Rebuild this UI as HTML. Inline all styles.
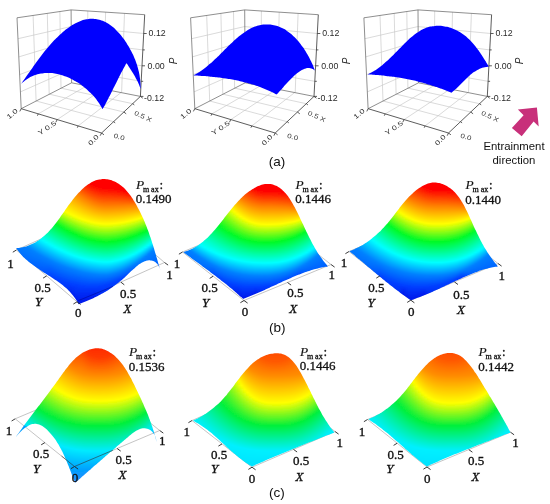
<!DOCTYPE html><html><head><meta charset="utf-8"><style>
html,body{margin:0;padding:0;background:#fff;}
svg{display:block}
.g{stroke:#c6c6c6;stroke-width:.65}
.e{stroke:#6a6a6a;stroke-width:.75}
.k{stroke:#333;stroke-width:.8}
.f{stroke:#aaa;stroke-width:.7}
.f2{stroke:#333;stroke-width:.6}
.t{stroke:#222;stroke-width:.9}
text{font-family:"Liberation Sans",Arial,sans-serif;fill:#222}
.al{font-size:8.8px;fill:#2a2a2a}
.ai{font-style:italic;font-size:10px}
.ax{font-size:8px;fill:#3a3a3a}
.sl{font-family:"Liberation Serif","Times New Roman",serif;font-size:13px;text-anchor:middle;fill:#111;stroke:#111;stroke-width:.35px}
.si{font-style:italic}
.pm{font-family:"Liberation Serif","Times New Roman",serif;font-size:13px;fill:#111;stroke:#111;stroke-width:.3px}
.pi{font-style:italic;font-size:13.4px;stroke-width:.15px}
.ps{font-family:"Liberation Serif","Times New Roman",serif;font-size:8px;fill:#111;stroke:#111;stroke-width:.3px}
.pl{font-size:13.5px;text-anchor:middle;fill:#111}
.en{font-size:11.35px;text-anchor:middle;fill:#111}
</style></head><body>
<svg width="550" height="504" viewBox="0 0 550 504">
<defs><filter id="hb" x="-5%" y="-5%" width="110%" height="110%"><feGaussianBlur stdDeviation="1.2 0.3"/></filter>
<linearGradient id="sb10" gradientUnits="userSpaceOnUse" x1="0" y1="177.0" x2="0" y2="305.2"><stop offset="0.008" stop-color="#ff0000"/><stop offset="0.011" stop-color="#ff0000"/><stop offset="0.014" stop-color="#ff8000"/><stop offset="0.017" stop-color="#ffff00"/><stop offset="0.103" stop-color="#00fa28"/><stop offset="0.346" stop-color="#00ffff"/><stop offset="0.491" stop-color="#0080ff"/><stop offset="0.892" stop-color="#003eff"/><stop offset="1.000" stop-color="#001cee"/></linearGradient>
<linearGradient id="sb11" gradientUnits="userSpaceOnUse" x1="0" y1="177.0" x2="0" y2="305.2"><stop offset="0.008" stop-color="#ff0000"/><stop offset="0.011" stop-color="#ff0000"/><stop offset="0.014" stop-color="#ff8000"/><stop offset="0.017" stop-color="#ffff00"/><stop offset="0.127" stop-color="#00fa28"/><stop offset="0.365" stop-color="#00ffff"/><stop offset="0.508" stop-color="#0080ff"/><stop offset="0.882" stop-color="#003eff"/><stop offset="1.000" stop-color="#001cee"/></linearGradient>
<linearGradient id="sb12" gradientUnits="userSpaceOnUse" x1="0" y1="177.0" x2="0" y2="305.2"><stop offset="0.008" stop-color="#ff0000"/><stop offset="0.011" stop-color="#ff0000"/><stop offset="0.014" stop-color="#ff8000"/><stop offset="0.017" stop-color="#ffff00"/><stop offset="0.151" stop-color="#00fa28"/><stop offset="0.383" stop-color="#00ffff"/><stop offset="0.524" stop-color="#0080ff"/><stop offset="0.872" stop-color="#003eff"/><stop offset="1.000" stop-color="#001cee"/></linearGradient>
<linearGradient id="sb13" gradientUnits="userSpaceOnUse" x1="0" y1="177.0" x2="0" y2="305.2"><stop offset="0.008" stop-color="#ff0000"/><stop offset="0.011" stop-color="#ff0000"/><stop offset="0.014" stop-color="#ff8000"/><stop offset="0.036" stop-color="#ffff00"/><stop offset="0.173" stop-color="#00fa28"/><stop offset="0.401" stop-color="#00ffff"/><stop offset="0.540" stop-color="#0080ff"/><stop offset="0.862" stop-color="#003eff"/><stop offset="1.000" stop-color="#001cee"/></linearGradient>
<linearGradient id="sb14" gradientUnits="userSpaceOnUse" x1="0" y1="177.0" x2="0" y2="305.2"><stop offset="0.008" stop-color="#ff0000"/><stop offset="0.011" stop-color="#ff0000"/><stop offset="0.014" stop-color="#ff8000"/><stop offset="0.058" stop-color="#ffff00"/><stop offset="0.195" stop-color="#00fa28"/><stop offset="0.418" stop-color="#00ffff"/><stop offset="0.555" stop-color="#0080ff"/><stop offset="0.852" stop-color="#003eff"/><stop offset="1.000" stop-color="#001cee"/></linearGradient>
<linearGradient id="sb15" gradientUnits="userSpaceOnUse" x1="0" y1="177.0" x2="0" y2="305.2"><stop offset="0.008" stop-color="#ff0000"/><stop offset="0.011" stop-color="#ff0000"/><stop offset="0.014" stop-color="#ff8000"/><stop offset="0.079" stop-color="#ffff00"/><stop offset="0.217" stop-color="#00fa28"/><stop offset="0.435" stop-color="#00ffff"/><stop offset="0.570" stop-color="#0080ff"/><stop offset="0.842" stop-color="#003eff"/><stop offset="1.000" stop-color="#001cee"/></linearGradient>
<linearGradient id="sb16" gradientUnits="userSpaceOnUse" x1="0" y1="177.0" x2="0" y2="305.2"><stop offset="0.008" stop-color="#ff0000"/><stop offset="0.011" stop-color="#ff0000"/><stop offset="0.014" stop-color="#ff8000"/><stop offset="0.100" stop-color="#ffff00"/><stop offset="0.238" stop-color="#00fa28"/><stop offset="0.451" stop-color="#00ffff"/><stop offset="0.584" stop-color="#0080ff"/><stop offset="0.832" stop-color="#003eff"/><stop offset="1.000" stop-color="#001cee"/></linearGradient>
<linearGradient id="sb17" gradientUnits="userSpaceOnUse" x1="0" y1="177.0" x2="0" y2="305.2"><stop offset="0.008" stop-color="#ff0000"/><stop offset="0.011" stop-color="#ff0000"/><stop offset="0.014" stop-color="#ff8000"/><stop offset="0.119" stop-color="#ffff00"/><stop offset="0.258" stop-color="#00fa28"/><stop offset="0.467" stop-color="#00ffff"/><stop offset="0.598" stop-color="#0080ff"/><stop offset="0.822" stop-color="#003eff"/><stop offset="1.000" stop-color="#001cee"/></linearGradient>
<linearGradient id="sb18" gradientUnits="userSpaceOnUse" x1="0" y1="177.0" x2="0" y2="305.2"><stop offset="0.008" stop-color="#ff0000"/><stop offset="0.011" stop-color="#ff0000"/><stop offset="0.014" stop-color="#ff8000"/><stop offset="0.139" stop-color="#ffff00"/><stop offset="0.277" stop-color="#00fa28"/><stop offset="0.482" stop-color="#00ffff"/><stop offset="0.611" stop-color="#0080ff"/><stop offset="0.812" stop-color="#003eff"/><stop offset="1.000" stop-color="#001cee"/></linearGradient>
<linearGradient id="sb19" gradientUnits="userSpaceOnUse" x1="0" y1="177.0" x2="0" y2="305.2"><stop offset="0.008" stop-color="#ff0000"/><stop offset="0.011" stop-color="#ff0000"/><stop offset="0.014" stop-color="#ff8000"/><stop offset="0.157" stop-color="#ffff00"/><stop offset="0.295" stop-color="#00fa28"/><stop offset="0.497" stop-color="#00ffff"/><stop offset="0.624" stop-color="#0080ff"/><stop offset="0.802" stop-color="#003eff"/><stop offset="1.000" stop-color="#001cee"/></linearGradient>
<linearGradient id="sb110" gradientUnits="userSpaceOnUse" x1="0" y1="177.0" x2="0" y2="305.2"><stop offset="0.008" stop-color="#ff0000"/><stop offset="0.011" stop-color="#ff0000"/><stop offset="0.014" stop-color="#ff8000"/><stop offset="0.175" stop-color="#ffff00"/><stop offset="0.313" stop-color="#00fa28"/><stop offset="0.511" stop-color="#00ffff"/><stop offset="0.636" stop-color="#0080ff"/><stop offset="0.792" stop-color="#003eff"/><stop offset="1.000" stop-color="#001cee"/></linearGradient>
<linearGradient id="sb111" gradientUnits="userSpaceOnUse" x1="0" y1="177.0" x2="0" y2="305.2"><stop offset="0.008" stop-color="#ff0000"/><stop offset="0.011" stop-color="#ff0000"/><stop offset="0.014" stop-color="#ff8000"/><stop offset="0.192" stop-color="#ffff00"/><stop offset="0.331" stop-color="#00fa28"/><stop offset="0.524" stop-color="#00ffff"/><stop offset="0.648" stop-color="#0080ff"/><stop offset="0.782" stop-color="#003eff"/><stop offset="1.000" stop-color="#001cee"/></linearGradient>
<linearGradient id="sb112" gradientUnits="userSpaceOnUse" x1="0" y1="177.0" x2="0" y2="305.2"><stop offset="0.008" stop-color="#ff0000"/><stop offset="0.011" stop-color="#ff0000"/><stop offset="0.014" stop-color="#ff8000"/><stop offset="0.208" stop-color="#ffff00"/><stop offset="0.347" stop-color="#00fa28"/><stop offset="0.537" stop-color="#00ffff"/><stop offset="0.659" stop-color="#0080ff"/><stop offset="0.788" stop-color="#003eff"/><stop offset="1.000" stop-color="#001cee"/></linearGradient>
<linearGradient id="sb113" gradientUnits="userSpaceOnUse" x1="0" y1="177.0" x2="0" y2="305.2"><stop offset="0.008" stop-color="#ff0000"/><stop offset="0.011" stop-color="#ff0000"/><stop offset="0.014" stop-color="#ff8000"/><stop offset="0.224" stop-color="#ffff00"/><stop offset="0.363" stop-color="#00fa28"/><stop offset="0.550" stop-color="#00ffff"/><stop offset="0.670" stop-color="#0080ff"/><stop offset="0.797" stop-color="#003eff"/><stop offset="1.000" stop-color="#001cee"/></linearGradient>
<linearGradient id="sb114" gradientUnits="userSpaceOnUse" x1="0" y1="177.0" x2="0" y2="305.2"><stop offset="0.008" stop-color="#ff0000"/><stop offset="0.011" stop-color="#ff0000"/><stop offset="0.014" stop-color="#ff8000"/><stop offset="0.239" stop-color="#ffff00"/><stop offset="0.378" stop-color="#00fa28"/><stop offset="0.562" stop-color="#00ffff"/><stop offset="0.680" stop-color="#0080ff"/><stop offset="0.806" stop-color="#003eff"/><stop offset="1.000" stop-color="#001cee"/></linearGradient>
<linearGradient id="sb115" gradientUnits="userSpaceOnUse" x1="0" y1="177.0" x2="0" y2="305.2"><stop offset="0.008" stop-color="#ff0000"/><stop offset="0.011" stop-color="#ff0000"/><stop offset="0.014" stop-color="#ff8000"/><stop offset="0.253" stop-color="#ffff00"/><stop offset="0.392" stop-color="#00fa28"/><stop offset="0.573" stop-color="#00ffff"/><stop offset="0.690" stop-color="#0080ff"/><stop offset="0.814" stop-color="#003eff"/><stop offset="1.000" stop-color="#001cee"/></linearGradient>
<linearGradient id="sb116" gradientUnits="userSpaceOnUse" x1="0" y1="177.0" x2="0" y2="305.2"><stop offset="0.008" stop-color="#ff0000"/><stop offset="0.011" stop-color="#ff0000"/><stop offset="0.033" stop-color="#ff8000"/><stop offset="0.266" stop-color="#ffff00"/><stop offset="0.406" stop-color="#00fa28"/><stop offset="0.584" stop-color="#00ffff"/><stop offset="0.699" stop-color="#0080ff"/><stop offset="0.822" stop-color="#003eff"/><stop offset="0.987" stop-color="#001cee"/></linearGradient>
<linearGradient id="sb117" gradientUnits="userSpaceOnUse" x1="0" y1="177.0" x2="0" y2="305.2"><stop offset="0.008" stop-color="#ff0000"/><stop offset="0.011" stop-color="#ff0000"/><stop offset="0.057" stop-color="#ff8000"/><stop offset="0.279" stop-color="#ffff00"/><stop offset="0.419" stop-color="#00fa28"/><stop offset="0.594" stop-color="#00ffff"/><stop offset="0.708" stop-color="#0080ff"/><stop offset="0.828" stop-color="#003eff"/><stop offset="0.953" stop-color="#001cee"/></linearGradient>
<linearGradient id="sb118" gradientUnits="userSpaceOnUse" x1="0" y1="177.0" x2="0" y2="305.2"><stop offset="0.008" stop-color="#ff0000"/><stop offset="0.011" stop-color="#ff0000"/><stop offset="0.080" stop-color="#ff8000"/><stop offset="0.291" stop-color="#ffff00"/><stop offset="0.431" stop-color="#00fa28"/><stop offset="0.603" stop-color="#00ffff"/><stop offset="0.716" stop-color="#0080ff"/><stop offset="0.835" stop-color="#003eff"/><stop offset="0.918" stop-color="#001cee"/></linearGradient>
<linearGradient id="sb119" gradientUnits="userSpaceOnUse" x1="0" y1="177.0" x2="0" y2="305.2"><stop offset="0.008" stop-color="#ff0000"/><stop offset="0.011" stop-color="#ff0000"/><stop offset="0.102" stop-color="#ff8000"/><stop offset="0.302" stop-color="#ffff00"/><stop offset="0.442" stop-color="#00fa28"/><stop offset="0.612" stop-color="#00ffff"/><stop offset="0.723" stop-color="#0080ff"/><stop offset="0.840" stop-color="#003eff"/><stop offset="0.938" stop-color="#001cee"/></linearGradient>
<linearGradient id="sb120" gradientUnits="userSpaceOnUse" x1="0" y1="177.0" x2="0" y2="305.2"><stop offset="0.008" stop-color="#ff0000"/><stop offset="0.011" stop-color="#ff0000"/><stop offset="0.122" stop-color="#ff8000"/><stop offset="0.312" stop-color="#ffff00"/><stop offset="0.452" stop-color="#00fa28"/><stop offset="0.620" stop-color="#00ffff"/><stop offset="0.730" stop-color="#0080ff"/><stop offset="0.845" stop-color="#003eff"/><stop offset="0.957" stop-color="#001cee"/></linearGradient>
<linearGradient id="sb121" gradientUnits="userSpaceOnUse" x1="0" y1="177.0" x2="0" y2="305.2"><stop offset="0.008" stop-color="#ff0000"/><stop offset="0.011" stop-color="#ff0000"/><stop offset="0.140" stop-color="#ff8000"/><stop offset="0.322" stop-color="#ffff00"/><stop offset="0.462" stop-color="#00fa28"/><stop offset="0.628" stop-color="#00ffff"/><stop offset="0.737" stop-color="#0080ff"/><stop offset="0.849" stop-color="#003eff"/><stop offset="0.963" stop-color="#001cee"/></linearGradient>
<linearGradient id="sb122" gradientUnits="userSpaceOnUse" x1="0" y1="177.0" x2="0" y2="305.2"><stop offset="0.008" stop-color="#ff0000"/><stop offset="0.016" stop-color="#ff0000"/><stop offset="0.157" stop-color="#ff8000"/><stop offset="0.331" stop-color="#ffff00"/><stop offset="0.471" stop-color="#00fa28"/><stop offset="0.634" stop-color="#00ffff"/><stop offset="0.743" stop-color="#0080ff"/><stop offset="0.853" stop-color="#003eff"/><stop offset="0.961" stop-color="#001cee"/></linearGradient>
<linearGradient id="sb123" gradientUnits="userSpaceOnUse" x1="0" y1="177.0" x2="0" y2="305.2"><stop offset="0.008" stop-color="#ff0000"/><stop offset="0.031" stop-color="#ff0000"/><stop offset="0.172" stop-color="#ff8000"/><stop offset="0.338" stop-color="#ffff00"/><stop offset="0.479" stop-color="#00fa28"/><stop offset="0.641" stop-color="#00ffff"/><stop offset="0.748" stop-color="#0080ff"/><stop offset="0.855" stop-color="#003eff"/><stop offset="0.957" stop-color="#001cee"/></linearGradient>
<linearGradient id="sb124" gradientUnits="userSpaceOnUse" x1="0" y1="177.0" x2="0" y2="305.2"><stop offset="0.008" stop-color="#ff0000"/><stop offset="0.045" stop-color="#ff0000"/><stop offset="0.185" stop-color="#ff8000"/><stop offset="0.345" stop-color="#ffff00"/><stop offset="0.486" stop-color="#00fa28"/><stop offset="0.646" stop-color="#00ffff"/><stop offset="0.752" stop-color="#0080ff"/><stop offset="0.857" stop-color="#003eff"/><stop offset="0.951" stop-color="#001cee"/></linearGradient>
<linearGradient id="sb125" gradientUnits="userSpaceOnUse" x1="0" y1="177.0" x2="0" y2="305.2"><stop offset="0.008" stop-color="#ff0000"/><stop offset="0.057" stop-color="#ff0000"/><stop offset="0.197" stop-color="#ff8000"/><stop offset="0.352" stop-color="#ffff00"/><stop offset="0.492" stop-color="#00fa28"/><stop offset="0.651" stop-color="#00ffff"/><stop offset="0.756" stop-color="#0080ff"/><stop offset="0.858" stop-color="#003eff"/><stop offset="0.944" stop-color="#001cee"/></linearGradient>
<linearGradient id="sb126" gradientUnits="userSpaceOnUse" x1="0" y1="177.0" x2="0" y2="305.2"><stop offset="0.008" stop-color="#ff0000"/><stop offset="0.067" stop-color="#ff0000"/><stop offset="0.207" stop-color="#ff8000"/><stop offset="0.357" stop-color="#ffff00"/><stop offset="0.497" stop-color="#00fa28"/><stop offset="0.655" stop-color="#00ffff"/><stop offset="0.759" stop-color="#0080ff"/><stop offset="0.857" stop-color="#003eff"/><stop offset="0.938" stop-color="#001cee"/></linearGradient>
<linearGradient id="sb127" gradientUnits="userSpaceOnUse" x1="0" y1="177.0" x2="0" y2="305.2"><stop offset="0.008" stop-color="#ff0000"/><stop offset="0.075" stop-color="#ff0000"/><stop offset="0.215" stop-color="#ff8000"/><stop offset="0.361" stop-color="#ffff00"/><stop offset="0.501" stop-color="#00fa28"/><stop offset="0.658" stop-color="#00ffff"/><stop offset="0.762" stop-color="#0080ff"/><stop offset="0.855" stop-color="#003eff"/><stop offset="0.948" stop-color="#001cee"/></linearGradient>
<linearGradient id="sb128" gradientUnits="userSpaceOnUse" x1="0" y1="177.0" x2="0" y2="305.2"><stop offset="0.008" stop-color="#ff0000"/><stop offset="0.081" stop-color="#ff0000"/><stop offset="0.221" stop-color="#ff8000"/><stop offset="0.364" stop-color="#ffff00"/><stop offset="0.504" stop-color="#00fa28"/><stop offset="0.661" stop-color="#00ffff"/><stop offset="0.764" stop-color="#0080ff"/><stop offset="0.852" stop-color="#003eff"/><stop offset="0.957" stop-color="#001cee"/></linearGradient>
<linearGradient id="sb129" gradientUnits="userSpaceOnUse" x1="0" y1="177.0" x2="0" y2="305.2"><stop offset="0.008" stop-color="#ff0000"/><stop offset="0.085" stop-color="#ff0000"/><stop offset="0.225" stop-color="#ff8000"/><stop offset="0.366" stop-color="#ffff00"/><stop offset="0.506" stop-color="#00fa28"/><stop offset="0.663" stop-color="#00ffff"/><stop offset="0.764" stop-color="#0080ff"/><stop offset="0.847" stop-color="#003eff"/><stop offset="0.967" stop-color="#001cee"/></linearGradient>
<linearGradient id="sb130" gradientUnits="userSpaceOnUse" x1="0" y1="177.0" x2="0" y2="305.2"><stop offset="0.008" stop-color="#ff0000"/><stop offset="0.086" stop-color="#ff0000"/><stop offset="0.226" stop-color="#ff8000"/><stop offset="0.367" stop-color="#ffff00"/><stop offset="0.507" stop-color="#00fa28"/><stop offset="0.663" stop-color="#00ffff"/><stop offset="0.764" stop-color="#0080ff"/><stop offset="0.842" stop-color="#003eff"/><stop offset="0.977" stop-color="#001cee"/></linearGradient>
<linearGradient id="sb131" gradientUnits="userSpaceOnUse" x1="0" y1="177.0" x2="0" y2="305.2"><stop offset="0.008" stop-color="#ff0000"/><stop offset="0.087" stop-color="#ff0000"/><stop offset="0.226" stop-color="#ff8000"/><stop offset="0.366" stop-color="#ffff00"/><stop offset="0.506" stop-color="#00fa28"/><stop offset="0.662" stop-color="#00ffff"/><stop offset="0.761" stop-color="#0080ff"/><stop offset="0.835" stop-color="#003eff"/><stop offset="0.987" stop-color="#001cee"/></linearGradient>
<linearGradient id="sb132" gradientUnits="userSpaceOnUse" x1="0" y1="177.0" x2="0" y2="305.2"><stop offset="0.008" stop-color="#ff0000"/><stop offset="0.089" stop-color="#ff0000"/><stop offset="0.226" stop-color="#ff8000"/><stop offset="0.364" stop-color="#ffff00"/><stop offset="0.504" stop-color="#00fa28"/><stop offset="0.659" stop-color="#00ffff"/><stop offset="0.756" stop-color="#0080ff"/><stop offset="0.828" stop-color="#003eff"/><stop offset="0.997" stop-color="#001cee"/></linearGradient>
<linearGradient id="sb133" gradientUnits="userSpaceOnUse" x1="0" y1="177.0" x2="0" y2="305.2"><stop offset="0.008" stop-color="#ff0000"/><stop offset="0.093" stop-color="#ff0000"/><stop offset="0.225" stop-color="#ff8000"/><stop offset="0.362" stop-color="#ffff00"/><stop offset="0.501" stop-color="#00fa28"/><stop offset="0.654" stop-color="#00ffff"/><stop offset="0.750" stop-color="#0080ff"/><stop offset="0.819" stop-color="#003eff"/><stop offset="1.000" stop-color="#001cee"/></linearGradient>
<linearGradient id="sb134" gradientUnits="userSpaceOnUse" x1="0" y1="177.0" x2="0" y2="305.2"><stop offset="0.008" stop-color="#ff0000"/><stop offset="0.097" stop-color="#ff0000"/><stop offset="0.224" stop-color="#ff8000"/><stop offset="0.359" stop-color="#ffff00"/><stop offset="0.496" stop-color="#00fa28"/><stop offset="0.649" stop-color="#00ffff"/><stop offset="0.743" stop-color="#0080ff"/><stop offset="0.810" stop-color="#003eff"/><stop offset="1.000" stop-color="#001cee"/></linearGradient>
<linearGradient id="sb135" gradientUnits="userSpaceOnUse" x1="0" y1="177.0" x2="0" y2="305.2"><stop offset="0.008" stop-color="#ff0000"/><stop offset="0.102" stop-color="#ff0000"/><stop offset="0.224" stop-color="#ff8000"/><stop offset="0.356" stop-color="#ffff00"/><stop offset="0.491" stop-color="#00fa28"/><stop offset="0.642" stop-color="#00ffff"/><stop offset="0.734" stop-color="#0080ff"/><stop offset="0.799" stop-color="#003eff"/><stop offset="1.000" stop-color="#001cee"/></linearGradient>
<linearGradient id="sb136" gradientUnits="userSpaceOnUse" x1="0" y1="177.0" x2="0" y2="305.2"><stop offset="0.008" stop-color="#ff0000"/><stop offset="0.108" stop-color="#ff0000"/><stop offset="0.223" stop-color="#ff8000"/><stop offset="0.352" stop-color="#ffff00"/><stop offset="0.486" stop-color="#00fa28"/><stop offset="0.634" stop-color="#00ffff"/><stop offset="0.724" stop-color="#0080ff"/><stop offset="0.788" stop-color="#003eff"/><stop offset="1.000" stop-color="#001cee"/></linearGradient>
<linearGradient id="sb137" gradientUnits="userSpaceOnUse" x1="0" y1="177.0" x2="0" y2="305.2"><stop offset="0.008" stop-color="#ff0000"/><stop offset="0.115" stop-color="#ff0000"/><stop offset="0.221" stop-color="#ff8000"/><stop offset="0.347" stop-color="#ffff00"/><stop offset="0.479" stop-color="#00fa28"/><stop offset="0.625" stop-color="#00ffff"/><stop offset="0.712" stop-color="#0080ff"/><stop offset="0.776" stop-color="#003eff"/><stop offset="1.000" stop-color="#001cee"/></linearGradient>
<linearGradient id="sb138" gradientUnits="userSpaceOnUse" x1="0" y1="177.0" x2="0" y2="305.2"><stop offset="0.008" stop-color="#ff0000"/><stop offset="0.123" stop-color="#ff0000"/><stop offset="0.220" stop-color="#ff8000"/><stop offset="0.342" stop-color="#ffff00"/><stop offset="0.471" stop-color="#00fa28"/><stop offset="0.615" stop-color="#00ffff"/><stop offset="0.700" stop-color="#0080ff"/><stop offset="0.763" stop-color="#003eff"/><stop offset="1.000" stop-color="#001cee"/></linearGradient>
<linearGradient id="sb139" gradientUnits="userSpaceOnUse" x1="0" y1="177.0" x2="0" y2="305.2"><stop offset="0.008" stop-color="#ff0000"/><stop offset="0.131" stop-color="#ff0000"/><stop offset="0.219" stop-color="#ff8000"/><stop offset="0.336" stop-color="#ffff00"/><stop offset="0.463" stop-color="#00fa28"/><stop offset="0.604" stop-color="#00ffff"/><stop offset="0.686" stop-color="#0080ff"/><stop offset="0.763" stop-color="#003eff"/><stop offset="1.000" stop-color="#001cee"/></linearGradient>
<linearGradient id="sb140" gradientUnits="userSpaceOnUse" x1="0" y1="177.0" x2="0" y2="305.2"><stop offset="0.008" stop-color="#ff0000"/><stop offset="0.141" stop-color="#ff0000"/><stop offset="0.217" stop-color="#ff8000"/><stop offset="0.330" stop-color="#ffff00"/><stop offset="0.454" stop-color="#00fa28"/><stop offset="0.592" stop-color="#00ffff"/><stop offset="0.671" stop-color="#0080ff"/><stop offset="0.777" stop-color="#003eff"/><stop offset="1.000" stop-color="#001cee"/></linearGradient>
<linearGradient id="sb141" gradientUnits="userSpaceOnUse" x1="0" y1="177.0" x2="0" y2="305.2"><stop offset="0.008" stop-color="#ff0000"/><stop offset="0.151" stop-color="#ff0000"/><stop offset="0.215" stop-color="#ff8000"/><stop offset="0.323" stop-color="#ffff00"/><stop offset="0.444" stop-color="#00fa28"/><stop offset="0.578" stop-color="#00ffff"/><stop offset="0.655" stop-color="#0080ff"/><stop offset="0.791" stop-color="#003eff"/><stop offset="1.000" stop-color="#001cee"/></linearGradient>
<linearGradient id="sb142" gradientUnits="userSpaceOnUse" x1="0" y1="177.0" x2="0" y2="305.2"><stop offset="0.008" stop-color="#ff0000"/><stop offset="0.162" stop-color="#ff0000"/><stop offset="0.214" stop-color="#ff8000"/><stop offset="0.316" stop-color="#ffff00"/><stop offset="0.434" stop-color="#00fa28"/><stop offset="0.564" stop-color="#00ffff"/><stop offset="0.638" stop-color="#0080ff"/><stop offset="0.805" stop-color="#003eff"/><stop offset="1.000" stop-color="#001cee"/></linearGradient>
<linearGradient id="sb143" gradientUnits="userSpaceOnUse" x1="0" y1="177.0" x2="0" y2="305.2"><stop offset="0.008" stop-color="#ff0000"/><stop offset="0.173" stop-color="#ff0000"/><stop offset="0.212" stop-color="#ff8000"/><stop offset="0.308" stop-color="#ffff00"/><stop offset="0.423" stop-color="#00fa28"/><stop offset="0.549" stop-color="#00ffff"/><stop offset="0.620" stop-color="#0080ff"/><stop offset="0.818" stop-color="#003eff"/><stop offset="1.000" stop-color="#001cee"/></linearGradient>
<linearGradient id="sb144" gradientUnits="userSpaceOnUse" x1="0" y1="177.0" x2="0" y2="305.2"><stop offset="0.008" stop-color="#ff0000"/><stop offset="0.185" stop-color="#ff0000"/><stop offset="0.210" stop-color="#ff8000"/><stop offset="0.300" stop-color="#ffff00"/><stop offset="0.411" stop-color="#00fa28"/><stop offset="0.533" stop-color="#00ffff"/><stop offset="0.600" stop-color="#0080ff"/><stop offset="0.832" stop-color="#003eff"/><stop offset="1.000" stop-color="#001cee"/></linearGradient>
<linearGradient id="sb145" gradientUnits="userSpaceOnUse" x1="0" y1="177.0" x2="0" y2="305.2"><stop offset="0.008" stop-color="#ff0000"/><stop offset="0.198" stop-color="#ff0000"/><stop offset="0.208" stop-color="#ff8000"/><stop offset="0.291" stop-color="#ffff00"/><stop offset="0.398" stop-color="#00fa28"/><stop offset="0.516" stop-color="#00ffff"/><stop offset="0.580" stop-color="#0080ff"/><stop offset="0.846" stop-color="#003eff"/><stop offset="1.000" stop-color="#001cee"/></linearGradient>
<linearGradient id="sb146" gradientUnits="userSpaceOnUse" x1="0" y1="177.0" x2="0" y2="305.2"><stop offset="0.008" stop-color="#ff0000"/><stop offset="0.212" stop-color="#ff0000"/><stop offset="0.215" stop-color="#ff8000"/><stop offset="0.282" stop-color="#ffff00"/><stop offset="0.385" stop-color="#00fa28"/><stop offset="0.498" stop-color="#00ffff"/><stop offset="0.559" stop-color="#0080ff"/><stop offset="0.859" stop-color="#003eff"/><stop offset="1.000" stop-color="#001cee"/></linearGradient>
<linearGradient id="sb147" gradientUnits="userSpaceOnUse" x1="0" y1="177.0" x2="0" y2="305.2"><stop offset="0.008" stop-color="#ff0000"/><stop offset="0.227" stop-color="#ff0000"/><stop offset="0.230" stop-color="#ff8000"/><stop offset="0.273" stop-color="#ffff00"/><stop offset="0.371" stop-color="#00fa28"/><stop offset="0.480" stop-color="#00ffff"/><stop offset="0.536" stop-color="#0080ff"/><stop offset="0.873" stop-color="#003eff"/><stop offset="1.000" stop-color="#001cee"/></linearGradient>
<linearGradient id="sb148" gradientUnits="userSpaceOnUse" x1="0" y1="177.0" x2="0" y2="305.2"><stop offset="0.008" stop-color="#ff0000"/><stop offset="0.242" stop-color="#ff0000"/><stop offset="0.245" stop-color="#ff8000"/><stop offset="0.262" stop-color="#ffff00"/><stop offset="0.357" stop-color="#00fa28"/><stop offset="0.460" stop-color="#00ffff"/><stop offset="0.512" stop-color="#0080ff"/><stop offset="0.887" stop-color="#003eff"/><stop offset="1.000" stop-color="#001cee"/></linearGradient>
<clipPath id="cb1"><path d="M16.1 248.1C16.5 248.1 17.9 248.0 18.7 247.9C19.6 247.8 20.4 247.7 21.3 247.6C22.1 247.4 23.0 247.2 23.8 247.0C24.6 246.8 25.4 246.6 26.2 246.4C27.0 246.1 27.8 245.9 28.6 245.6C29.3 245.3 30.1 245.0 30.9 244.6C31.6 244.3 32.4 243.9 33.1 243.6C33.8 243.2 34.6 242.8 35.3 242.4C36.0 242.0 36.7 241.5 37.4 241.1C38.1 240.7 38.8 240.2 39.4 239.7C40.1 239.2 40.8 238.7 41.4 238.2C42.1 237.7 42.7 237.2 43.4 236.6C44.0 236.1 44.6 235.6 45.2 235.0C45.9 234.4 46.5 233.9 47.1 233.3C47.7 232.7 48.2 232.1 48.8 231.5C49.4 230.9 50.0 230.3 50.5 229.6C51.1 229.0 51.6 228.4 52.2 227.7C52.7 227.1 53.3 226.5 53.8 225.8C54.3 225.2 54.8 224.5 55.4 223.8C55.9 223.2 56.4 222.5 56.9 221.8C57.4 221.1 57.9 220.5 58.4 219.8C58.9 219.1 59.4 218.4 59.9 217.7C60.4 217.0 60.9 216.3 61.3 215.6C61.8 214.9 62.3 214.2 62.8 213.5C63.3 212.8 63.8 212.1 64.3 211.4C64.8 210.7 65.3 210.0 65.7 209.3C66.2 208.6 66.7 207.9 67.2 207.2C67.7 206.5 68.2 205.8 68.7 205.1C69.3 204.4 69.8 203.7 70.3 203.0C70.8 202.3 71.3 201.6 71.9 200.9C72.4 200.2 72.9 199.5 73.5 198.8C74.0 198.2 74.6 197.5 75.1 196.8C75.7 196.1 76.3 195.4 76.9 194.8C77.4 194.1 78.0 193.5 78.6 192.8C79.2 192.2 79.9 191.5 80.5 190.9C81.1 190.3 81.7 189.7 82.4 189.1C83.0 188.5 83.6 187.9 84.3 187.3C84.9 186.8 85.6 186.2 86.3 185.7C86.9 185.2 87.6 184.7 88.3 184.2C89.0 183.8 89.7 183.3 90.4 182.9C91.1 182.5 91.8 182.1 92.5 181.8C93.2 181.4 94.0 181.1 94.7 180.8C95.4 180.5 96.2 180.3 96.9 180.1C97.7 179.8 98.4 179.7 99.2 179.5C99.9 179.4 100.7 179.3 101.4 179.2C102.2 179.2 103.0 179.1 103.8 179.1C104.5 179.1 105.3 179.2 106.1 179.3C106.8 179.3 107.6 179.4 108.4 179.6C109.1 179.7 109.9 179.9 110.6 180.1C111.4 180.3 112.2 180.6 112.9 180.9C113.6 181.1 114.4 181.4 115.1 181.8C115.8 182.1 116.5 182.5 117.2 182.9C117.9 183.3 118.6 183.7 119.3 184.2C120.0 184.6 120.6 185.1 121.3 185.7C121.9 186.2 122.5 186.7 123.2 187.3C123.8 187.8 124.4 188.4 125.0 189.0C125.6 189.6 126.2 190.3 126.7 190.9C127.3 191.5 127.9 192.2 128.4 192.9C129.0 193.6 129.5 194.3 130.0 195.0C130.6 195.7 131.1 196.4 131.6 197.2C132.1 197.9 132.6 198.6 133.1 199.4C133.6 200.2 134.0 200.9 134.5 201.7C135.0 202.5 135.4 203.2 135.9 204.0C136.3 204.8 136.8 205.6 137.2 206.4C137.6 207.2 138.0 207.9 138.4 208.7C138.8 209.5 139.3 210.3 139.6 211.1C140.0 211.9 140.4 212.7 140.8 213.4C141.2 214.2 141.5 215.0 141.9 215.8C142.3 216.6 142.6 217.3 143.0 218.1C143.3 218.9 143.7 219.7 144.0 220.5C144.3 221.2 144.7 222.0 145.0 222.8C145.3 223.6 145.6 224.3 145.9 225.1C146.2 225.9 146.6 226.7 146.9 227.4C147.2 228.2 147.4 229.0 147.7 229.8C148.0 230.5 148.3 231.3 148.6 232.1C148.9 232.9 149.2 233.6 149.4 234.4C149.7 235.2 150.0 236.0 150.2 236.8C150.5 237.5 150.8 238.3 151.0 239.1C151.3 239.9 151.5 240.7 151.8 241.4C152.0 242.2 152.3 243.0 152.5 243.8C152.8 244.6 153.0 245.4 153.3 246.2C153.5 246.9 153.7 247.7 154.0 248.5C154.2 249.3 154.5 250.1 154.7 250.9C154.9 251.7 155.2 252.5 155.4 253.3C155.6 254.1 155.9 254.9 156.1 255.7C156.3 256.5 156.6 257.3 156.8 258.1C157.1 258.9 157.3 259.7 157.5 260.5C157.8 261.3 158.0 262.2 158.2 263.0C158.5 263.8 158.7 264.6 158.9 265.4C159.2 266.2 159.4 267.1 159.7 267.9C159.9 268.7 160.3 270.0 160.4 270.4C160.2 269.9 159.7 268.2 159.3 267.2C158.9 266.3 158.4 265.5 157.9 264.7C157.4 264.0 156.8 263.4 156.2 262.9C155.6 262.3 155.0 261.9 154.3 261.5C153.7 261.2 153.0 260.9 152.3 260.7C151.6 260.5 150.9 260.4 150.2 260.4C149.5 260.3 148.7 260.4 148.0 260.5C147.3 260.5 146.6 260.7 145.8 260.9C145.1 261.1 144.4 261.4 143.7 261.7C143.0 262.0 142.3 262.4 141.6 262.8C140.9 263.2 140.2 263.7 139.5 264.1C138.8 264.6 138.1 265.1 137.4 265.7C136.7 266.2 136.0 266.8 135.3 267.4C134.7 268.0 134.0 268.6 133.3 269.2C132.6 269.8 131.9 270.5 131.2 271.1C130.6 271.8 129.9 272.4 129.2 273.1C128.5 273.7 127.8 274.4 127.2 275.0C126.5 275.6 125.8 276.3 125.1 276.9C124.5 277.5 123.8 278.1 123.1 278.7C122.4 279.3 121.8 279.9 121.1 280.5C120.4 281.1 119.7 281.6 119.1 282.2C118.4 282.7 117.7 283.3 117.0 283.8C116.3 284.3 115.6 284.8 115.0 285.3C114.3 285.9 113.6 286.4 112.9 286.8C112.2 287.3 111.5 287.8 110.8 288.3C110.1 288.8 109.4 289.2 108.7 289.7C108.0 290.1 107.3 290.6 106.6 291.0C105.9 291.5 105.2 291.9 104.4 292.3C103.7 292.7 103.0 293.2 102.3 293.6C101.5 294.0 100.8 294.4 100.1 294.8C99.3 295.2 98.6 295.6 97.8 295.9C97.1 296.3 96.3 296.7 95.6 297.1C94.8 297.4 94.0 297.8 93.3 298.2C92.5 298.5 91.7 298.9 90.9 299.2C90.1 299.6 89.3 299.9 88.5 300.3C87.7 300.6 86.9 300.9 86.1 301.3C85.3 301.6 84.5 301.9 83.6 302.3C82.8 302.6 81.9 302.9 81.1 303.2C80.2 303.6 78.9 304.0 78.5 304.2C78.3 303.8 77.7 302.6 77.3 301.8C76.8 301.1 76.4 300.3 75.9 299.6C75.5 298.9 75.0 298.2 74.5 297.5C74.0 296.8 73.5 296.1 73.0 295.4C72.4 294.8 71.9 294.1 71.3 293.5C70.8 292.8 70.2 292.2 69.6 291.6C69.1 291.0 68.5 290.4 67.9 289.8C67.3 289.2 66.7 288.6 66.0 288.1C65.4 287.5 64.8 287.0 64.1 286.4C63.5 285.9 62.8 285.4 62.2 284.8C61.5 284.3 60.8 283.8 60.2 283.3C59.5 282.8 58.8 282.3 58.1 281.8C57.4 281.3 56.7 280.8 56.0 280.3C55.3 279.8 54.6 279.3 53.9 278.9C53.2 278.4 52.5 277.9 51.7 277.4C51.0 277.0 50.3 276.5 49.6 276.0C48.8 275.6 48.1 275.1 47.4 274.7C46.7 274.2 45.9 273.7 45.2 273.3C44.5 272.8 43.8 272.3 43.0 271.9C42.3 271.4 41.6 270.9 40.9 270.5C40.1 270.0 39.4 269.5 38.7 269.0C38.0 268.6 37.3 268.1 36.5 267.6C35.8 267.1 35.1 266.6 34.4 266.1C33.7 265.6 33.0 265.1 32.4 264.6C31.7 264.1 31.0 263.6 30.3 263.0C29.6 262.5 29.0 262.0 28.3 261.4C27.6 260.9 27.0 260.3 26.4 259.8C25.7 259.2 25.1 258.6 24.5 258.0C23.8 257.4 23.2 256.8 22.6 256.2C22.0 255.6 21.5 255.0 20.9 254.3C20.3 253.7 19.8 253.0 19.2 252.3C18.7 251.7 18.1 251.0 17.6 250.3C17.1 249.6 16.4 248.5 16.1 248.1Z"/></clipPath>
<linearGradient id="sb20" gradientUnits="userSpaceOnUse" x1="0" y1="181.8" x2="0" y2="299.9"><stop offset="0.002" stop-color="#ff0000"/><stop offset="0.005" stop-color="#ff0000"/><stop offset="0.008" stop-color="#ff8000"/><stop offset="0.012" stop-color="#ffff00"/><stop offset="0.024" stop-color="#00fa28"/><stop offset="0.437" stop-color="#00ffff"/><stop offset="0.531" stop-color="#0080ff"/><stop offset="0.953" stop-color="#003eff"/><stop offset="1.000" stop-color="#001cee"/></linearGradient>
<linearGradient id="sb21" gradientUnits="userSpaceOnUse" x1="0" y1="181.8" x2="0" y2="299.9"><stop offset="0.002" stop-color="#ff0000"/><stop offset="0.005" stop-color="#ff0000"/><stop offset="0.008" stop-color="#ff8000"/><stop offset="0.012" stop-color="#ffff00"/><stop offset="0.063" stop-color="#00fa28"/><stop offset="0.457" stop-color="#00ffff"/><stop offset="0.553" stop-color="#0080ff"/><stop offset="0.937" stop-color="#003eff"/><stop offset="1.000" stop-color="#001cee"/></linearGradient>
<linearGradient id="sb22" gradientUnits="userSpaceOnUse" x1="0" y1="181.8" x2="0" y2="299.9"><stop offset="0.002" stop-color="#ff0000"/><stop offset="0.005" stop-color="#ff0000"/><stop offset="0.008" stop-color="#ff8000"/><stop offset="0.012" stop-color="#ffff00"/><stop offset="0.099" stop-color="#00fa28"/><stop offset="0.476" stop-color="#00ffff"/><stop offset="0.574" stop-color="#0080ff"/><stop offset="0.921" stop-color="#003eff"/><stop offset="1.000" stop-color="#001cee"/></linearGradient>
<linearGradient id="sb23" gradientUnits="userSpaceOnUse" x1="0" y1="181.8" x2="0" y2="299.9"><stop offset="0.002" stop-color="#ff0000"/><stop offset="0.005" stop-color="#ff0000"/><stop offset="0.008" stop-color="#ff8000"/><stop offset="0.012" stop-color="#ffff00"/><stop offset="0.134" stop-color="#00fa28"/><stop offset="0.493" stop-color="#00ffff"/><stop offset="0.594" stop-color="#0080ff"/><stop offset="0.905" stop-color="#003eff"/><stop offset="1.000" stop-color="#001cee"/></linearGradient>
<linearGradient id="sb24" gradientUnits="userSpaceOnUse" x1="0" y1="181.8" x2="0" y2="299.9"><stop offset="0.002" stop-color="#ff0000"/><stop offset="0.005" stop-color="#ff0000"/><stop offset="0.008" stop-color="#ff8000"/><stop offset="0.012" stop-color="#ffff00"/><stop offset="0.167" stop-color="#00fa28"/><stop offset="0.510" stop-color="#00ffff"/><stop offset="0.613" stop-color="#0080ff"/><stop offset="0.890" stop-color="#003eff"/><stop offset="1.000" stop-color="#001cee"/></linearGradient>
<linearGradient id="sb25" gradientUnits="userSpaceOnUse" x1="0" y1="181.8" x2="0" y2="299.9"><stop offset="0.002" stop-color="#ff0000"/><stop offset="0.005" stop-color="#ff0000"/><stop offset="0.008" stop-color="#ff8000"/><stop offset="0.012" stop-color="#ffff00"/><stop offset="0.199" stop-color="#00fa28"/><stop offset="0.527" stop-color="#00ffff"/><stop offset="0.631" stop-color="#0080ff"/><stop offset="0.874" stop-color="#003eff"/><stop offset="1.000" stop-color="#001cee"/></linearGradient>
<linearGradient id="sb26" gradientUnits="userSpaceOnUse" x1="0" y1="181.8" x2="0" y2="299.9"><stop offset="0.002" stop-color="#ff0000"/><stop offset="0.005" stop-color="#ff0000"/><stop offset="0.008" stop-color="#ff8000"/><stop offset="0.012" stop-color="#ffff00"/><stop offset="0.229" stop-color="#00fa28"/><stop offset="0.542" stop-color="#00ffff"/><stop offset="0.648" stop-color="#0080ff"/><stop offset="0.858" stop-color="#003eff"/><stop offset="1.000" stop-color="#001cee"/></linearGradient>
<linearGradient id="sb27" gradientUnits="userSpaceOnUse" x1="0" y1="181.8" x2="0" y2="299.9"><stop offset="0.002" stop-color="#ff0000"/><stop offset="0.005" stop-color="#ff0000"/><stop offset="0.008" stop-color="#ff8000"/><stop offset="0.012" stop-color="#ffff00"/><stop offset="0.257" stop-color="#00fa28"/><stop offset="0.556" stop-color="#00ffff"/><stop offset="0.663" stop-color="#0080ff"/><stop offset="0.842" stop-color="#003eff"/><stop offset="1.000" stop-color="#001cee"/></linearGradient>
<linearGradient id="sb28" gradientUnits="userSpaceOnUse" x1="0" y1="181.8" x2="0" y2="299.9"><stop offset="0.002" stop-color="#ff0000"/><stop offset="0.005" stop-color="#ff0000"/><stop offset="0.008" stop-color="#ff8000"/><stop offset="0.012" stop-color="#ffff00"/><stop offset="0.284" stop-color="#00fa28"/><stop offset="0.570" stop-color="#00ffff"/><stop offset="0.678" stop-color="#0080ff"/><stop offset="0.827" stop-color="#003eff"/><stop offset="1.000" stop-color="#001cee"/></linearGradient>
<linearGradient id="sb29" gradientUnits="userSpaceOnUse" x1="0" y1="181.8" x2="0" y2="299.9"><stop offset="0.002" stop-color="#ff0000"/><stop offset="0.005" stop-color="#ff0000"/><stop offset="0.008" stop-color="#ff8000"/><stop offset="0.012" stop-color="#ffff00"/><stop offset="0.309" stop-color="#00fa28"/><stop offset="0.583" stop-color="#00ffff"/><stop offset="0.692" stop-color="#0080ff"/><stop offset="0.811" stop-color="#003eff"/><stop offset="1.000" stop-color="#001cee"/></linearGradient>
<linearGradient id="sb210" gradientUnits="userSpaceOnUse" x1="0" y1="181.8" x2="0" y2="299.9"><stop offset="0.002" stop-color="#ff0000"/><stop offset="0.005" stop-color="#ff0000"/><stop offset="0.008" stop-color="#ff8000"/><stop offset="0.031" stop-color="#ffff00"/><stop offset="0.333" stop-color="#00fa28"/><stop offset="0.595" stop-color="#00ffff"/><stop offset="0.705" stop-color="#0080ff"/><stop offset="0.800" stop-color="#003eff"/><stop offset="1.000" stop-color="#001cee"/></linearGradient>
<linearGradient id="sb211" gradientUnits="userSpaceOnUse" x1="0" y1="181.8" x2="0" y2="299.9"><stop offset="0.002" stop-color="#ff0000"/><stop offset="0.005" stop-color="#ff0000"/><stop offset="0.008" stop-color="#ff8000"/><stop offset="0.071" stop-color="#ffff00"/><stop offset="0.355" stop-color="#00fa28"/><stop offset="0.606" stop-color="#00ffff"/><stop offset="0.717" stop-color="#0080ff"/><stop offset="0.815" stop-color="#003eff"/><stop offset="1.000" stop-color="#001cee"/></linearGradient>
<linearGradient id="sb212" gradientUnits="userSpaceOnUse" x1="0" y1="181.8" x2="0" y2="299.9"><stop offset="0.002" stop-color="#ff0000"/><stop offset="0.005" stop-color="#ff0000"/><stop offset="0.008" stop-color="#ff8000"/><stop offset="0.109" stop-color="#ffff00"/><stop offset="0.375" stop-color="#00fa28"/><stop offset="0.617" stop-color="#00ffff"/><stop offset="0.729" stop-color="#0080ff"/><stop offset="0.828" stop-color="#003eff"/><stop offset="1.000" stop-color="#001cee"/></linearGradient>
<linearGradient id="sb213" gradientUnits="userSpaceOnUse" x1="0" y1="181.8" x2="0" y2="299.9"><stop offset="0.002" stop-color="#ff0000"/><stop offset="0.005" stop-color="#ff0000"/><stop offset="0.008" stop-color="#ff8000"/><stop offset="0.143" stop-color="#ffff00"/><stop offset="0.394" stop-color="#00fa28"/><stop offset="0.626" stop-color="#00ffff"/><stop offset="0.739" stop-color="#0080ff"/><stop offset="0.840" stop-color="#003eff"/><stop offset="1.000" stop-color="#001cee"/></linearGradient>
<linearGradient id="sb214" gradientUnits="userSpaceOnUse" x1="0" y1="181.8" x2="0" y2="299.9"><stop offset="0.002" stop-color="#ff0000"/><stop offset="0.005" stop-color="#ff0000"/><stop offset="0.018" stop-color="#ff8000"/><stop offset="0.175" stop-color="#ffff00"/><stop offset="0.412" stop-color="#00fa28"/><stop offset="0.635" stop-color="#00ffff"/><stop offset="0.748" stop-color="#0080ff"/><stop offset="0.851" stop-color="#003eff"/><stop offset="1.000" stop-color="#001cee"/></linearGradient>
<linearGradient id="sb215" gradientUnits="userSpaceOnUse" x1="0" y1="181.8" x2="0" y2="299.9"><stop offset="0.002" stop-color="#ff0000"/><stop offset="0.005" stop-color="#ff0000"/><stop offset="0.048" stop-color="#ff8000"/><stop offset="0.204" stop-color="#ffff00"/><stop offset="0.428" stop-color="#00fa28"/><stop offset="0.643" stop-color="#00ffff"/><stop offset="0.757" stop-color="#0080ff"/><stop offset="0.860" stop-color="#003eff"/><stop offset="1.000" stop-color="#001cee"/></linearGradient>
<linearGradient id="sb216" gradientUnits="userSpaceOnUse" x1="0" y1="181.8" x2="0" y2="299.9"><stop offset="0.002" stop-color="#ff0000"/><stop offset="0.005" stop-color="#ff0000"/><stop offset="0.075" stop-color="#ff8000"/><stop offset="0.230" stop-color="#ffff00"/><stop offset="0.442" stop-color="#00fa28"/><stop offset="0.651" stop-color="#00ffff"/><stop offset="0.764" stop-color="#0080ff"/><stop offset="0.868" stop-color="#003eff"/><stop offset="0.993" stop-color="#001cee"/></linearGradient>
<linearGradient id="sb217" gradientUnits="userSpaceOnUse" x1="0" y1="181.8" x2="0" y2="299.9"><stop offset="0.002" stop-color="#ff0000"/><stop offset="0.005" stop-color="#ff0000"/><stop offset="0.099" stop-color="#ff8000"/><stop offset="0.254" stop-color="#ffff00"/><stop offset="0.455" stop-color="#00fa28"/><stop offset="0.657" stop-color="#00ffff"/><stop offset="0.771" stop-color="#0080ff"/><stop offset="0.875" stop-color="#003eff"/><stop offset="0.947" stop-color="#001cee"/></linearGradient>
<linearGradient id="sb218" gradientUnits="userSpaceOnUse" x1="0" y1="181.8" x2="0" y2="299.9"><stop offset="0.002" stop-color="#ff0000"/><stop offset="0.005" stop-color="#ff0000"/><stop offset="0.121" stop-color="#ff8000"/><stop offset="0.275" stop-color="#ffff00"/><stop offset="0.467" stop-color="#00fa28"/><stop offset="0.663" stop-color="#00ffff"/><stop offset="0.777" stop-color="#0080ff"/><stop offset="0.880" stop-color="#003eff"/><stop offset="0.945" stop-color="#001cee"/></linearGradient>
<linearGradient id="sb219" gradientUnits="userSpaceOnUse" x1="0" y1="181.8" x2="0" y2="299.9"><stop offset="0.002" stop-color="#ff0000"/><stop offset="0.005" stop-color="#ff0000"/><stop offset="0.140" stop-color="#ff8000"/><stop offset="0.294" stop-color="#ffff00"/><stop offset="0.477" stop-color="#00fa28"/><stop offset="0.669" stop-color="#00ffff"/><stop offset="0.782" stop-color="#0080ff"/><stop offset="0.884" stop-color="#003eff"/><stop offset="0.971" stop-color="#001cee"/></linearGradient>
<linearGradient id="sb220" gradientUnits="userSpaceOnUse" x1="0" y1="181.8" x2="0" y2="299.9"><stop offset="0.002" stop-color="#ff0000"/><stop offset="0.005" stop-color="#ff0000"/><stop offset="0.157" stop-color="#ff8000"/><stop offset="0.310" stop-color="#ffff00"/><stop offset="0.486" stop-color="#00fa28"/><stop offset="0.673" stop-color="#00ffff"/><stop offset="0.787" stop-color="#0080ff"/><stop offset="0.888" stop-color="#003eff"/><stop offset="0.980" stop-color="#001cee"/></linearGradient>
<linearGradient id="sb221" gradientUnits="userSpaceOnUse" x1="0" y1="181.8" x2="0" y2="299.9"><stop offset="0.002" stop-color="#ff0000"/><stop offset="0.012" stop-color="#ff0000"/><stop offset="0.171" stop-color="#ff8000"/><stop offset="0.324" stop-color="#ffff00"/><stop offset="0.493" stop-color="#00fa28"/><stop offset="0.677" stop-color="#00ffff"/><stop offset="0.790" stop-color="#0080ff"/><stop offset="0.890" stop-color="#003eff"/><stop offset="0.978" stop-color="#001cee"/></linearGradient>
<linearGradient id="sb222" gradientUnits="userSpaceOnUse" x1="0" y1="181.8" x2="0" y2="299.9"><stop offset="0.002" stop-color="#ff0000"/><stop offset="0.033" stop-color="#ff0000"/><stop offset="0.183" stop-color="#ff8000"/><stop offset="0.336" stop-color="#ffff00"/><stop offset="0.500" stop-color="#00fa28"/><stop offset="0.680" stop-color="#00ffff"/><stop offset="0.793" stop-color="#0080ff"/><stop offset="0.891" stop-color="#003eff"/><stop offset="0.973" stop-color="#001cee"/></linearGradient>
<linearGradient id="sb223" gradientUnits="userSpaceOnUse" x1="0" y1="181.8" x2="0" y2="299.9"><stop offset="0.002" stop-color="#ff0000"/><stop offset="0.049" stop-color="#ff0000"/><stop offset="0.192" stop-color="#ff8000"/><stop offset="0.345" stop-color="#ffff00"/><stop offset="0.505" stop-color="#00fa28"/><stop offset="0.683" stop-color="#00ffff"/><stop offset="0.795" stop-color="#0080ff"/><stop offset="0.891" stop-color="#003eff"/><stop offset="0.962" stop-color="#001cee"/></linearGradient>
<linearGradient id="sb224" gradientUnits="userSpaceOnUse" x1="0" y1="181.8" x2="0" y2="299.9"><stop offset="0.002" stop-color="#ff0000"/><stop offset="0.061" stop-color="#ff0000"/><stop offset="0.199" stop-color="#ff8000"/><stop offset="0.352" stop-color="#ffff00"/><stop offset="0.509" stop-color="#00fa28"/><stop offset="0.685" stop-color="#00ffff"/><stop offset="0.797" stop-color="#0080ff"/><stop offset="0.890" stop-color="#003eff"/><stop offset="0.945" stop-color="#001cee"/></linearGradient>
<linearGradient id="sb225" gradientUnits="userSpaceOnUse" x1="0" y1="181.8" x2="0" y2="299.9"><stop offset="0.002" stop-color="#ff0000"/><stop offset="0.070" stop-color="#ff0000"/><stop offset="0.204" stop-color="#ff8000"/><stop offset="0.357" stop-color="#ffff00"/><stop offset="0.511" stop-color="#00fa28"/><stop offset="0.686" stop-color="#00ffff"/><stop offset="0.797" stop-color="#0080ff"/><stop offset="0.890" stop-color="#003eff"/><stop offset="0.959" stop-color="#001cee"/></linearGradient>
<linearGradient id="sb226" gradientUnits="userSpaceOnUse" x1="0" y1="181.8" x2="0" y2="299.9"><stop offset="0.002" stop-color="#ff0000"/><stop offset="0.075" stop-color="#ff0000"/><stop offset="0.208" stop-color="#ff8000"/><stop offset="0.360" stop-color="#ffff00"/><stop offset="0.513" stop-color="#00fa28"/><stop offset="0.687" stop-color="#00ffff"/><stop offset="0.798" stop-color="#0080ff"/><stop offset="0.888" stop-color="#003eff"/><stop offset="0.980" stop-color="#001cee"/></linearGradient>
<linearGradient id="sb227" gradientUnits="userSpaceOnUse" x1="0" y1="181.8" x2="0" y2="299.9"><stop offset="0.002" stop-color="#ff0000"/><stop offset="0.078" stop-color="#ff0000"/><stop offset="0.209" stop-color="#ff8000"/><stop offset="0.361" stop-color="#ffff00"/><stop offset="0.514" stop-color="#00fa28"/><stop offset="0.688" stop-color="#00ffff"/><stop offset="0.797" stop-color="#0080ff"/><stop offset="0.886" stop-color="#003eff"/><stop offset="1.000" stop-color="#001cee"/></linearGradient>
<linearGradient id="sb228" gradientUnits="userSpaceOnUse" x1="0" y1="181.8" x2="0" y2="299.9"><stop offset="0.002" stop-color="#ff0000"/><stop offset="0.078" stop-color="#ff0000"/><stop offset="0.209" stop-color="#ff8000"/><stop offset="0.362" stop-color="#ffff00"/><stop offset="0.514" stop-color="#00fa28"/><stop offset="0.687" stop-color="#00ffff"/><stop offset="0.797" stop-color="#0080ff"/><stop offset="0.883" stop-color="#003eff"/><stop offset="1.000" stop-color="#001cee"/></linearGradient>
<linearGradient id="sb229" gradientUnits="userSpaceOnUse" x1="0" y1="181.8" x2="0" y2="299.9"><stop offset="0.002" stop-color="#ff0000"/><stop offset="0.078" stop-color="#ff0000"/><stop offset="0.209" stop-color="#ff8000"/><stop offset="0.361" stop-color="#ffff00"/><stop offset="0.513" stop-color="#00fa28"/><stop offset="0.687" stop-color="#00ffff"/><stop offset="0.795" stop-color="#0080ff"/><stop offset="0.879" stop-color="#003eff"/><stop offset="1.000" stop-color="#001cee"/></linearGradient>
<linearGradient id="sb230" gradientUnits="userSpaceOnUse" x1="0" y1="181.8" x2="0" y2="299.9"><stop offset="0.002" stop-color="#ff0000"/><stop offset="0.079" stop-color="#ff0000"/><stop offset="0.210" stop-color="#ff8000"/><stop offset="0.360" stop-color="#ffff00"/><stop offset="0.512" stop-color="#00fa28"/><stop offset="0.685" stop-color="#00ffff"/><stop offset="0.792" stop-color="#0080ff"/><stop offset="0.875" stop-color="#003eff"/><stop offset="1.000" stop-color="#001cee"/></linearGradient>
<linearGradient id="sb231" gradientUnits="userSpaceOnUse" x1="0" y1="181.8" x2="0" y2="299.9"><stop offset="0.002" stop-color="#ff0000"/><stop offset="0.080" stop-color="#ff0000"/><stop offset="0.211" stop-color="#ff8000"/><stop offset="0.359" stop-color="#ffff00"/><stop offset="0.509" stop-color="#00fa28"/><stop offset="0.683" stop-color="#00ffff"/><stop offset="0.788" stop-color="#0080ff"/><stop offset="0.870" stop-color="#003eff"/><stop offset="1.000" stop-color="#001cee"/></linearGradient>
<linearGradient id="sb232" gradientUnits="userSpaceOnUse" x1="0" y1="181.8" x2="0" y2="299.9"><stop offset="0.002" stop-color="#ff0000"/><stop offset="0.082" stop-color="#ff0000"/><stop offset="0.212" stop-color="#ff8000"/><stop offset="0.357" stop-color="#ffff00"/><stop offset="0.505" stop-color="#00fa28"/><stop offset="0.680" stop-color="#00ffff"/><stop offset="0.784" stop-color="#0080ff"/><stop offset="0.863" stop-color="#003eff"/><stop offset="1.000" stop-color="#001cee"/></linearGradient>
<linearGradient id="sb233" gradientUnits="userSpaceOnUse" x1="0" y1="181.8" x2="0" y2="299.9"><stop offset="0.002" stop-color="#ff0000"/><stop offset="0.085" stop-color="#ff0000"/><stop offset="0.213" stop-color="#ff8000"/><stop offset="0.354" stop-color="#ffff00"/><stop offset="0.500" stop-color="#00fa28"/><stop offset="0.675" stop-color="#00ffff"/><stop offset="0.778" stop-color="#0080ff"/><stop offset="0.856" stop-color="#003eff"/><stop offset="1.000" stop-color="#001cee"/></linearGradient>
<linearGradient id="sb234" gradientUnits="userSpaceOnUse" x1="0" y1="181.8" x2="0" y2="299.9"><stop offset="0.002" stop-color="#ff0000"/><stop offset="0.088" stop-color="#ff0000"/><stop offset="0.214" stop-color="#ff8000"/><stop offset="0.350" stop-color="#ffff00"/><stop offset="0.494" stop-color="#00fa28"/><stop offset="0.670" stop-color="#00ffff"/><stop offset="0.771" stop-color="#0080ff"/><stop offset="0.849" stop-color="#003eff"/><stop offset="1.000" stop-color="#001cee"/></linearGradient>
<linearGradient id="sb235" gradientUnits="userSpaceOnUse" x1="0" y1="181.8" x2="0" y2="299.9"><stop offset="0.002" stop-color="#ff0000"/><stop offset="0.092" stop-color="#ff0000"/><stop offset="0.216" stop-color="#ff8000"/><stop offset="0.346" stop-color="#ffff00"/><stop offset="0.487" stop-color="#00fa28"/><stop offset="0.663" stop-color="#00ffff"/><stop offset="0.763" stop-color="#0080ff"/><stop offset="0.840" stop-color="#003eff"/><stop offset="1.000" stop-color="#001cee"/></linearGradient>
<linearGradient id="sb236" gradientUnits="userSpaceOnUse" x1="0" y1="181.8" x2="0" y2="299.9"><stop offset="0.002" stop-color="#ff0000"/><stop offset="0.096" stop-color="#ff0000"/><stop offset="0.219" stop-color="#ff8000"/><stop offset="0.341" stop-color="#ffff00"/><stop offset="0.479" stop-color="#00fa28"/><stop offset="0.655" stop-color="#00ffff"/><stop offset="0.754" stop-color="#0080ff"/><stop offset="0.830" stop-color="#003eff"/><stop offset="1.000" stop-color="#001cee"/></linearGradient>
<linearGradient id="sb237" gradientUnits="userSpaceOnUse" x1="0" y1="181.8" x2="0" y2="299.9"><stop offset="0.002" stop-color="#ff0000"/><stop offset="0.101" stop-color="#ff0000"/><stop offset="0.221" stop-color="#ff8000"/><stop offset="0.336" stop-color="#ffff00"/><stop offset="0.469" stop-color="#00fa28"/><stop offset="0.646" stop-color="#00ffff"/><stop offset="0.744" stop-color="#0080ff"/><stop offset="0.820" stop-color="#003eff"/><stop offset="1.000" stop-color="#001cee"/></linearGradient>
<linearGradient id="sb238" gradientUnits="userSpaceOnUse" x1="0" y1="181.8" x2="0" y2="299.9"><stop offset="0.002" stop-color="#ff0000"/><stop offset="0.107" stop-color="#ff0000"/><stop offset="0.224" stop-color="#ff8000"/><stop offset="0.329" stop-color="#ffff00"/><stop offset="0.458" stop-color="#00fa28"/><stop offset="0.636" stop-color="#00ffff"/><stop offset="0.732" stop-color="#0080ff"/><stop offset="0.808" stop-color="#003eff"/><stop offset="1.000" stop-color="#001cee"/></linearGradient>
<linearGradient id="sb239" gradientUnits="userSpaceOnUse" x1="0" y1="181.8" x2="0" y2="299.9"><stop offset="0.002" stop-color="#ff0000"/><stop offset="0.113" stop-color="#ff0000"/><stop offset="0.228" stop-color="#ff8000"/><stop offset="0.322" stop-color="#ffff00"/><stop offset="0.446" stop-color="#00fa28"/><stop offset="0.625" stop-color="#00ffff"/><stop offset="0.719" stop-color="#0080ff"/><stop offset="0.800" stop-color="#003eff"/><stop offset="1.000" stop-color="#001cee"/></linearGradient>
<linearGradient id="sb240" gradientUnits="userSpaceOnUse" x1="0" y1="181.8" x2="0" y2="299.9"><stop offset="0.002" stop-color="#ff0000"/><stop offset="0.120" stop-color="#ff0000"/><stop offset="0.232" stop-color="#ff8000"/><stop offset="0.314" stop-color="#ffff00"/><stop offset="0.432" stop-color="#00fa28"/><stop offset="0.612" stop-color="#00ffff"/><stop offset="0.705" stop-color="#0080ff"/><stop offset="0.813" stop-color="#003eff"/><stop offset="1.000" stop-color="#001cee"/></linearGradient>
<linearGradient id="sb241" gradientUnits="userSpaceOnUse" x1="0" y1="181.8" x2="0" y2="299.9"><stop offset="0.002" stop-color="#ff0000"/><stop offset="0.128" stop-color="#ff0000"/><stop offset="0.236" stop-color="#ff8000"/><stop offset="0.306" stop-color="#ffff00"/><stop offset="0.417" stop-color="#00fa28"/><stop offset="0.599" stop-color="#00ffff"/><stop offset="0.690" stop-color="#0080ff"/><stop offset="0.825" stop-color="#003eff"/><stop offset="1.000" stop-color="#001cee"/></linearGradient>
<linearGradient id="sb242" gradientUnits="userSpaceOnUse" x1="0" y1="181.8" x2="0" y2="299.9"><stop offset="0.002" stop-color="#ff0000"/><stop offset="0.137" stop-color="#ff0000"/><stop offset="0.240" stop-color="#ff8000"/><stop offset="0.296" stop-color="#ffff00"/><stop offset="0.400" stop-color="#00fa28"/><stop offset="0.583" stop-color="#00ffff"/><stop offset="0.673" stop-color="#0080ff"/><stop offset="0.838" stop-color="#003eff"/><stop offset="1.000" stop-color="#001cee"/></linearGradient>
<linearGradient id="sb243" gradientUnits="userSpaceOnUse" x1="0" y1="181.8" x2="0" y2="299.9"><stop offset="0.002" stop-color="#ff0000"/><stop offset="0.146" stop-color="#ff0000"/><stop offset="0.245" stop-color="#ff8000"/><stop offset="0.286" stop-color="#ffff00"/><stop offset="0.382" stop-color="#00fa28"/><stop offset="0.567" stop-color="#00ffff"/><stop offset="0.655" stop-color="#0080ff"/><stop offset="0.851" stop-color="#003eff"/><stop offset="1.000" stop-color="#001cee"/></linearGradient>
<linearGradient id="sb244" gradientUnits="userSpaceOnUse" x1="0" y1="181.8" x2="0" y2="299.9"><stop offset="0.002" stop-color="#ff0000"/><stop offset="0.156" stop-color="#ff0000"/><stop offset="0.250" stop-color="#ff8000"/><stop offset="0.274" stop-color="#ffff00"/><stop offset="0.363" stop-color="#00fa28"/><stop offset="0.549" stop-color="#00ffff"/><stop offset="0.636" stop-color="#0080ff"/><stop offset="0.864" stop-color="#003eff"/><stop offset="1.000" stop-color="#001cee"/></linearGradient>
<linearGradient id="sb245" gradientUnits="userSpaceOnUse" x1="0" y1="181.8" x2="0" y2="299.9"><stop offset="0.002" stop-color="#ff0000"/><stop offset="0.167" stop-color="#ff0000"/><stop offset="0.256" stop-color="#ff8000"/><stop offset="0.262" stop-color="#ffff00"/><stop offset="0.342" stop-color="#00fa28"/><stop offset="0.530" stop-color="#00ffff"/><stop offset="0.615" stop-color="#0080ff"/><stop offset="0.877" stop-color="#003eff"/><stop offset="1.000" stop-color="#001cee"/></linearGradient>
<linearGradient id="sb246" gradientUnits="userSpaceOnUse" x1="0" y1="181.8" x2="0" y2="299.9"><stop offset="0.002" stop-color="#ff0000"/><stop offset="0.179" stop-color="#ff0000"/><stop offset="0.262" stop-color="#ff8000"/><stop offset="0.265" stop-color="#ffff00"/><stop offset="0.319" stop-color="#00fa28"/><stop offset="0.509" stop-color="#00ffff"/><stop offset="0.593" stop-color="#0080ff"/><stop offset="0.889" stop-color="#003eff"/><stop offset="1.000" stop-color="#001cee"/></linearGradient>
<linearGradient id="sb247" gradientUnits="userSpaceOnUse" x1="0" y1="181.8" x2="0" y2="299.9"><stop offset="0.002" stop-color="#ff0000"/><stop offset="0.191" stop-color="#ff0000"/><stop offset="0.269" stop-color="#ff8000"/><stop offset="0.272" stop-color="#ffff00"/><stop offset="0.295" stop-color="#00fa28"/><stop offset="0.488" stop-color="#00ffff"/><stop offset="0.569" stop-color="#0080ff"/><stop offset="0.902" stop-color="#003eff"/><stop offset="1.000" stop-color="#001cee"/></linearGradient>
<linearGradient id="sb248" gradientUnits="userSpaceOnUse" x1="0" y1="181.8" x2="0" y2="299.9"><stop offset="0.002" stop-color="#ff0000"/><stop offset="0.204" stop-color="#ff0000"/><stop offset="0.276" stop-color="#ff8000"/><stop offset="0.279" stop-color="#ffff00"/><stop offset="0.282" stop-color="#00fa28"/><stop offset="0.464" stop-color="#00ffff"/><stop offset="0.545" stop-color="#0080ff"/><stop offset="0.915" stop-color="#003eff"/><stop offset="1.000" stop-color="#001cee"/></linearGradient>
<clipPath id="cb2"><path d="M183.3 252.1C183.7 252.0 185.0 251.6 185.8 251.3C186.6 251.1 187.4 250.8 188.2 250.5C189.0 250.1 189.8 249.8 190.6 249.5C191.4 249.1 192.1 248.7 192.9 248.4C193.6 248.0 194.3 247.6 195.0 247.2C195.8 246.7 196.5 246.3 197.2 245.9C197.9 245.4 198.6 245.0 199.2 244.5C199.9 244.0 200.6 243.5 201.2 243.0C201.9 242.5 202.5 242.0 203.2 241.5C203.8 240.9 204.4 240.4 205.1 239.8C205.7 239.3 206.3 238.7 206.9 238.2C207.5 237.6 208.1 237.0 208.7 236.4C209.3 235.8 209.9 235.2 210.5 234.6C211.0 234.0 211.6 233.4 212.2 232.7C212.8 232.1 213.3 231.5 213.9 230.8C214.4 230.2 215.0 229.6 215.5 228.9C216.1 228.3 216.6 227.6 217.2 226.9C217.7 226.3 218.3 225.6 218.8 225.0C219.3 224.3 219.9 223.6 220.4 222.9C221.0 222.3 221.5 221.6 222.0 220.9C222.5 220.2 223.1 219.5 223.6 218.9C224.1 218.2 224.7 217.5 225.2 216.8C225.7 216.1 226.3 215.5 226.8 214.8C227.3 214.1 227.9 213.4 228.4 212.8C228.9 212.1 229.5 211.4 230.0 210.7C230.5 210.1 231.1 209.4 231.6 208.7C232.2 208.1 232.7 207.4 233.3 206.8C233.8 206.1 234.4 205.5 234.9 204.8C235.5 204.2 236.0 203.5 236.6 202.9C237.2 202.3 237.8 201.7 238.3 201.1C238.9 200.4 239.5 199.8 240.1 199.2C240.7 198.6 241.3 198.1 241.9 197.5C242.5 196.9 243.1 196.3 243.7 195.8C244.4 195.2 245.0 194.7 245.6 194.1C246.3 193.6 246.9 193.1 247.6 192.6C248.2 192.1 248.9 191.6 249.6 191.1C250.3 190.6 250.9 190.1 251.6 189.7C252.3 189.2 253.0 188.8 253.8 188.4C254.5 188.0 255.2 187.6 255.9 187.2C256.7 186.8 257.4 186.5 258.2 186.1C258.9 185.8 259.7 185.5 260.4 185.2C261.2 185.0 262.0 184.7 262.7 184.6C263.5 184.4 264.2 184.2 265.0 184.1C265.8 184.0 266.5 183.9 267.3 183.9C268.1 183.9 268.8 183.9 269.6 184.0C270.3 184.0 271.1 184.2 271.8 184.3C272.6 184.5 273.3 184.7 274.0 184.9C274.8 185.2 275.5 185.5 276.2 185.8C276.9 186.1 277.6 186.5 278.2 186.9C278.9 187.3 279.6 187.7 280.2 188.2C280.9 188.7 281.5 189.2 282.1 189.7C282.7 190.3 283.3 190.9 283.9 191.5C284.5 192.1 285.0 192.7 285.6 193.3C286.2 194.0 286.7 194.7 287.2 195.3C287.8 196.0 288.3 196.8 288.8 197.5C289.3 198.2 289.8 199.0 290.3 199.7C290.8 200.5 291.3 201.3 291.7 202.0C292.2 202.8 292.7 203.6 293.1 204.4C293.6 205.2 294.0 206.0 294.4 206.8C294.9 207.6 295.3 208.5 295.7 209.3C296.1 210.1 296.5 210.9 297.0 211.7C297.4 212.5 297.8 213.3 298.1 214.1C298.5 214.9 298.9 215.7 299.3 216.5C299.7 217.3 300.1 218.1 300.4 218.9C300.8 219.7 301.2 220.5 301.5 221.2C301.9 222.0 302.3 222.8 302.6 223.6C303.0 224.3 303.3 225.1 303.7 225.8C304.0 226.6 304.4 227.4 304.7 228.1C305.1 228.9 305.4 229.6 305.8 230.3C306.1 231.1 306.5 231.8 306.8 232.6C307.2 233.3 307.6 234.0 307.9 234.8C308.3 235.5 308.6 236.2 309.0 237.0C309.3 237.7 309.7 238.4 310.1 239.1C310.4 239.8 310.8 240.6 311.2 241.3C311.5 242.0 311.9 242.7 312.3 243.4C312.7 244.1 313.1 244.8 313.5 245.5C313.9 246.2 314.3 247.0 314.7 247.7C315.1 248.4 315.5 249.1 315.9 249.8C316.3 250.5 316.8 251.2 317.2 251.9C317.6 252.6 318.1 253.3 318.5 253.9C319.0 254.6 319.4 255.3 319.9 256.0C320.4 256.7 320.9 257.4 321.4 258.1C321.9 258.8 322.4 259.5 322.9 260.2C323.4 260.9 323.9 261.6 324.5 262.3C325.0 262.9 325.6 263.6 326.2 264.3C326.7 265.0 327.6 266.1 327.9 266.4C327.5 266.5 326.2 266.6 325.4 266.8C324.5 266.9 323.7 267.1 322.8 267.2C322.0 267.4 321.1 267.6 320.3 267.8C319.5 268.0 318.6 268.2 317.8 268.4C317.0 268.6 316.1 268.8 315.3 269.0C314.5 269.2 313.7 269.5 312.8 269.7C312.0 269.9 311.2 270.2 310.4 270.4C309.5 270.7 308.7 271.0 307.9 271.2C307.1 271.5 306.3 271.8 305.5 272.1C304.7 272.4 303.8 272.7 303.0 273.0C302.2 273.3 301.4 273.6 300.6 273.9C299.8 274.2 299.0 274.5 298.2 274.8C297.4 275.2 296.6 275.5 295.8 275.8C295.0 276.2 294.2 276.5 293.4 276.8C292.6 277.2 291.8 277.5 291.0 277.9C290.2 278.2 289.4 278.6 288.6 278.9C287.8 279.3 287.0 279.6 286.2 280.0C285.4 280.4 284.6 280.7 283.8 281.1C283.0 281.4 282.2 281.8 281.4 282.2C280.6 282.5 279.8 282.9 279.0 283.3C278.2 283.6 277.5 284.0 276.7 284.4C275.9 284.8 275.1 285.1 274.3 285.5C273.5 285.9 272.7 286.2 271.9 286.6C271.1 287.0 270.3 287.3 269.5 287.7C268.7 288.1 267.9 288.4 267.1 288.8C266.3 289.2 265.5 289.5 264.7 289.9C263.9 290.2 263.1 290.6 262.4 291.0C261.6 291.3 260.8 291.7 260.0 292.0C259.2 292.4 258.4 292.7 257.6 293.1C256.8 293.4 256.0 293.8 255.2 294.1C254.4 294.4 253.6 294.8 252.8 295.1C252.0 295.5 251.2 295.8 250.4 296.1C249.6 296.4 248.7 296.7 247.9 297.1C247.1 297.4 246.3 297.7 245.5 298.0C244.7 298.3 243.5 298.7 243.1 298.9C242.8 298.6 241.8 297.7 241.2 297.1C240.5 296.6 239.9 296.0 239.2 295.4C238.6 294.8 237.9 294.3 237.3 293.7C236.6 293.1 236.0 292.5 235.3 292.0C234.6 291.4 234.0 290.8 233.3 290.3C232.6 289.7 232.0 289.2 231.3 288.6C230.6 288.0 230.0 287.5 229.3 286.9C228.6 286.4 228.0 285.8 227.3 285.3C226.6 284.7 225.9 284.2 225.2 283.6C224.6 283.1 223.9 282.6 223.2 282.0C222.5 281.5 221.8 280.9 221.1 280.4C220.5 279.9 219.8 279.3 219.1 278.8C218.4 278.2 217.7 277.7 217.0 277.2C216.3 276.7 215.6 276.1 214.9 275.6C214.2 275.1 213.5 274.5 212.8 274.0C212.1 273.5 211.4 272.9 210.7 272.4C210.1 271.9 209.4 271.4 208.7 270.8C208.0 270.3 207.3 269.8 206.5 269.3C205.8 268.8 205.1 268.2 204.4 267.7C203.7 267.2 203.0 266.7 202.3 266.2C201.6 265.6 200.9 265.1 200.2 264.6C199.5 264.1 198.8 263.6 198.1 263.0C197.4 262.5 196.7 262.0 196.0 261.5C195.3 261.0 194.6 260.4 193.9 259.9C193.2 259.4 192.5 258.9 191.8 258.4C191.1 257.8 190.3 257.3 189.6 256.8C188.9 256.3 188.2 255.8 187.5 255.2C186.8 254.7 186.1 254.2 185.4 253.7C184.7 253.1 183.7 252.4 183.3 252.1Z"/></clipPath>
<linearGradient id="sb30" gradientUnits="userSpaceOnUse" x1="0" y1="180.3" x2="0" y2="301.2"><stop offset="0.006" stop-color="#ff0000"/><stop offset="0.009" stop-color="#ff0000"/><stop offset="0.012" stop-color="#ff8000"/><stop offset="0.016" stop-color="#ffff00"/><stop offset="0.019" stop-color="#00fa28"/><stop offset="0.317" stop-color="#00ffff"/><stop offset="0.518" stop-color="#0080ff"/><stop offset="0.939" stop-color="#003eff"/><stop offset="1.000" stop-color="#001cee"/></linearGradient>
<linearGradient id="sb31" gradientUnits="userSpaceOnUse" x1="0" y1="180.3" x2="0" y2="301.2"><stop offset="0.006" stop-color="#ff0000"/><stop offset="0.009" stop-color="#ff0000"/><stop offset="0.012" stop-color="#ff8000"/><stop offset="0.016" stop-color="#ffff00"/><stop offset="0.019" stop-color="#00fa28"/><stop offset="0.343" stop-color="#00ffff"/><stop offset="0.539" stop-color="#0080ff"/><stop offset="0.925" stop-color="#003eff"/><stop offset="1.000" stop-color="#001cee"/></linearGradient>
<linearGradient id="sb32" gradientUnits="userSpaceOnUse" x1="0" y1="180.3" x2="0" y2="301.2"><stop offset="0.006" stop-color="#ff0000"/><stop offset="0.009" stop-color="#ff0000"/><stop offset="0.012" stop-color="#ff8000"/><stop offset="0.016" stop-color="#ffff00"/><stop offset="0.055" stop-color="#00fa28"/><stop offset="0.369" stop-color="#00ffff"/><stop offset="0.559" stop-color="#0080ff"/><stop offset="0.911" stop-color="#003eff"/><stop offset="1.000" stop-color="#001cee"/></linearGradient>
<linearGradient id="sb33" gradientUnits="userSpaceOnUse" x1="0" y1="180.3" x2="0" y2="301.2"><stop offset="0.006" stop-color="#ff0000"/><stop offset="0.009" stop-color="#ff0000"/><stop offset="0.012" stop-color="#ff8000"/><stop offset="0.016" stop-color="#ffff00"/><stop offset="0.091" stop-color="#00fa28"/><stop offset="0.394" stop-color="#00ffff"/><stop offset="0.578" stop-color="#0080ff"/><stop offset="0.898" stop-color="#003eff"/><stop offset="1.000" stop-color="#001cee"/></linearGradient>
<linearGradient id="sb34" gradientUnits="userSpaceOnUse" x1="0" y1="180.3" x2="0" y2="301.2"><stop offset="0.006" stop-color="#ff0000"/><stop offset="0.009" stop-color="#ff0000"/><stop offset="0.012" stop-color="#ff8000"/><stop offset="0.016" stop-color="#ffff00"/><stop offset="0.125" stop-color="#00fa28"/><stop offset="0.417" stop-color="#00ffff"/><stop offset="0.596" stop-color="#0080ff"/><stop offset="0.884" stop-color="#003eff"/><stop offset="1.000" stop-color="#001cee"/></linearGradient>
<linearGradient id="sb35" gradientUnits="userSpaceOnUse" x1="0" y1="180.3" x2="0" y2="301.2"><stop offset="0.006" stop-color="#ff0000"/><stop offset="0.009" stop-color="#ff0000"/><stop offset="0.012" stop-color="#ff8000"/><stop offset="0.016" stop-color="#ffff00"/><stop offset="0.158" stop-color="#00fa28"/><stop offset="0.440" stop-color="#00ffff"/><stop offset="0.613" stop-color="#0080ff"/><stop offset="0.870" stop-color="#003eff"/><stop offset="1.000" stop-color="#001cee"/></linearGradient>
<linearGradient id="sb36" gradientUnits="userSpaceOnUse" x1="0" y1="180.3" x2="0" y2="301.2"><stop offset="0.006" stop-color="#ff0000"/><stop offset="0.009" stop-color="#ff0000"/><stop offset="0.012" stop-color="#ff8000"/><stop offset="0.016" stop-color="#ffff00"/><stop offset="0.189" stop-color="#00fa28"/><stop offset="0.461" stop-color="#00ffff"/><stop offset="0.629" stop-color="#0080ff"/><stop offset="0.857" stop-color="#003eff"/><stop offset="1.000" stop-color="#001cee"/></linearGradient>
<linearGradient id="sb37" gradientUnits="userSpaceOnUse" x1="0" y1="180.3" x2="0" y2="301.2"><stop offset="0.006" stop-color="#ff0000"/><stop offset="0.009" stop-color="#ff0000"/><stop offset="0.012" stop-color="#ff8000"/><stop offset="0.017" stop-color="#ffff00"/><stop offset="0.219" stop-color="#00fa28"/><stop offset="0.481" stop-color="#00ffff"/><stop offset="0.645" stop-color="#0080ff"/><stop offset="0.843" stop-color="#003eff"/><stop offset="1.000" stop-color="#001cee"/></linearGradient>
<linearGradient id="sb38" gradientUnits="userSpaceOnUse" x1="0" y1="180.3" x2="0" y2="301.2"><stop offset="0.006" stop-color="#ff0000"/><stop offset="0.009" stop-color="#ff0000"/><stop offset="0.012" stop-color="#ff8000"/><stop offset="0.051" stop-color="#ffff00"/><stop offset="0.247" stop-color="#00fa28"/><stop offset="0.500" stop-color="#00ffff"/><stop offset="0.659" stop-color="#0080ff"/><stop offset="0.829" stop-color="#003eff"/><stop offset="1.000" stop-color="#001cee"/></linearGradient>
<linearGradient id="sb39" gradientUnits="userSpaceOnUse" x1="0" y1="180.3" x2="0" y2="301.2"><stop offset="0.006" stop-color="#ff0000"/><stop offset="0.009" stop-color="#ff0000"/><stop offset="0.012" stop-color="#ff8000"/><stop offset="0.082" stop-color="#ffff00"/><stop offset="0.274" stop-color="#00fa28"/><stop offset="0.519" stop-color="#00ffff"/><stop offset="0.673" stop-color="#0080ff"/><stop offset="0.816" stop-color="#003eff"/><stop offset="1.000" stop-color="#001cee"/></linearGradient>
<linearGradient id="sb310" gradientUnits="userSpaceOnUse" x1="0" y1="180.3" x2="0" y2="301.2"><stop offset="0.006" stop-color="#ff0000"/><stop offset="0.009" stop-color="#ff0000"/><stop offset="0.012" stop-color="#ff8000"/><stop offset="0.112" stop-color="#ffff00"/><stop offset="0.299" stop-color="#00fa28"/><stop offset="0.536" stop-color="#00ffff"/><stop offset="0.686" stop-color="#0080ff"/><stop offset="0.802" stop-color="#003eff"/><stop offset="1.000" stop-color="#001cee"/></linearGradient>
<linearGradient id="sb311" gradientUnits="userSpaceOnUse" x1="0" y1="180.3" x2="0" y2="301.2"><stop offset="0.006" stop-color="#ff0000"/><stop offset="0.009" stop-color="#ff0000"/><stop offset="0.012" stop-color="#ff8000"/><stop offset="0.139" stop-color="#ffff00"/><stop offset="0.322" stop-color="#00fa28"/><stop offset="0.552" stop-color="#00ffff"/><stop offset="0.698" stop-color="#0080ff"/><stop offset="0.811" stop-color="#003eff"/><stop offset="1.000" stop-color="#001cee"/></linearGradient>
<linearGradient id="sb312" gradientUnits="userSpaceOnUse" x1="0" y1="180.3" x2="0" y2="301.2"><stop offset="0.006" stop-color="#ff0000"/><stop offset="0.009" stop-color="#ff0000"/><stop offset="0.012" stop-color="#ff8000"/><stop offset="0.165" stop-color="#ffff00"/><stop offset="0.344" stop-color="#00fa28"/><stop offset="0.567" stop-color="#00ffff"/><stop offset="0.709" stop-color="#0080ff"/><stop offset="0.823" stop-color="#003eff"/><stop offset="1.000" stop-color="#001cee"/></linearGradient>
<linearGradient id="sb313" gradientUnits="userSpaceOnUse" x1="0" y1="180.3" x2="0" y2="301.2"><stop offset="0.006" stop-color="#ff0000"/><stop offset="0.009" stop-color="#ff0000"/><stop offset="0.022" stop-color="#ff8000"/><stop offset="0.190" stop-color="#ffff00"/><stop offset="0.365" stop-color="#00fa28"/><stop offset="0.581" stop-color="#00ffff"/><stop offset="0.720" stop-color="#0080ff"/><stop offset="0.834" stop-color="#003eff"/><stop offset="1.000" stop-color="#001cee"/></linearGradient>
<linearGradient id="sb314" gradientUnits="userSpaceOnUse" x1="0" y1="180.3" x2="0" y2="301.2"><stop offset="0.006" stop-color="#ff0000"/><stop offset="0.009" stop-color="#ff0000"/><stop offset="0.047" stop-color="#ff8000"/><stop offset="0.212" stop-color="#ffff00"/><stop offset="0.384" stop-color="#00fa28"/><stop offset="0.594" stop-color="#00ffff"/><stop offset="0.730" stop-color="#0080ff"/><stop offset="0.843" stop-color="#003eff"/><stop offset="1.000" stop-color="#001cee"/></linearGradient>
<linearGradient id="sb315" gradientUnits="userSpaceOnUse" x1="0" y1="180.3" x2="0" y2="301.2"><stop offset="0.006" stop-color="#ff0000"/><stop offset="0.009" stop-color="#ff0000"/><stop offset="0.070" stop-color="#ff8000"/><stop offset="0.233" stop-color="#ffff00"/><stop offset="0.402" stop-color="#00fa28"/><stop offset="0.606" stop-color="#00ffff"/><stop offset="0.738" stop-color="#0080ff"/><stop offset="0.852" stop-color="#003eff"/><stop offset="1.000" stop-color="#001cee"/></linearGradient>
<linearGradient id="sb316" gradientUnits="userSpaceOnUse" x1="0" y1="180.3" x2="0" y2="301.2"><stop offset="0.006" stop-color="#ff0000"/><stop offset="0.009" stop-color="#ff0000"/><stop offset="0.091" stop-color="#ff8000"/><stop offset="0.252" stop-color="#ffff00"/><stop offset="0.418" stop-color="#00fa28"/><stop offset="0.617" stop-color="#00ffff"/><stop offset="0.746" stop-color="#0080ff"/><stop offset="0.859" stop-color="#003eff"/><stop offset="1.000" stop-color="#001cee"/></linearGradient>
<linearGradient id="sb317" gradientUnits="userSpaceOnUse" x1="0" y1="180.3" x2="0" y2="301.2"><stop offset="0.006" stop-color="#ff0000"/><stop offset="0.009" stop-color="#ff0000"/><stop offset="0.111" stop-color="#ff8000"/><stop offset="0.270" stop-color="#ffff00"/><stop offset="0.433" stop-color="#00fa28"/><stop offset="0.627" stop-color="#00ffff"/><stop offset="0.754" stop-color="#0080ff"/><stop offset="0.866" stop-color="#003eff"/><stop offset="0.957" stop-color="#001cee"/></linearGradient>
<linearGradient id="sb318" gradientUnits="userSpaceOnUse" x1="0" y1="180.3" x2="0" y2="301.2"><stop offset="0.006" stop-color="#ff0000"/><stop offset="0.009" stop-color="#ff0000"/><stop offset="0.128" stop-color="#ff8000"/><stop offset="0.285" stop-color="#ffff00"/><stop offset="0.446" stop-color="#00fa28"/><stop offset="0.636" stop-color="#00ffff"/><stop offset="0.760" stop-color="#0080ff"/><stop offset="0.871" stop-color="#003eff"/><stop offset="0.927" stop-color="#001cee"/></linearGradient>
<linearGradient id="sb319" gradientUnits="userSpaceOnUse" x1="0" y1="180.3" x2="0" y2="301.2"><stop offset="0.006" stop-color="#ff0000"/><stop offset="0.009" stop-color="#ff0000"/><stop offset="0.144" stop-color="#ff8000"/><stop offset="0.300" stop-color="#ffff00"/><stop offset="0.458" stop-color="#00fa28"/><stop offset="0.644" stop-color="#00ffff"/><stop offset="0.766" stop-color="#0080ff"/><stop offset="0.875" stop-color="#003eff"/><stop offset="0.958" stop-color="#001cee"/></linearGradient>
<linearGradient id="sb320" gradientUnits="userSpaceOnUse" x1="0" y1="180.3" x2="0" y2="301.2"><stop offset="0.006" stop-color="#ff0000"/><stop offset="0.009" stop-color="#ff0000"/><stop offset="0.158" stop-color="#ff8000"/><stop offset="0.312" stop-color="#ffff00"/><stop offset="0.469" stop-color="#00fa28"/><stop offset="0.651" stop-color="#00ffff"/><stop offset="0.771" stop-color="#0080ff"/><stop offset="0.878" stop-color="#003eff"/><stop offset="0.972" stop-color="#001cee"/></linearGradient>
<linearGradient id="sb321" gradientUnits="userSpaceOnUse" x1="0" y1="180.3" x2="0" y2="301.2"><stop offset="0.006" stop-color="#ff0000"/><stop offset="0.009" stop-color="#ff0000"/><stop offset="0.170" stop-color="#ff8000"/><stop offset="0.323" stop-color="#ffff00"/><stop offset="0.478" stop-color="#00fa28"/><stop offset="0.658" stop-color="#00ffff"/><stop offset="0.775" stop-color="#0080ff"/><stop offset="0.880" stop-color="#003eff"/><stop offset="0.973" stop-color="#001cee"/></linearGradient>
<linearGradient id="sb322" gradientUnits="userSpaceOnUse" x1="0" y1="180.3" x2="0" y2="301.2"><stop offset="0.006" stop-color="#ff0000"/><stop offset="0.011" stop-color="#ff0000"/><stop offset="0.181" stop-color="#ff8000"/><stop offset="0.333" stop-color="#ffff00"/><stop offset="0.486" stop-color="#00fa28"/><stop offset="0.663" stop-color="#00ffff"/><stop offset="0.779" stop-color="#0080ff"/><stop offset="0.882" stop-color="#003eff"/><stop offset="0.970" stop-color="#001cee"/></linearGradient>
<linearGradient id="sb323" gradientUnits="userSpaceOnUse" x1="0" y1="180.3" x2="0" y2="301.2"><stop offset="0.006" stop-color="#ff0000"/><stop offset="0.030" stop-color="#ff0000"/><stop offset="0.190" stop-color="#ff8000"/><stop offset="0.341" stop-color="#ffff00"/><stop offset="0.493" stop-color="#00fa28"/><stop offset="0.668" stop-color="#00ffff"/><stop offset="0.782" stop-color="#0080ff"/><stop offset="0.882" stop-color="#003eff"/><stop offset="0.962" stop-color="#001cee"/></linearGradient>
<linearGradient id="sb324" gradientUnits="userSpaceOnUse" x1="0" y1="180.3" x2="0" y2="301.2"><stop offset="0.006" stop-color="#ff0000"/><stop offset="0.046" stop-color="#ff0000"/><stop offset="0.197" stop-color="#ff8000"/><stop offset="0.347" stop-color="#ffff00"/><stop offset="0.499" stop-color="#00fa28"/><stop offset="0.672" stop-color="#00ffff"/><stop offset="0.784" stop-color="#0080ff"/><stop offset="0.882" stop-color="#003eff"/><stop offset="0.950" stop-color="#001cee"/></linearGradient>
<linearGradient id="sb325" gradientUnits="userSpaceOnUse" x1="0" y1="180.3" x2="0" y2="301.2"><stop offset="0.006" stop-color="#ff0000"/><stop offset="0.059" stop-color="#ff0000"/><stop offset="0.203" stop-color="#ff8000"/><stop offset="0.353" stop-color="#ffff00"/><stop offset="0.503" stop-color="#00fa28"/><stop offset="0.675" stop-color="#00ffff"/><stop offset="0.786" stop-color="#0080ff"/><stop offset="0.882" stop-color="#003eff"/><stop offset="0.939" stop-color="#001cee"/></linearGradient>
<linearGradient id="sb326" gradientUnits="userSpaceOnUse" x1="0" y1="180.3" x2="0" y2="301.2"><stop offset="0.006" stop-color="#ff0000"/><stop offset="0.069" stop-color="#ff0000"/><stop offset="0.207" stop-color="#ff8000"/><stop offset="0.357" stop-color="#ffff00"/><stop offset="0.506" stop-color="#00fa28"/><stop offset="0.677" stop-color="#00ffff"/><stop offset="0.787" stop-color="#0080ff"/><stop offset="0.880" stop-color="#003eff"/><stop offset="0.958" stop-color="#001cee"/></linearGradient>
<linearGradient id="sb327" gradientUnits="userSpaceOnUse" x1="0" y1="180.3" x2="0" y2="301.2"><stop offset="0.006" stop-color="#ff0000"/><stop offset="0.075" stop-color="#ff0000"/><stop offset="0.210" stop-color="#ff8000"/><stop offset="0.359" stop-color="#ffff00"/><stop offset="0.509" stop-color="#00fa28"/><stop offset="0.679" stop-color="#00ffff"/><stop offset="0.787" stop-color="#0080ff"/><stop offset="0.878" stop-color="#003eff"/><stop offset="0.977" stop-color="#001cee"/></linearGradient>
<linearGradient id="sb328" gradientUnits="userSpaceOnUse" x1="0" y1="180.3" x2="0" y2="301.2"><stop offset="0.006" stop-color="#ff0000"/><stop offset="0.079" stop-color="#ff0000"/><stop offset="0.212" stop-color="#ff8000"/><stop offset="0.361" stop-color="#ffff00"/><stop offset="0.510" stop-color="#00fa28"/><stop offset="0.680" stop-color="#00ffff"/><stop offset="0.787" stop-color="#0080ff"/><stop offset="0.875" stop-color="#003eff"/><stop offset="0.996" stop-color="#001cee"/></linearGradient>
<linearGradient id="sb329" gradientUnits="userSpaceOnUse" x1="0" y1="180.3" x2="0" y2="301.2"><stop offset="0.006" stop-color="#ff0000"/><stop offset="0.080" stop-color="#ff0000"/><stop offset="0.213" stop-color="#ff8000"/><stop offset="0.361" stop-color="#ffff00"/><stop offset="0.510" stop-color="#00fa28"/><stop offset="0.680" stop-color="#00ffff"/><stop offset="0.787" stop-color="#0080ff"/><stop offset="0.871" stop-color="#003eff"/><stop offset="1.000" stop-color="#001cee"/></linearGradient>
<linearGradient id="sb330" gradientUnits="userSpaceOnUse" x1="0" y1="180.3" x2="0" y2="301.2"><stop offset="0.006" stop-color="#ff0000"/><stop offset="0.080" stop-color="#ff0000"/><stop offset="0.213" stop-color="#ff8000"/><stop offset="0.361" stop-color="#ffff00"/><stop offset="0.510" stop-color="#00fa28"/><stop offset="0.680" stop-color="#00ffff"/><stop offset="0.786" stop-color="#0080ff"/><stop offset="0.866" stop-color="#003eff"/><stop offset="1.000" stop-color="#001cee"/></linearGradient>
<linearGradient id="sb331" gradientUnits="userSpaceOnUse" x1="0" y1="180.3" x2="0" y2="301.2"><stop offset="0.006" stop-color="#ff0000"/><stop offset="0.081" stop-color="#ff0000"/><stop offset="0.213" stop-color="#ff8000"/><stop offset="0.361" stop-color="#ffff00"/><stop offset="0.509" stop-color="#00fa28"/><stop offset="0.679" stop-color="#00ffff"/><stop offset="0.784" stop-color="#0080ff"/><stop offset="0.860" stop-color="#003eff"/><stop offset="1.000" stop-color="#001cee"/></linearGradient>
<linearGradient id="sb332" gradientUnits="userSpaceOnUse" x1="0" y1="180.3" x2="0" y2="301.2"><stop offset="0.006" stop-color="#ff0000"/><stop offset="0.082" stop-color="#ff0000"/><stop offset="0.213" stop-color="#ff8000"/><stop offset="0.359" stop-color="#ffff00"/><stop offset="0.507" stop-color="#00fa28"/><stop offset="0.677" stop-color="#00ffff"/><stop offset="0.781" stop-color="#0080ff"/><stop offset="0.852" stop-color="#003eff"/><stop offset="1.000" stop-color="#001cee"/></linearGradient>
<linearGradient id="sb333" gradientUnits="userSpaceOnUse" x1="0" y1="180.3" x2="0" y2="301.2"><stop offset="0.006" stop-color="#ff0000"/><stop offset="0.084" stop-color="#ff0000"/><stop offset="0.214" stop-color="#ff8000"/><stop offset="0.357" stop-color="#ffff00"/><stop offset="0.503" stop-color="#00fa28"/><stop offset="0.674" stop-color="#00ffff"/><stop offset="0.777" stop-color="#0080ff"/><stop offset="0.844" stop-color="#003eff"/><stop offset="1.000" stop-color="#001cee"/></linearGradient>
<linearGradient id="sb334" gradientUnits="userSpaceOnUse" x1="0" y1="180.3" x2="0" y2="301.2"><stop offset="0.006" stop-color="#ff0000"/><stop offset="0.086" stop-color="#ff0000"/><stop offset="0.215" stop-color="#ff8000"/><stop offset="0.353" stop-color="#ffff00"/><stop offset="0.499" stop-color="#00fa28"/><stop offset="0.670" stop-color="#00ffff"/><stop offset="0.772" stop-color="#0080ff"/><stop offset="0.834" stop-color="#003eff"/><stop offset="1.000" stop-color="#001cee"/></linearGradient>
<linearGradient id="sb335" gradientUnits="userSpaceOnUse" x1="0" y1="180.3" x2="0" y2="301.2"><stop offset="0.006" stop-color="#ff0000"/><stop offset="0.089" stop-color="#ff0000"/><stop offset="0.216" stop-color="#ff8000"/><stop offset="0.349" stop-color="#ffff00"/><stop offset="0.493" stop-color="#00fa28"/><stop offset="0.666" stop-color="#00ffff"/><stop offset="0.766" stop-color="#0080ff"/><stop offset="0.824" stop-color="#003eff"/><stop offset="1.000" stop-color="#001cee"/></linearGradient>
<linearGradient id="sb336" gradientUnits="userSpaceOnUse" x1="0" y1="180.3" x2="0" y2="301.2"><stop offset="0.006" stop-color="#ff0000"/><stop offset="0.093" stop-color="#ff0000"/><stop offset="0.217" stop-color="#ff8000"/><stop offset="0.344" stop-color="#ffff00"/><stop offset="0.486" stop-color="#00fa28"/><stop offset="0.660" stop-color="#00ffff"/><stop offset="0.759" stop-color="#0080ff"/><stop offset="0.812" stop-color="#003eff"/><stop offset="1.000" stop-color="#001cee"/></linearGradient>
<linearGradient id="sb337" gradientUnits="userSpaceOnUse" x1="0" y1="180.3" x2="0" y2="301.2"><stop offset="0.006" stop-color="#ff0000"/><stop offset="0.097" stop-color="#ff0000"/><stop offset="0.219" stop-color="#ff8000"/><stop offset="0.338" stop-color="#ffff00"/><stop offset="0.477" stop-color="#00fa28"/><stop offset="0.652" stop-color="#00ffff"/><stop offset="0.750" stop-color="#0080ff"/><stop offset="0.799" stop-color="#003eff"/><stop offset="1.000" stop-color="#001cee"/></linearGradient>
<linearGradient id="sb338" gradientUnits="userSpaceOnUse" x1="0" y1="180.3" x2="0" y2="301.2"><stop offset="0.006" stop-color="#ff0000"/><stop offset="0.102" stop-color="#ff0000"/><stop offset="0.221" stop-color="#ff8000"/><stop offset="0.331" stop-color="#ffff00"/><stop offset="0.467" stop-color="#00fa28"/><stop offset="0.644" stop-color="#00ffff"/><stop offset="0.741" stop-color="#0080ff"/><stop offset="0.799" stop-color="#003eff"/><stop offset="1.000" stop-color="#001cee"/></linearGradient>
<linearGradient id="sb339" gradientUnits="userSpaceOnUse" x1="0" y1="180.3" x2="0" y2="301.2"><stop offset="0.006" stop-color="#ff0000"/><stop offset="0.108" stop-color="#ff0000"/><stop offset="0.223" stop-color="#ff8000"/><stop offset="0.323" stop-color="#ffff00"/><stop offset="0.455" stop-color="#00fa28"/><stop offset="0.635" stop-color="#00ffff"/><stop offset="0.730" stop-color="#0080ff"/><stop offset="0.813" stop-color="#003eff"/><stop offset="1.000" stop-color="#001cee"/></linearGradient>
<linearGradient id="sb340" gradientUnits="userSpaceOnUse" x1="0" y1="180.3" x2="0" y2="301.2"><stop offset="0.006" stop-color="#ff0000"/><stop offset="0.115" stop-color="#ff0000"/><stop offset="0.225" stop-color="#ff8000"/><stop offset="0.314" stop-color="#ffff00"/><stop offset="0.442" stop-color="#00fa28"/><stop offset="0.624" stop-color="#00ffff"/><stop offset="0.718" stop-color="#0080ff"/><stop offset="0.827" stop-color="#003eff"/><stop offset="1.000" stop-color="#001cee"/></linearGradient>
<linearGradient id="sb341" gradientUnits="userSpaceOnUse" x1="0" y1="180.3" x2="0" y2="301.2"><stop offset="0.006" stop-color="#ff0000"/><stop offset="0.122" stop-color="#ff0000"/><stop offset="0.228" stop-color="#ff8000"/><stop offset="0.304" stop-color="#ffff00"/><stop offset="0.427" stop-color="#00fa28"/><stop offset="0.612" stop-color="#00ffff"/><stop offset="0.705" stop-color="#0080ff"/><stop offset="0.842" stop-color="#003eff"/><stop offset="1.000" stop-color="#001cee"/></linearGradient>
<linearGradient id="sb342" gradientUnits="userSpaceOnUse" x1="0" y1="180.3" x2="0" y2="301.2"><stop offset="0.006" stop-color="#ff0000"/><stop offset="0.130" stop-color="#ff0000"/><stop offset="0.231" stop-color="#ff8000"/><stop offset="0.293" stop-color="#ffff00"/><stop offset="0.411" stop-color="#00fa28"/><stop offset="0.598" stop-color="#00ffff"/><stop offset="0.690" stop-color="#0080ff"/><stop offset="0.856" stop-color="#003eff"/><stop offset="1.000" stop-color="#001cee"/></linearGradient>
<linearGradient id="sb343" gradientUnits="userSpaceOnUse" x1="0" y1="180.3" x2="0" y2="301.2"><stop offset="0.006" stop-color="#ff0000"/><stop offset="0.139" stop-color="#ff0000"/><stop offset="0.234" stop-color="#ff8000"/><stop offset="0.281" stop-color="#ffff00"/><stop offset="0.393" stop-color="#00fa28"/><stop offset="0.584" stop-color="#00ffff"/><stop offset="0.675" stop-color="#0080ff"/><stop offset="0.870" stop-color="#003eff"/><stop offset="1.000" stop-color="#001cee"/></linearGradient>
<linearGradient id="sb344" gradientUnits="userSpaceOnUse" x1="0" y1="180.3" x2="0" y2="301.2"><stop offset="0.006" stop-color="#ff0000"/><stop offset="0.149" stop-color="#ff0000"/><stop offset="0.237" stop-color="#ff8000"/><stop offset="0.267" stop-color="#ffff00"/><stop offset="0.374" stop-color="#00fa28"/><stop offset="0.568" stop-color="#00ffff"/><stop offset="0.658" stop-color="#0080ff"/><stop offset="0.884" stop-color="#003eff"/><stop offset="1.000" stop-color="#001cee"/></linearGradient>
<linearGradient id="sb345" gradientUnits="userSpaceOnUse" x1="0" y1="180.3" x2="0" y2="301.2"><stop offset="0.006" stop-color="#ff0000"/><stop offset="0.160" stop-color="#ff0000"/><stop offset="0.241" stop-color="#ff8000"/><stop offset="0.253" stop-color="#ffff00"/><stop offset="0.353" stop-color="#00fa28"/><stop offset="0.551" stop-color="#00ffff"/><stop offset="0.640" stop-color="#0080ff"/><stop offset="0.899" stop-color="#003eff"/><stop offset="1.000" stop-color="#001cee"/></linearGradient>
<linearGradient id="sb346" gradientUnits="userSpaceOnUse" x1="0" y1="180.3" x2="0" y2="301.2"><stop offset="0.006" stop-color="#ff0000"/><stop offset="0.171" stop-color="#ff0000"/><stop offset="0.245" stop-color="#ff8000"/><stop offset="0.249" stop-color="#ffff00"/><stop offset="0.330" stop-color="#00fa28"/><stop offset="0.532" stop-color="#00ffff"/><stop offset="0.620" stop-color="#0080ff"/><stop offset="0.913" stop-color="#003eff"/><stop offset="1.000" stop-color="#001cee"/></linearGradient>
<linearGradient id="sb347" gradientUnits="userSpaceOnUse" x1="0" y1="180.3" x2="0" y2="301.2"><stop offset="0.006" stop-color="#ff0000"/><stop offset="0.183" stop-color="#ff0000"/><stop offset="0.250" stop-color="#ff8000"/><stop offset="0.253" stop-color="#ffff00"/><stop offset="0.306" stop-color="#00fa28"/><stop offset="0.512" stop-color="#00ffff"/><stop offset="0.599" stop-color="#0080ff"/><stop offset="0.927" stop-color="#003eff"/><stop offset="1.000" stop-color="#001cee"/></linearGradient>
<linearGradient id="sb348" gradientUnits="userSpaceOnUse" x1="0" y1="180.3" x2="0" y2="301.2"><stop offset="0.006" stop-color="#ff0000"/><stop offset="0.196" stop-color="#ff0000"/><stop offset="0.255" stop-color="#ff8000"/><stop offset="0.258" stop-color="#ffff00"/><stop offset="0.279" stop-color="#00fa28"/><stop offset="0.490" stop-color="#00ffff"/><stop offset="0.577" stop-color="#0080ff"/><stop offset="0.942" stop-color="#003eff"/><stop offset="1.000" stop-color="#001cee"/></linearGradient>
<linearGradient id="sb349" gradientUnits="userSpaceOnUse" x1="0" y1="180.3" x2="0" y2="301.2"><stop offset="0.006" stop-color="#ff0000"/><stop offset="0.210" stop-color="#ff0000"/><stop offset="0.260" stop-color="#ff8000"/><stop offset="0.263" stop-color="#ffff00"/><stop offset="0.266" stop-color="#00fa28"/><stop offset="0.468" stop-color="#00ffff"/><stop offset="0.553" stop-color="#0080ff"/><stop offset="0.956" stop-color="#003eff"/><stop offset="1.000" stop-color="#001cee"/></linearGradient>
<linearGradient id="sb350" gradientUnits="userSpaceOnUse" x1="0" y1="180.3" x2="0" y2="301.2"><stop offset="0.006" stop-color="#ff0000"/><stop offset="0.225" stop-color="#ff0000"/><stop offset="0.265" stop-color="#ff8000"/><stop offset="0.268" stop-color="#ffff00"/><stop offset="0.272" stop-color="#00fa28"/><stop offset="0.443" stop-color="#00ffff"/><stop offset="0.528" stop-color="#0080ff"/><stop offset="0.970" stop-color="#003eff"/><stop offset="1.000" stop-color="#001cee"/></linearGradient>
<clipPath id="cb3"><path d="M349.5 251.2C349.9 251.0 351.2 250.6 352.0 250.2C352.8 249.9 353.6 249.6 354.4 249.2C355.2 248.8 355.9 248.5 356.7 248.1C357.5 247.7 358.3 247.3 359.0 246.9C359.8 246.5 360.5 246.1 361.2 245.7C362.0 245.3 362.7 244.9 363.4 244.4C364.1 244.0 364.9 243.5 365.6 243.1C366.3 242.6 366.9 242.2 367.6 241.7C368.3 241.2 369.0 240.7 369.7 240.2C370.3 239.7 371.0 239.2 371.6 238.7C372.3 238.2 372.9 237.7 373.6 237.1C374.2 236.6 374.9 236.1 375.5 235.5C376.1 235.0 376.7 234.4 377.3 233.8C378.0 233.3 378.6 232.7 379.2 232.1C379.8 231.6 380.4 231.0 381.0 230.4C381.5 229.8 382.1 229.2 382.7 228.6C383.3 228.0 383.9 227.3 384.4 226.7C385.0 226.1 385.6 225.5 386.1 224.8C386.7 224.2 387.2 223.6 387.8 222.9C388.3 222.3 388.9 221.6 389.4 220.9C390.0 220.3 390.5 219.6 391.0 218.9C391.6 218.3 392.1 217.6 392.6 216.9C393.1 216.2 393.7 215.6 394.2 214.9C394.7 214.2 395.3 213.5 395.8 212.8C396.3 212.1 396.8 211.4 397.4 210.7C397.9 210.0 398.4 209.4 399.0 208.7C399.5 208.0 400.0 207.3 400.6 206.6C401.1 205.9 401.7 205.2 402.2 204.6C402.8 203.9 403.3 203.2 403.9 202.5C404.5 201.9 405.0 201.2 405.6 200.5C406.2 199.9 406.8 199.2 407.4 198.6C408.0 197.9 408.6 197.3 409.2 196.6C409.8 196.0 410.4 195.4 411.1 194.8C411.7 194.1 412.4 193.5 413.0 192.9C413.7 192.3 414.3 191.8 415.0 191.2C415.7 190.6 416.4 190.1 417.1 189.6C417.8 189.0 418.5 188.5 419.2 188.1C419.9 187.6 420.6 187.1 421.3 186.7C422.0 186.3 422.8 185.9 423.5 185.5C424.2 185.1 425.0 184.8 425.7 184.4C426.4 184.1 427.2 183.9 427.9 183.6C428.7 183.4 429.4 183.2 430.2 183.0C430.9 182.8 431.7 182.7 432.4 182.6C433.2 182.6 434.0 182.5 434.7 182.5C435.5 182.5 436.2 182.6 437.0 182.7C437.7 182.8 438.5 182.9 439.2 183.0C440.0 183.2 440.7 183.4 441.4 183.7C442.2 183.9 442.9 184.2 443.6 184.5C444.4 184.8 445.1 185.1 445.8 185.5C446.5 185.9 447.2 186.3 447.9 186.7C448.6 187.1 449.2 187.6 449.9 188.1C450.6 188.5 451.2 189.0 451.8 189.6C452.5 190.1 453.1 190.7 453.7 191.3C454.3 191.8 454.9 192.4 455.5 193.1C456.0 193.7 456.6 194.3 457.1 195.0C457.7 195.7 458.2 196.3 458.7 197.0C459.2 197.7 459.7 198.4 460.2 199.2C460.7 199.9 461.2 200.6 461.6 201.4C462.1 202.1 462.5 202.9 463.0 203.7C463.4 204.4 463.9 205.2 464.3 206.0C464.7 206.8 465.1 207.6 465.5 208.4C465.9 209.2 466.3 210.0 466.7 210.8C467.1 211.6 467.5 212.5 467.9 213.3C468.3 214.1 468.7 214.9 469.0 215.7C469.4 216.6 469.8 217.4 470.1 218.2C470.5 219.0 470.9 219.8 471.2 220.6C471.6 221.4 472.0 222.2 472.3 223.0C472.7 223.8 473.0 224.6 473.4 225.4C473.7 226.2 474.1 227.0 474.4 227.7C474.8 228.5 475.2 229.3 475.5 230.1C475.9 230.8 476.2 231.6 476.6 232.3C477.0 233.1 477.3 233.8 477.7 234.6C478.0 235.3 478.4 236.1 478.8 236.8C479.2 237.6 479.5 238.3 479.9 239.0C480.3 239.8 480.7 240.5 481.0 241.2C481.4 241.9 481.8 242.7 482.2 243.4C482.6 244.1 483.0 244.8 483.4 245.5C483.8 246.3 484.2 247.0 484.6 247.7C485.0 248.4 485.5 249.1 485.9 249.8C486.3 250.5 486.8 251.2 487.2 251.9C487.7 252.6 488.1 253.3 488.6 254.0C489.0 254.7 489.5 255.4 490.0 256.1C490.5 256.8 490.9 257.5 491.4 258.1C491.9 258.8 492.4 259.5 493.0 260.2C493.5 260.9 494.0 261.6 494.5 262.3C495.1 263.0 495.6 263.7 496.2 264.3C496.7 265.0 497.6 266.1 497.9 266.4C497.5 266.5 496.2 266.6 495.4 266.8C494.5 266.9 493.7 267.1 492.8 267.2C492.0 267.4 491.1 267.6 490.3 267.8C489.5 268.0 488.7 268.2 487.8 268.4C487.0 268.6 486.2 268.8 485.3 269.1C484.5 269.3 483.7 269.5 482.9 269.8C482.1 270.0 481.3 270.3 480.4 270.6C479.6 270.8 478.8 271.1 478.0 271.4C477.2 271.7 476.4 272.0 475.6 272.3C474.8 272.6 474.0 272.9 473.2 273.2C472.4 273.5 471.6 273.9 470.8 274.2C470.0 274.5 469.2 274.9 468.4 275.2C467.6 275.5 466.8 275.9 466.0 276.2C465.2 276.6 464.4 276.9 463.6 277.3C462.8 277.7 462.0 278.0 461.2 278.4C460.4 278.7 459.6 279.1 458.8 279.5C458.1 279.8 457.3 280.2 456.5 280.6C455.7 281.0 454.9 281.3 454.1 281.7C453.3 282.1 452.5 282.5 451.7 282.8C450.9 283.2 450.1 283.6 449.4 283.9C448.6 284.3 447.8 284.7 447.0 285.1C446.2 285.4 445.4 285.8 444.6 286.2C443.8 286.6 443.0 286.9 442.2 287.3C441.4 287.7 440.6 288.0 439.8 288.4C439.1 288.8 438.3 289.1 437.5 289.5C436.7 289.9 435.9 290.2 435.1 290.6C434.3 291.0 433.5 291.3 432.7 291.7C431.9 292.0 431.1 292.4 430.3 292.7C429.5 293.1 428.7 293.4 427.9 293.7C427.1 294.1 426.3 294.4 425.5 294.8C424.6 295.1 423.8 295.4 423.0 295.7C422.2 296.1 421.4 296.4 420.6 296.7C419.8 297.0 419.0 297.3 418.2 297.6C417.4 297.9 416.5 298.2 415.7 298.5C414.9 298.8 414.1 299.1 413.3 299.4C412.4 299.7 411.2 300.1 410.8 300.2C410.4 300.0 409.4 299.2 408.6 298.7C407.9 298.2 407.2 297.7 406.5 297.2C405.8 296.7 405.1 296.2 404.4 295.7C403.6 295.2 402.9 294.7 402.2 294.2C401.5 293.7 400.8 293.2 400.1 292.7C399.4 292.1 398.7 291.6 398.0 291.1C397.3 290.6 396.6 290.0 395.9 289.5C395.2 289.0 394.5 288.5 393.9 287.9C393.2 287.4 392.5 286.9 391.8 286.3C391.1 285.8 390.4 285.3 389.7 284.7C389.0 284.2 388.4 283.6 387.7 283.1C387.0 282.5 386.3 282.0 385.6 281.4C384.9 280.9 384.3 280.4 383.6 279.8C382.9 279.3 382.2 278.7 381.6 278.1C380.9 277.6 380.2 277.0 379.5 276.5C378.9 275.9 378.2 275.4 377.5 274.8C376.8 274.3 376.2 273.7 375.5 273.1C374.8 272.6 374.2 272.0 373.5 271.5C372.8 270.9 372.2 270.3 371.5 269.8C370.8 269.2 370.2 268.7 369.5 268.1C368.8 267.5 368.2 267.0 367.5 266.4C366.8 265.8 366.2 265.3 365.5 264.7C364.8 264.1 364.2 263.6 363.5 263.0C362.8 262.4 362.2 261.9 361.5 261.3C360.8 260.8 360.2 260.2 359.5 259.6C358.8 259.1 358.2 258.5 357.5 257.9C356.8 257.4 356.2 256.8 355.5 256.2C354.8 255.7 354.2 255.1 353.5 254.6C352.8 254.0 352.2 253.4 351.5 252.9C350.8 252.3 349.8 251.5 349.5 251.2Z"/></clipPath>
<linearGradient id="sc10" gradientUnits="userSpaceOnUse" x1="0" y1="346.1" x2="0" y2="483.8"><stop offset="0.007" stop-color="#ff2800"/><stop offset="0.009" stop-color="#ff3c00"/><stop offset="0.012" stop-color="#ff8c00"/><stop offset="0.015" stop-color="#ffff00"/><stop offset="0.318" stop-color="#00f03c"/><stop offset="0.517" stop-color="#00ebff"/><stop offset="0.520" stop-color="#00a0ff"/><stop offset="1.000" stop-color="#288cff"/></linearGradient>
<linearGradient id="sc11" gradientUnits="userSpaceOnUse" x1="0" y1="346.1" x2="0" y2="483.8"><stop offset="0.007" stop-color="#ff2800"/><stop offset="0.009" stop-color="#ff3c00"/><stop offset="0.012" stop-color="#ff8c00"/><stop offset="0.015" stop-color="#ffff00"/><stop offset="0.340" stop-color="#00f03c"/><stop offset="0.538" stop-color="#00ebff"/><stop offset="0.540" stop-color="#00a0ff"/><stop offset="1.000" stop-color="#288cff"/></linearGradient>
<linearGradient id="sc12" gradientUnits="userSpaceOnUse" x1="0" y1="346.1" x2="0" y2="483.8"><stop offset="0.007" stop-color="#ff2800"/><stop offset="0.009" stop-color="#ff3c00"/><stop offset="0.012" stop-color="#ff8c00"/><stop offset="0.040" stop-color="#ffff00"/><stop offset="0.361" stop-color="#00f03c"/><stop offset="0.557" stop-color="#00ebff"/><stop offset="0.560" stop-color="#00a0ff"/><stop offset="1.000" stop-color="#288cff"/></linearGradient>
<linearGradient id="sc13" gradientUnits="userSpaceOnUse" x1="0" y1="346.1" x2="0" y2="483.8"><stop offset="0.007" stop-color="#ff2800"/><stop offset="0.009" stop-color="#ff3c00"/><stop offset="0.012" stop-color="#ff8c00"/><stop offset="0.073" stop-color="#ffff00"/><stop offset="0.381" stop-color="#00f03c"/><stop offset="0.576" stop-color="#00ebff"/><stop offset="0.579" stop-color="#00a0ff"/><stop offset="1.000" stop-color="#288cff"/></linearGradient>
<linearGradient id="sc14" gradientUnits="userSpaceOnUse" x1="0" y1="346.1" x2="0" y2="483.8"><stop offset="0.007" stop-color="#ff2800"/><stop offset="0.009" stop-color="#ff3c00"/><stop offset="0.012" stop-color="#ff8c00"/><stop offset="0.104" stop-color="#ffff00"/><stop offset="0.400" stop-color="#00f03c"/><stop offset="0.594" stop-color="#00ebff"/><stop offset="0.597" stop-color="#00a0ff"/><stop offset="1.000" stop-color="#288cff"/></linearGradient>
<linearGradient id="sc15" gradientUnits="userSpaceOnUse" x1="0" y1="346.1" x2="0" y2="483.8"><stop offset="0.007" stop-color="#ff2800"/><stop offset="0.009" stop-color="#ff3c00"/><stop offset="0.012" stop-color="#ff8c00"/><stop offset="0.133" stop-color="#ffff00"/><stop offset="0.418" stop-color="#00f03c"/><stop offset="0.610" stop-color="#00ebff"/><stop offset="0.617" stop-color="#00a0ff"/><stop offset="1.000" stop-color="#288cff"/></linearGradient>
<linearGradient id="sc16" gradientUnits="userSpaceOnUse" x1="0" y1="346.1" x2="0" y2="483.8"><stop offset="0.007" stop-color="#ff2800"/><stop offset="0.009" stop-color="#ff3c00"/><stop offset="0.012" stop-color="#ff8c00"/><stop offset="0.160" stop-color="#ffff00"/><stop offset="0.435" stop-color="#00f03c"/><stop offset="0.626" stop-color="#00ebff"/><stop offset="0.657" stop-color="#00a0ff"/><stop offset="1.000" stop-color="#288cff"/></linearGradient>
<linearGradient id="sc17" gradientUnits="userSpaceOnUse" x1="0" y1="346.1" x2="0" y2="483.8"><stop offset="0.007" stop-color="#ff2800"/><stop offset="0.009" stop-color="#ff3c00"/><stop offset="0.012" stop-color="#ff8c00"/><stop offset="0.186" stop-color="#ffff00"/><stop offset="0.451" stop-color="#00f03c"/><stop offset="0.641" stop-color="#00ebff"/><stop offset="0.694" stop-color="#00a0ff"/><stop offset="1.000" stop-color="#288cff"/></linearGradient>
<linearGradient id="sc18" gradientUnits="userSpaceOnUse" x1="0" y1="346.1" x2="0" y2="483.8"><stop offset="0.007" stop-color="#ff2800"/><stop offset="0.009" stop-color="#ff3c00"/><stop offset="0.012" stop-color="#ff8c00"/><stop offset="0.210" stop-color="#ffff00"/><stop offset="0.465" stop-color="#00f03c"/><stop offset="0.654" stop-color="#00ebff"/><stop offset="0.727" stop-color="#00a0ff"/><stop offset="1.000" stop-color="#288cff"/></linearGradient>
<linearGradient id="sc19" gradientUnits="userSpaceOnUse" x1="0" y1="346.1" x2="0" y2="483.8"><stop offset="0.007" stop-color="#ff2800"/><stop offset="0.009" stop-color="#ff3c00"/><stop offset="0.012" stop-color="#ff8c00"/><stop offset="0.232" stop-color="#ffff00"/><stop offset="0.479" stop-color="#00f03c"/><stop offset="0.667" stop-color="#00ebff"/><stop offset="0.757" stop-color="#00a0ff"/><stop offset="1.000" stop-color="#288cff"/></linearGradient>
<linearGradient id="sc110" gradientUnits="userSpaceOnUse" x1="0" y1="346.1" x2="0" y2="483.8"><stop offset="0.007" stop-color="#ff2800"/><stop offset="0.009" stop-color="#ff3c00"/><stop offset="0.012" stop-color="#ff8c00"/><stop offset="0.253" stop-color="#ffff00"/><stop offset="0.492" stop-color="#00f03c"/><stop offset="0.679" stop-color="#00ebff"/><stop offset="0.783" stop-color="#00a0ff"/><stop offset="1.000" stop-color="#288cff"/></linearGradient>
<linearGradient id="sc111" gradientUnits="userSpaceOnUse" x1="0" y1="346.1" x2="0" y2="483.8"><stop offset="0.007" stop-color="#ff2800"/><stop offset="0.009" stop-color="#ff3c00"/><stop offset="0.016" stop-color="#ff8c00"/><stop offset="0.272" stop-color="#ffff00"/><stop offset="0.503" stop-color="#00f03c"/><stop offset="0.690" stop-color="#00ebff"/><stop offset="0.807" stop-color="#00a0ff"/><stop offset="1.000" stop-color="#288cff"/></linearGradient>
<linearGradient id="sc112" gradientUnits="userSpaceOnUse" x1="0" y1="346.1" x2="0" y2="483.8"><stop offset="0.007" stop-color="#ff2800"/><stop offset="0.009" stop-color="#ff3c00"/><stop offset="0.044" stop-color="#ff8c00"/><stop offset="0.290" stop-color="#ffff00"/><stop offset="0.514" stop-color="#00f03c"/><stop offset="0.700" stop-color="#00ebff"/><stop offset="0.827" stop-color="#00a0ff"/><stop offset="1.000" stop-color="#288cff"/></linearGradient>
<linearGradient id="sc113" gradientUnits="userSpaceOnUse" x1="0" y1="346.1" x2="0" y2="483.8"><stop offset="0.007" stop-color="#ff2800"/><stop offset="0.009" stop-color="#ff3c00"/><stop offset="0.070" stop-color="#ff8c00"/><stop offset="0.306" stop-color="#ffff00"/><stop offset="0.524" stop-color="#00f03c"/><stop offset="0.709" stop-color="#00ebff"/><stop offset="0.845" stop-color="#00a0ff"/><stop offset="1.000" stop-color="#288cff"/></linearGradient>
<linearGradient id="sc114" gradientUnits="userSpaceOnUse" x1="0" y1="346.1" x2="0" y2="483.8"><stop offset="0.007" stop-color="#ff2800"/><stop offset="0.009" stop-color="#ff3c00"/><stop offset="0.093" stop-color="#ff8c00"/><stop offset="0.321" stop-color="#ffff00"/><stop offset="0.533" stop-color="#00f03c"/><stop offset="0.717" stop-color="#00ebff"/><stop offset="0.860" stop-color="#00a0ff"/><stop offset="0.908" stop-color="#288cff"/></linearGradient>
<linearGradient id="sc115" gradientUnits="userSpaceOnUse" x1="0" y1="346.1" x2="0" y2="483.8"><stop offset="0.007" stop-color="#ff2800"/><stop offset="0.009" stop-color="#ff3c00"/><stop offset="0.114" stop-color="#ff8c00"/><stop offset="0.334" stop-color="#ffff00"/><stop offset="0.541" stop-color="#00f03c"/><stop offset="0.725" stop-color="#00ebff"/><stop offset="0.872" stop-color="#00a0ff"/><stop offset="0.875" stop-color="#288cff"/></linearGradient>
<linearGradient id="sc116" gradientUnits="userSpaceOnUse" x1="0" y1="346.1" x2="0" y2="483.8"><stop offset="0.007" stop-color="#ff2800"/><stop offset="0.009" stop-color="#ff3c00"/><stop offset="0.133" stop-color="#ff8c00"/><stop offset="0.346" stop-color="#ffff00"/><stop offset="0.548" stop-color="#00f03c"/><stop offset="0.732" stop-color="#00ebff"/><stop offset="0.881" stop-color="#00a0ff"/><stop offset="0.884" stop-color="#288cff"/></linearGradient>
<linearGradient id="sc117" gradientUnits="userSpaceOnUse" x1="0" y1="346.1" x2="0" y2="483.8"><stop offset="0.007" stop-color="#ff2800"/><stop offset="0.009" stop-color="#ff3c00"/><stop offset="0.149" stop-color="#ff8c00"/><stop offset="0.356" stop-color="#ffff00"/><stop offset="0.554" stop-color="#00f03c"/><stop offset="0.737" stop-color="#00ebff"/><stop offset="0.889" stop-color="#00a0ff"/><stop offset="0.928" stop-color="#288cff"/></linearGradient>
<linearGradient id="sc118" gradientUnits="userSpaceOnUse" x1="0" y1="346.1" x2="0" y2="483.8"><stop offset="0.007" stop-color="#ff2800"/><stop offset="0.009" stop-color="#ff3c00"/><stop offset="0.164" stop-color="#ff8c00"/><stop offset="0.365" stop-color="#ffff00"/><stop offset="0.560" stop-color="#00f03c"/><stop offset="0.743" stop-color="#00ebff"/><stop offset="0.894" stop-color="#00a0ff"/><stop offset="0.966" stop-color="#288cff"/></linearGradient>
<linearGradient id="sc119" gradientUnits="userSpaceOnUse" x1="0" y1="346.1" x2="0" y2="483.8"><stop offset="0.007" stop-color="#ff2800"/><stop offset="0.009" stop-color="#ff3c00"/><stop offset="0.176" stop-color="#ff8c00"/><stop offset="0.373" stop-color="#ffff00"/><stop offset="0.565" stop-color="#00f03c"/><stop offset="0.747" stop-color="#00ebff"/><stop offset="0.898" stop-color="#00a0ff"/><stop offset="0.984" stop-color="#288cff"/></linearGradient>
<linearGradient id="sc120" gradientUnits="userSpaceOnUse" x1="0" y1="346.1" x2="0" y2="483.8"><stop offset="0.007" stop-color="#ff2800"/><stop offset="0.009" stop-color="#ff3c00"/><stop offset="0.187" stop-color="#ff8c00"/><stop offset="0.380" stop-color="#ffff00"/><stop offset="0.569" stop-color="#00f03c"/><stop offset="0.751" stop-color="#00ebff"/><stop offset="0.899" stop-color="#00a0ff"/><stop offset="0.987" stop-color="#288cff"/></linearGradient>
<linearGradient id="sc121" gradientUnits="userSpaceOnUse" x1="0" y1="346.1" x2="0" y2="483.8"><stop offset="0.007" stop-color="#ff2800"/><stop offset="0.009" stop-color="#ff3c00"/><stop offset="0.196" stop-color="#ff8c00"/><stop offset="0.385" stop-color="#ffff00"/><stop offset="0.572" stop-color="#00f03c"/><stop offset="0.754" stop-color="#00ebff"/><stop offset="0.900" stop-color="#00a0ff"/><stop offset="0.984" stop-color="#288cff"/></linearGradient>
<linearGradient id="sc122" gradientUnits="userSpaceOnUse" x1="0" y1="346.1" x2="0" y2="483.8"><stop offset="0.007" stop-color="#ff2800"/><stop offset="0.022" stop-color="#ff3c00"/><stop offset="0.203" stop-color="#ff8c00"/><stop offset="0.390" stop-color="#ffff00"/><stop offset="0.575" stop-color="#00f03c"/><stop offset="0.757" stop-color="#00ebff"/><stop offset="0.900" stop-color="#00a0ff"/><stop offset="0.975" stop-color="#288cff"/></linearGradient>
<linearGradient id="sc123" gradientUnits="userSpaceOnUse" x1="0" y1="346.1" x2="0" y2="483.8"><stop offset="0.007" stop-color="#ff2800"/><stop offset="0.046" stop-color="#ff3c00"/><stop offset="0.208" stop-color="#ff8c00"/><stop offset="0.393" stop-color="#ffff00"/><stop offset="0.577" stop-color="#00f03c"/><stop offset="0.759" stop-color="#00ebff"/><stop offset="0.899" stop-color="#00a0ff"/><stop offset="0.958" stop-color="#288cff"/></linearGradient>
<linearGradient id="sc124" gradientUnits="userSpaceOnUse" x1="0" y1="346.1" x2="0" y2="483.8"><stop offset="0.007" stop-color="#ff2800"/><stop offset="0.065" stop-color="#ff3c00"/><stop offset="0.212" stop-color="#ff8c00"/><stop offset="0.396" stop-color="#ffff00"/><stop offset="0.578" stop-color="#00f03c"/><stop offset="0.760" stop-color="#00ebff"/><stop offset="0.898" stop-color="#00a0ff"/><stop offset="0.931" stop-color="#288cff"/></linearGradient>
<linearGradient id="sc125" gradientUnits="userSpaceOnUse" x1="0" y1="346.1" x2="0" y2="483.8"><stop offset="0.007" stop-color="#ff2800"/><stop offset="0.077" stop-color="#ff3c00"/><stop offset="0.215" stop-color="#ff8c00"/><stop offset="0.397" stop-color="#ffff00"/><stop offset="0.579" stop-color="#00f03c"/><stop offset="0.761" stop-color="#00ebff"/><stop offset="0.897" stop-color="#00a0ff"/><stop offset="0.900" stop-color="#288cff"/></linearGradient>
<linearGradient id="sc126" gradientUnits="userSpaceOnUse" x1="0" y1="346.1" x2="0" y2="483.8"><stop offset="0.007" stop-color="#ff2800"/><stop offset="0.084" stop-color="#ff3c00"/><stop offset="0.217" stop-color="#ff8c00"/><stop offset="0.398" stop-color="#ffff00"/><stop offset="0.580" stop-color="#00f03c"/><stop offset="0.762" stop-color="#00ebff"/><stop offset="0.895" stop-color="#00a0ff"/><stop offset="0.923" stop-color="#288cff"/></linearGradient>
<linearGradient id="sc127" gradientUnits="userSpaceOnUse" x1="0" y1="346.1" x2="0" y2="483.8"><stop offset="0.007" stop-color="#ff2800"/><stop offset="0.086" stop-color="#ff3c00"/><stop offset="0.217" stop-color="#ff8c00"/><stop offset="0.399" stop-color="#ffff00"/><stop offset="0.580" stop-color="#00f03c"/><stop offset="0.762" stop-color="#00ebff"/><stop offset="0.892" stop-color="#00a0ff"/><stop offset="0.969" stop-color="#288cff"/></linearGradient>
<linearGradient id="sc128" gradientUnits="userSpaceOnUse" x1="0" y1="346.1" x2="0" y2="483.8"><stop offset="0.007" stop-color="#ff2800"/><stop offset="0.086" stop-color="#ff3c00"/><stop offset="0.217" stop-color="#ff8c00"/><stop offset="0.399" stop-color="#ffff00"/><stop offset="0.580" stop-color="#00f03c"/><stop offset="0.762" stop-color="#00ebff"/><stop offset="0.888" stop-color="#00a0ff"/><stop offset="1.000" stop-color="#288cff"/></linearGradient>
<linearGradient id="sc129" gradientUnits="userSpaceOnUse" x1="0" y1="346.1" x2="0" y2="483.8"><stop offset="0.007" stop-color="#ff2800"/><stop offset="0.085" stop-color="#ff3c00"/><stop offset="0.217" stop-color="#ff8c00"/><stop offset="0.398" stop-color="#ffff00"/><stop offset="0.580" stop-color="#00f03c"/><stop offset="0.761" stop-color="#00ebff"/><stop offset="0.883" stop-color="#00a0ff"/><stop offset="1.000" stop-color="#288cff"/></linearGradient>
<linearGradient id="sc130" gradientUnits="userSpaceOnUse" x1="0" y1="346.1" x2="0" y2="483.8"><stop offset="0.007" stop-color="#ff2800"/><stop offset="0.080" stop-color="#ff3c00"/><stop offset="0.216" stop-color="#ff8c00"/><stop offset="0.398" stop-color="#ffff00"/><stop offset="0.579" stop-color="#00f03c"/><stop offset="0.760" stop-color="#00ebff"/><stop offset="0.878" stop-color="#00a0ff"/><stop offset="1.000" stop-color="#288cff"/></linearGradient>
<linearGradient id="sc131" gradientUnits="userSpaceOnUse" x1="0" y1="346.1" x2="0" y2="483.8"><stop offset="0.007" stop-color="#ff2800"/><stop offset="0.072" stop-color="#ff3c00"/><stop offset="0.214" stop-color="#ff8c00"/><stop offset="0.396" stop-color="#ffff00"/><stop offset="0.578" stop-color="#00f03c"/><stop offset="0.758" stop-color="#00ebff"/><stop offset="0.872" stop-color="#00a0ff"/><stop offset="1.000" stop-color="#288cff"/></linearGradient>
<linearGradient id="sc132" gradientUnits="userSpaceOnUse" x1="0" y1="346.1" x2="0" y2="483.8"><stop offset="0.007" stop-color="#ff2800"/><stop offset="0.060" stop-color="#ff3c00"/><stop offset="0.211" stop-color="#ff8c00"/><stop offset="0.394" stop-color="#ffff00"/><stop offset="0.575" stop-color="#00f03c"/><stop offset="0.756" stop-color="#00ebff"/><stop offset="0.864" stop-color="#00a0ff"/><stop offset="1.000" stop-color="#288cff"/></linearGradient>
<linearGradient id="sc133" gradientUnits="userSpaceOnUse" x1="0" y1="346.1" x2="0" y2="483.8"><stop offset="0.007" stop-color="#ff2800"/><stop offset="0.043" stop-color="#ff3c00"/><stop offset="0.207" stop-color="#ff8c00"/><stop offset="0.391" stop-color="#ffff00"/><stop offset="0.572" stop-color="#00f03c"/><stop offset="0.752" stop-color="#00ebff"/><stop offset="0.856" stop-color="#00a0ff"/><stop offset="1.000" stop-color="#288cff"/></linearGradient>
<linearGradient id="sc134" gradientUnits="userSpaceOnUse" x1="0" y1="346.1" x2="0" y2="483.8"><stop offset="0.007" stop-color="#ff2800"/><stop offset="0.022" stop-color="#ff3c00"/><stop offset="0.203" stop-color="#ff8c00"/><stop offset="0.388" stop-color="#ffff00"/><stop offset="0.568" stop-color="#00f03c"/><stop offset="0.747" stop-color="#00ebff"/><stop offset="0.846" stop-color="#00a0ff"/><stop offset="1.000" stop-color="#288cff"/></linearGradient>
<linearGradient id="sc135" gradientUnits="userSpaceOnUse" x1="0" y1="346.1" x2="0" y2="483.8"><stop offset="0.007" stop-color="#ff2800"/><stop offset="0.009" stop-color="#ff3c00"/><stop offset="0.197" stop-color="#ff8c00"/><stop offset="0.383" stop-color="#ffff00"/><stop offset="0.564" stop-color="#00f03c"/><stop offset="0.740" stop-color="#00ebff"/><stop offset="0.836" stop-color="#00a0ff"/><stop offset="1.000" stop-color="#288cff"/></linearGradient>
<linearGradient id="sc136" gradientUnits="userSpaceOnUse" x1="0" y1="346.1" x2="0" y2="483.8"><stop offset="0.007" stop-color="#ff2800"/><stop offset="0.009" stop-color="#ff3c00"/><stop offset="0.189" stop-color="#ff8c00"/><stop offset="0.378" stop-color="#ffff00"/><stop offset="0.558" stop-color="#00f03c"/><stop offset="0.733" stop-color="#00ebff"/><stop offset="0.824" stop-color="#00a0ff"/><stop offset="1.000" stop-color="#288cff"/></linearGradient>
<linearGradient id="sc137" gradientUnits="userSpaceOnUse" x1="0" y1="346.1" x2="0" y2="483.8"><stop offset="0.007" stop-color="#ff2800"/><stop offset="0.009" stop-color="#ff3c00"/><stop offset="0.181" stop-color="#ff8c00"/><stop offset="0.372" stop-color="#ffff00"/><stop offset="0.551" stop-color="#00f03c"/><stop offset="0.724" stop-color="#00ebff"/><stop offset="0.811" stop-color="#00a0ff"/><stop offset="1.000" stop-color="#288cff"/></linearGradient>
<linearGradient id="sc138" gradientUnits="userSpaceOnUse" x1="0" y1="346.1" x2="0" y2="483.8"><stop offset="0.007" stop-color="#ff2800"/><stop offset="0.009" stop-color="#ff3c00"/><stop offset="0.171" stop-color="#ff8c00"/><stop offset="0.364" stop-color="#ffff00"/><stop offset="0.543" stop-color="#00f03c"/><stop offset="0.714" stop-color="#00ebff"/><stop offset="0.797" stop-color="#00a0ff"/><stop offset="1.000" stop-color="#288cff"/></linearGradient>
<linearGradient id="sc139" gradientUnits="userSpaceOnUse" x1="0" y1="346.1" x2="0" y2="483.8"><stop offset="0.007" stop-color="#ff2800"/><stop offset="0.009" stop-color="#ff3c00"/><stop offset="0.160" stop-color="#ff8c00"/><stop offset="0.356" stop-color="#ffff00"/><stop offset="0.534" stop-color="#00f03c"/><stop offset="0.702" stop-color="#00ebff"/><stop offset="0.782" stop-color="#00a0ff"/><stop offset="1.000" stop-color="#288cff"/></linearGradient>
<linearGradient id="sc140" gradientUnits="userSpaceOnUse" x1="0" y1="346.1" x2="0" y2="483.8"><stop offset="0.007" stop-color="#ff2800"/><stop offset="0.009" stop-color="#ff3c00"/><stop offset="0.147" stop-color="#ff8c00"/><stop offset="0.346" stop-color="#ffff00"/><stop offset="0.523" stop-color="#00f03c"/><stop offset="0.689" stop-color="#00ebff"/><stop offset="0.766" stop-color="#00a0ff"/><stop offset="1.000" stop-color="#288cff"/></linearGradient>
<linearGradient id="sc141" gradientUnits="userSpaceOnUse" x1="0" y1="346.1" x2="0" y2="483.8"><stop offset="0.007" stop-color="#ff2800"/><stop offset="0.009" stop-color="#ff3c00"/><stop offset="0.133" stop-color="#ff8c00"/><stop offset="0.336" stop-color="#ffff00"/><stop offset="0.512" stop-color="#00f03c"/><stop offset="0.674" stop-color="#00ebff"/><stop offset="0.748" stop-color="#00a0ff"/><stop offset="1.000" stop-color="#288cff"/></linearGradient>
<linearGradient id="sc142" gradientUnits="userSpaceOnUse" x1="0" y1="346.1" x2="0" y2="483.8"><stop offset="0.007" stop-color="#ff2800"/><stop offset="0.009" stop-color="#ff3c00"/><stop offset="0.117" stop-color="#ff8c00"/><stop offset="0.324" stop-color="#ffff00"/><stop offset="0.499" stop-color="#00f03c"/><stop offset="0.658" stop-color="#00ebff"/><stop offset="0.729" stop-color="#00a0ff"/><stop offset="1.000" stop-color="#288cff"/></linearGradient>
<linearGradient id="sc143" gradientUnits="userSpaceOnUse" x1="0" y1="346.1" x2="0" y2="483.8"><stop offset="0.007" stop-color="#ff2800"/><stop offset="0.009" stop-color="#ff3c00"/><stop offset="0.100" stop-color="#ff8c00"/><stop offset="0.311" stop-color="#ffff00"/><stop offset="0.485" stop-color="#00f03c"/><stop offset="0.640" stop-color="#00ebff"/><stop offset="0.709" stop-color="#00a0ff"/><stop offset="1.000" stop-color="#288cff"/></linearGradient>
<linearGradient id="sc144" gradientUnits="userSpaceOnUse" x1="0" y1="346.1" x2="0" y2="483.8"><stop offset="0.007" stop-color="#ff2800"/><stop offset="0.009" stop-color="#ff3c00"/><stop offset="0.081" stop-color="#ff8c00"/><stop offset="0.296" stop-color="#ffff00"/><stop offset="0.470" stop-color="#00f03c"/><stop offset="0.620" stop-color="#00ebff"/><stop offset="0.687" stop-color="#00a0ff"/><stop offset="1.000" stop-color="#288cff"/></linearGradient>
<linearGradient id="sc145" gradientUnits="userSpaceOnUse" x1="0" y1="346.1" x2="0" y2="483.8"><stop offset="0.007" stop-color="#ff2800"/><stop offset="0.009" stop-color="#ff3c00"/><stop offset="0.060" stop-color="#ff8c00"/><stop offset="0.281" stop-color="#ffff00"/><stop offset="0.453" stop-color="#00f03c"/><stop offset="0.598" stop-color="#00ebff"/><stop offset="0.664" stop-color="#00a0ff"/><stop offset="1.000" stop-color="#288cff"/></linearGradient>
<linearGradient id="sc146" gradientUnits="userSpaceOnUse" x1="0" y1="346.1" x2="0" y2="483.8"><stop offset="0.007" stop-color="#ff2800"/><stop offset="0.009" stop-color="#ff3c00"/><stop offset="0.038" stop-color="#ff8c00"/><stop offset="0.264" stop-color="#ffff00"/><stop offset="0.435" stop-color="#00f03c"/><stop offset="0.575" stop-color="#00ebff"/><stop offset="0.640" stop-color="#00a0ff"/><stop offset="1.000" stop-color="#288cff"/></linearGradient>
<linearGradient id="sc147" gradientUnits="userSpaceOnUse" x1="0" y1="346.1" x2="0" y2="483.8"><stop offset="0.007" stop-color="#ff2800"/><stop offset="0.009" stop-color="#ff3c00"/><stop offset="0.014" stop-color="#ff8c00"/><stop offset="0.246" stop-color="#ffff00"/><stop offset="0.415" stop-color="#00f03c"/><stop offset="0.550" stop-color="#00ebff"/><stop offset="0.614" stop-color="#00a0ff"/><stop offset="1.000" stop-color="#288cff"/></linearGradient>
<clipPath id="cc1"><path d="M16.0 436.8C16.3 436.4 17.0 435.3 17.5 434.6C18.0 433.9 18.6 433.2 19.1 432.5C19.6 431.7 20.1 431.0 20.6 430.3C21.1 429.6 21.6 428.9 22.1 428.2C22.6 427.5 23.1 426.8 23.6 426.1C24.1 425.4 24.6 424.8 25.1 424.1C25.6 423.4 26.1 422.7 26.6 422.0C27.1 421.4 27.6 420.7 28.1 420.0C28.6 419.3 29.1 418.7 29.6 418.0C30.1 417.3 30.6 416.7 31.1 416.0C31.6 415.3 32.1 414.7 32.6 414.0C33.1 413.4 33.6 412.7 34.1 412.0C34.6 411.4 35.1 410.7 35.6 410.1C36.1 409.4 36.6 408.8 37.1 408.1C37.6 407.4 38.1 406.8 38.6 406.1C39.1 405.5 39.6 404.8 40.1 404.2C40.6 403.5 41.1 402.8 41.6 402.2C42.1 401.5 42.6 400.9 43.1 400.2C43.6 399.6 44.1 398.9 44.6 398.2C45.1 397.6 45.6 396.9 46.1 396.2C46.6 395.6 47.1 394.9 47.6 394.2C48.1 393.6 48.6 392.9 49.1 392.2C49.6 391.5 50.1 390.9 50.6 390.2C51.1 389.5 51.6 388.8 52.2 388.1C52.7 387.4 53.2 386.8 53.7 386.1C54.2 385.4 54.7 384.7 55.2 384.0C55.7 383.3 56.2 382.6 56.7 381.8C57.3 381.1 57.8 380.4 58.3 379.7C58.8 379.0 59.3 378.2 59.8 377.5C60.3 376.8 60.9 376.1 61.4 375.3C61.9 374.6 62.4 373.9 63.0 373.1C63.5 372.4 64.0 371.7 64.6 371.0C65.1 370.2 65.6 369.5 66.2 368.8C66.7 368.1 67.3 367.4 67.9 366.7C68.4 366.0 69.0 365.3 69.5 364.6C70.1 363.9 70.7 363.2 71.3 362.6C71.9 361.9 72.5 361.3 73.1 360.6C73.7 360.0 74.3 359.4 74.9 358.8C75.5 358.2 76.2 357.6 76.8 357.1C77.5 356.5 78.1 356.0 78.8 355.4C79.5 354.9 80.1 354.4 80.8 353.9C81.5 353.5 82.2 353.0 82.9 352.6C83.6 352.2 84.4 351.8 85.1 351.4C85.8 351.0 86.6 350.7 87.3 350.4C88.1 350.1 88.8 349.8 89.6 349.5C90.3 349.3 91.1 349.1 91.8 348.9C92.6 348.7 93.4 348.6 94.1 348.5C94.9 348.4 95.7 348.3 96.4 348.3C97.2 348.3 98.0 348.3 98.7 348.3C99.5 348.4 100.2 348.5 101.0 348.6C101.7 348.8 102.5 349.0 103.2 349.2C103.9 349.4 104.7 349.7 105.4 350.0C106.1 350.3 106.8 350.6 107.5 351.0C108.2 351.4 108.9 351.8 109.6 352.2C110.3 352.6 111.0 353.1 111.7 353.6C112.3 354.1 113.0 354.6 113.7 355.1C114.3 355.6 114.9 356.2 115.6 356.8C116.2 357.4 116.8 358.0 117.4 358.6C118.0 359.2 118.6 359.9 119.2 360.5C119.8 361.2 120.3 361.8 120.9 362.5C121.4 363.2 122.0 363.9 122.5 364.6C123.0 365.3 123.5 366.0 124.0 366.7C124.5 367.4 125.0 368.2 125.5 368.9C126.0 369.6 126.4 370.4 126.9 371.1C127.4 371.9 127.8 372.6 128.2 373.4C128.7 374.2 129.1 374.9 129.5 375.7C130.0 376.5 130.4 377.3 130.8 378.1C131.2 378.8 131.6 379.6 132.0 380.4C132.4 381.2 132.8 382.0 133.2 382.8C133.6 383.6 134.0 384.3 134.4 385.1C134.7 385.9 135.1 386.7 135.5 387.5C135.9 388.3 136.3 389.0 136.6 389.8C137.0 390.6 137.4 391.4 137.7 392.1C138.1 392.9 138.5 393.7 138.8 394.5C139.2 395.2 139.6 396.0 139.9 396.8C140.3 397.5 140.6 398.3 141.0 399.1C141.3 399.8 141.7 400.6 142.0 401.3C142.4 402.1 142.7 402.9 143.1 403.6C143.4 404.4 143.8 405.1 144.1 405.9C144.4 406.7 144.8 407.4 145.1 408.2C145.4 409.0 145.8 409.7 146.1 410.5C146.4 411.2 146.7 412.0 147.0 412.8C147.3 413.5 147.7 414.3 148.0 415.1C148.3 415.9 148.6 416.6 148.9 417.4C149.2 418.2 149.5 419.0 149.8 419.7C150.0 420.5 150.3 421.3 150.6 422.1C150.9 422.9 151.2 423.7 151.5 424.5C151.7 425.3 152.0 426.0 152.3 426.8C152.5 427.7 152.8 428.5 153.0 429.3C153.3 430.1 153.6 430.9 153.8 431.7C154.0 432.5 154.3 433.4 154.5 434.2C154.8 435.0 155.0 435.8 155.2 436.7C155.4 437.5 155.7 438.4 155.9 439.2C156.1 440.1 156.4 441.4 156.5 441.8C156.4 441.3 156.2 439.6 155.9 438.5C155.7 437.5 155.3 436.6 155.0 435.8C154.6 434.9 154.1 434.1 153.6 433.4C153.1 432.7 152.6 432.1 152.0 431.5C151.4 430.9 150.8 430.5 150.2 430.0C149.5 429.6 148.8 429.3 148.1 429.0C147.4 428.8 146.7 428.6 146.0 428.5C145.3 428.3 144.6 428.3 143.8 428.3C143.1 428.3 142.4 428.4 141.6 428.6C140.9 428.8 140.2 429.0 139.4 429.3C138.7 429.6 138.0 429.9 137.3 430.3C136.5 430.6 135.8 431.1 135.1 431.5C134.4 432.0 133.6 432.5 132.9 433.0C132.2 433.5 131.5 434.1 130.8 434.7C130.1 435.2 129.3 435.8 128.6 436.4C127.9 437.0 127.2 437.6 126.5 438.2C125.8 438.8 125.1 439.4 124.4 440.0C123.7 440.6 123.1 441.2 122.4 441.8C121.7 442.4 121.0 443.0 120.3 443.5C119.6 444.1 119.0 444.7 118.3 445.3C117.6 445.9 116.9 446.4 116.3 447.0C115.6 447.6 114.9 448.2 114.3 448.7C113.6 449.3 113.0 449.9 112.3 450.4C111.6 451.0 111.0 451.6 110.3 452.1C109.7 452.7 109.0 453.3 108.4 453.8C107.7 454.4 107.1 455.0 106.4 455.5C105.8 456.1 105.1 456.6 104.5 457.2C103.8 457.8 103.2 458.3 102.5 458.9C101.9 459.4 101.3 460.0 100.6 460.5C100.0 461.1 99.3 461.7 98.7 462.2C98.0 462.8 97.4 463.3 96.8 463.9C96.1 464.5 95.5 465.0 94.8 465.6C94.2 466.1 93.5 466.7 92.9 467.3C92.3 467.8 91.6 468.4 91.0 468.9C90.3 469.5 89.7 470.1 89.0 470.6C88.4 471.2 87.7 471.8 87.1 472.3C86.4 472.9 85.8 473.5 85.1 474.0C84.5 474.6 83.8 475.2 83.2 475.8C82.5 476.3 81.9 476.9 81.2 477.5C80.5 478.1 79.9 478.7 79.2 479.2C78.6 479.8 77.9 480.4 77.2 481.0C76.5 481.6 75.5 482.5 75.2 482.8C75.0 482.4 74.6 481.3 74.2 480.5C73.9 479.7 73.6 478.9 73.3 478.2C73.0 477.4 72.7 476.6 72.4 475.8C72.1 475.0 71.7 474.2 71.4 473.4C71.1 472.6 70.8 471.8 70.5 471.0C70.2 470.2 69.9 469.4 69.5 468.6C69.2 467.7 68.9 466.9 68.6 466.1C68.3 465.3 67.9 464.5 67.6 463.7C67.3 462.9 66.9 462.1 66.6 461.2C66.3 460.4 65.9 459.6 65.6 458.8C65.2 458.0 64.9 457.2 64.5 456.4C64.2 455.6 63.8 454.8 63.4 454.0C63.0 453.2 62.7 452.4 62.3 451.6C61.9 450.8 61.5 450.0 61.1 449.2C60.7 448.4 60.3 447.7 59.8 446.9C59.4 446.1 59.0 445.4 58.5 444.6C58.1 443.9 57.6 443.1 57.1 442.4C56.7 441.6 56.2 440.9 55.7 440.1C55.2 439.4 54.7 438.7 54.2 438.0C53.7 437.3 53.1 436.6 52.6 435.9C52.0 435.2 51.5 434.5 50.9 433.9C50.3 433.2 49.7 432.5 49.1 431.9C48.5 431.2 47.9 430.6 47.3 430.0C46.6 429.4 46.0 428.8 45.3 428.3C44.7 427.7 44.0 427.2 43.3 426.7C42.6 426.3 42.0 425.8 41.3 425.5C40.6 425.1 39.8 424.8 39.1 424.5C38.4 424.2 37.7 424.0 36.9 423.9C36.2 423.8 35.5 423.7 34.7 423.7C34.0 423.8 33.2 423.9 32.5 424.0C31.7 424.2 31.0 424.5 30.2 424.8C29.5 425.1 28.7 425.5 28.0 425.9C27.3 426.3 26.5 426.8 25.8 427.3C25.1 427.8 24.3 428.4 23.6 429.0C22.9 429.5 22.2 430.2 21.6 430.8C20.9 431.4 20.2 432.1 19.6 432.8C18.9 433.4 18.3 434.1 17.7 434.8C17.1 435.5 16.3 436.5 16.0 436.8Z"/></clipPath>
<linearGradient id="sc20" gradientUnits="userSpaceOnUse" x1="0" y1="351.1" x2="0" y2="467.5"><stop offset="0.008" stop-color="#ff4b00"/><stop offset="0.011" stop-color="#ff5a00"/><stop offset="0.015" stop-color="#ff8c00"/><stop offset="0.018" stop-color="#ffff00"/><stop offset="0.065" stop-color="#00f03c"/><stop offset="0.588" stop-color="#00f0ff"/><stop offset="0.723" stop-color="#00e1ff"/></linearGradient>
<linearGradient id="sc21" gradientUnits="userSpaceOnUse" x1="0" y1="351.1" x2="0" y2="467.5"><stop offset="0.008" stop-color="#ff4b00"/><stop offset="0.011" stop-color="#ff5a00"/><stop offset="0.015" stop-color="#ff8c00"/><stop offset="0.018" stop-color="#ffff00"/><stop offset="0.119" stop-color="#00f03c"/><stop offset="0.613" stop-color="#00f0ff"/><stop offset="0.751" stop-color="#00e1ff"/></linearGradient>
<linearGradient id="sc22" gradientUnits="userSpaceOnUse" x1="0" y1="351.1" x2="0" y2="467.5"><stop offset="0.008" stop-color="#ff4b00"/><stop offset="0.011" stop-color="#ff5a00"/><stop offset="0.015" stop-color="#ff8c00"/><stop offset="0.018" stop-color="#ffff00"/><stop offset="0.169" stop-color="#00f03c"/><stop offset="0.637" stop-color="#00f0ff"/><stop offset="0.777" stop-color="#00e1ff"/></linearGradient>
<linearGradient id="sc23" gradientUnits="userSpaceOnUse" x1="0" y1="351.1" x2="0" y2="467.5"><stop offset="0.008" stop-color="#ff4b00"/><stop offset="0.011" stop-color="#ff5a00"/><stop offset="0.015" stop-color="#ff8c00"/><stop offset="0.018" stop-color="#ffff00"/><stop offset="0.217" stop-color="#00f03c"/><stop offset="0.659" stop-color="#00f0ff"/><stop offset="0.801" stop-color="#00e1ff"/></linearGradient>
<linearGradient id="sc24" gradientUnits="userSpaceOnUse" x1="0" y1="351.1" x2="0" y2="467.5"><stop offset="0.008" stop-color="#ff4b00"/><stop offset="0.011" stop-color="#ff5a00"/><stop offset="0.015" stop-color="#ff8c00"/><stop offset="0.018" stop-color="#ffff00"/><stop offset="0.261" stop-color="#00f03c"/><stop offset="0.679" stop-color="#00f0ff"/><stop offset="0.824" stop-color="#00e1ff"/></linearGradient>
<linearGradient id="sc25" gradientUnits="userSpaceOnUse" x1="0" y1="351.1" x2="0" y2="467.5"><stop offset="0.008" stop-color="#ff4b00"/><stop offset="0.011" stop-color="#ff5a00"/><stop offset="0.015" stop-color="#ff8c00"/><stop offset="0.018" stop-color="#ffff00"/><stop offset="0.303" stop-color="#00f03c"/><stop offset="0.699" stop-color="#00f0ff"/><stop offset="0.845" stop-color="#00e1ff"/></linearGradient>
<linearGradient id="sc26" gradientUnits="userSpaceOnUse" x1="0" y1="351.1" x2="0" y2="467.5"><stop offset="0.008" stop-color="#ff4b00"/><stop offset="0.011" stop-color="#ff5a00"/><stop offset="0.015" stop-color="#ff8c00"/><stop offset="0.018" stop-color="#ffff00"/><stop offset="0.341" stop-color="#00f03c"/><stop offset="0.717" stop-color="#00f0ff"/><stop offset="0.865" stop-color="#00e1ff"/></linearGradient>
<linearGradient id="sc27" gradientUnits="userSpaceOnUse" x1="0" y1="351.1" x2="0" y2="467.5"><stop offset="0.008" stop-color="#ff4b00"/><stop offset="0.011" stop-color="#ff5a00"/><stop offset="0.015" stop-color="#ff8c00"/><stop offset="0.018" stop-color="#ffff00"/><stop offset="0.377" stop-color="#00f03c"/><stop offset="0.734" stop-color="#00f0ff"/><stop offset="0.884" stop-color="#00e1ff"/></linearGradient>
<linearGradient id="sc28" gradientUnits="userSpaceOnUse" x1="0" y1="351.1" x2="0" y2="467.5"><stop offset="0.008" stop-color="#ff4b00"/><stop offset="0.011" stop-color="#ff5a00"/><stop offset="0.015" stop-color="#ff8c00"/><stop offset="0.018" stop-color="#ffff00"/><stop offset="0.410" stop-color="#00f03c"/><stop offset="0.749" stop-color="#00f0ff"/><stop offset="0.901" stop-color="#00e1ff"/></linearGradient>
<linearGradient id="sc29" gradientUnits="userSpaceOnUse" x1="0" y1="351.1" x2="0" y2="467.5"><stop offset="0.008" stop-color="#ff4b00"/><stop offset="0.011" stop-color="#ff5a00"/><stop offset="0.015" stop-color="#ff8c00"/><stop offset="0.018" stop-color="#ffff00"/><stop offset="0.440" stop-color="#00f03c"/><stop offset="0.763" stop-color="#00f0ff"/><stop offset="0.917" stop-color="#00e1ff"/></linearGradient>
<linearGradient id="sc210" gradientUnits="userSpaceOnUse" x1="0" y1="351.1" x2="0" y2="467.5"><stop offset="0.008" stop-color="#ff4b00"/><stop offset="0.011" stop-color="#ff5a00"/><stop offset="0.015" stop-color="#ff8c00"/><stop offset="0.018" stop-color="#ffff00"/><stop offset="0.468" stop-color="#00f03c"/><stop offset="0.776" stop-color="#00f0ff"/><stop offset="0.931" stop-color="#00e1ff"/></linearGradient>
<linearGradient id="sc211" gradientUnits="userSpaceOnUse" x1="0" y1="351.1" x2="0" y2="467.5"><stop offset="0.008" stop-color="#ff4b00"/><stop offset="0.011" stop-color="#ff5a00"/><stop offset="0.015" stop-color="#ff8c00"/><stop offset="0.054" stop-color="#ffff00"/><stop offset="0.493" stop-color="#00f03c"/><stop offset="0.788" stop-color="#00f0ff"/><stop offset="0.944" stop-color="#00e1ff"/></linearGradient>
<linearGradient id="sc212" gradientUnits="userSpaceOnUse" x1="0" y1="351.1" x2="0" y2="467.5"><stop offset="0.008" stop-color="#ff4b00"/><stop offset="0.011" stop-color="#ff5a00"/><stop offset="0.015" stop-color="#ff8c00"/><stop offset="0.114" stop-color="#ffff00"/><stop offset="0.516" stop-color="#00f03c"/><stop offset="0.799" stop-color="#00f0ff"/><stop offset="0.956" stop-color="#00e1ff"/></linearGradient>
<linearGradient id="sc213" gradientUnits="userSpaceOnUse" x1="0" y1="351.1" x2="0" y2="467.5"><stop offset="0.008" stop-color="#ff4b00"/><stop offset="0.011" stop-color="#ff5a00"/><stop offset="0.015" stop-color="#ff8c00"/><stop offset="0.168" stop-color="#ffff00"/><stop offset="0.537" stop-color="#00f03c"/><stop offset="0.808" stop-color="#00f0ff"/><stop offset="0.967" stop-color="#00e1ff"/></linearGradient>
<linearGradient id="sc214" gradientUnits="userSpaceOnUse" x1="0" y1="351.1" x2="0" y2="467.5"><stop offset="0.008" stop-color="#ff4b00"/><stop offset="0.011" stop-color="#ff5a00"/><stop offset="0.029" stop-color="#ff8c00"/><stop offset="0.216" stop-color="#ffff00"/><stop offset="0.555" stop-color="#00f03c"/><stop offset="0.817" stop-color="#00f0ff"/><stop offset="0.976" stop-color="#00e1ff"/></linearGradient>
<linearGradient id="sc215" gradientUnits="userSpaceOnUse" x1="0" y1="351.1" x2="0" y2="467.5"><stop offset="0.008" stop-color="#ff4b00"/><stop offset="0.011" stop-color="#ff5a00"/><stop offset="0.063" stop-color="#ff8c00"/><stop offset="0.259" stop-color="#ffff00"/><stop offset="0.572" stop-color="#00f03c"/><stop offset="0.825" stop-color="#00f0ff"/><stop offset="0.984" stop-color="#00e1ff"/></linearGradient>
<linearGradient id="sc216" gradientUnits="userSpaceOnUse" x1="0" y1="351.1" x2="0" y2="467.5"><stop offset="0.008" stop-color="#ff4b00"/><stop offset="0.011" stop-color="#ff5a00"/><stop offset="0.093" stop-color="#ff8c00"/><stop offset="0.296" stop-color="#ffff00"/><stop offset="0.586" stop-color="#00f03c"/><stop offset="0.831" stop-color="#00f0ff"/><stop offset="0.992" stop-color="#00e1ff"/></linearGradient>
<linearGradient id="sc217" gradientUnits="userSpaceOnUse" x1="0" y1="351.1" x2="0" y2="467.5"><stop offset="0.008" stop-color="#ff4b00"/><stop offset="0.011" stop-color="#ff5a00"/><stop offset="0.120" stop-color="#ff8c00"/><stop offset="0.329" stop-color="#ffff00"/><stop offset="0.599" stop-color="#00f03c"/><stop offset="0.837" stop-color="#00f0ff"/><stop offset="0.998" stop-color="#00e1ff"/></linearGradient>
<linearGradient id="sc218" gradientUnits="userSpaceOnUse" x1="0" y1="351.1" x2="0" y2="467.5"><stop offset="0.008" stop-color="#ff4b00"/><stop offset="0.011" stop-color="#ff5a00"/><stop offset="0.142" stop-color="#ff8c00"/><stop offset="0.356" stop-color="#ffff00"/><stop offset="0.609" stop-color="#00f03c"/><stop offset="0.842" stop-color="#00f0ff"/><stop offset="1.000" stop-color="#00e1ff"/></linearGradient>
<linearGradient id="sc219" gradientUnits="userSpaceOnUse" x1="0" y1="351.1" x2="0" y2="467.5"><stop offset="0.008" stop-color="#ff4b00"/><stop offset="0.011" stop-color="#ff5a00"/><stop offset="0.161" stop-color="#ff8c00"/><stop offset="0.380" stop-color="#ffff00"/><stop offset="0.618" stop-color="#00f03c"/><stop offset="0.846" stop-color="#00f0ff"/><stop offset="1.000" stop-color="#00e1ff"/></linearGradient>
<linearGradient id="sc220" gradientUnits="userSpaceOnUse" x1="0" y1="351.1" x2="0" y2="467.5"><stop offset="0.008" stop-color="#ff4b00"/><stop offset="0.011" stop-color="#ff5a00"/><stop offset="0.176" stop-color="#ff8c00"/><stop offset="0.399" stop-color="#ffff00"/><stop offset="0.625" stop-color="#00f03c"/><stop offset="0.850" stop-color="#00f0ff"/><stop offset="1.000" stop-color="#00e1ff"/></linearGradient>
<linearGradient id="sc221" gradientUnits="userSpaceOnUse" x1="0" y1="351.1" x2="0" y2="467.5"><stop offset="0.008" stop-color="#ff4b00"/><stop offset="0.029" stop-color="#ff5a00"/><stop offset="0.188" stop-color="#ff8c00"/><stop offset="0.414" stop-color="#ffff00"/><stop offset="0.631" stop-color="#00f03c"/><stop offset="0.853" stop-color="#00f0ff"/><stop offset="1.000" stop-color="#00e1ff"/></linearGradient>
<linearGradient id="sc222" gradientUnits="userSpaceOnUse" x1="0" y1="351.1" x2="0" y2="467.5"><stop offset="0.008" stop-color="#ff4b00"/><stop offset="0.053" stop-color="#ff5a00"/><stop offset="0.198" stop-color="#ff8c00"/><stop offset="0.426" stop-color="#ffff00"/><stop offset="0.636" stop-color="#00f03c"/><stop offset="0.855" stop-color="#00f0ff"/><stop offset="1.000" stop-color="#00e1ff"/></linearGradient>
<linearGradient id="sc223" gradientUnits="userSpaceOnUse" x1="0" y1="351.1" x2="0" y2="467.5"><stop offset="0.008" stop-color="#ff4b00"/><stop offset="0.070" stop-color="#ff5a00"/><stop offset="0.205" stop-color="#ff8c00"/><stop offset="0.434" stop-color="#ffff00"/><stop offset="0.639" stop-color="#00f03c"/><stop offset="0.856" stop-color="#00f0ff"/><stop offset="1.000" stop-color="#00e1ff"/></linearGradient>
<linearGradient id="sc224" gradientUnits="userSpaceOnUse" x1="0" y1="351.1" x2="0" y2="467.5"><stop offset="0.008" stop-color="#ff4b00"/><stop offset="0.082" stop-color="#ff5a00"/><stop offset="0.209" stop-color="#ff8c00"/><stop offset="0.440" stop-color="#ffff00"/><stop offset="0.641" stop-color="#00f03c"/><stop offset="0.857" stop-color="#00f0ff"/><stop offset="1.000" stop-color="#00e1ff"/></linearGradient>
<linearGradient id="sc225" gradientUnits="userSpaceOnUse" x1="0" y1="351.1" x2="0" y2="467.5"><stop offset="0.008" stop-color="#ff4b00"/><stop offset="0.089" stop-color="#ff5a00"/><stop offset="0.212" stop-color="#ff8c00"/><stop offset="0.444" stop-color="#ffff00"/><stop offset="0.643" stop-color="#00f03c"/><stop offset="0.858" stop-color="#00f0ff"/><stop offset="1.000" stop-color="#00e1ff"/></linearGradient>
<linearGradient id="sc226" gradientUnits="userSpaceOnUse" x1="0" y1="351.1" x2="0" y2="467.5"><stop offset="0.008" stop-color="#ff4b00"/><stop offset="0.093" stop-color="#ff5a00"/><stop offset="0.214" stop-color="#ff8c00"/><stop offset="0.445" stop-color="#ffff00"/><stop offset="0.643" stop-color="#00f03c"/><stop offset="0.858" stop-color="#00f0ff"/><stop offset="1.000" stop-color="#00e1ff"/></linearGradient>
<linearGradient id="sc227" gradientUnits="userSpaceOnUse" x1="0" y1="351.1" x2="0" y2="467.5"><stop offset="0.008" stop-color="#ff4b00"/><stop offset="0.094" stop-color="#ff5a00"/><stop offset="0.214" stop-color="#ff8c00"/><stop offset="0.446" stop-color="#ffff00"/><stop offset="0.643" stop-color="#00f03c"/><stop offset="0.858" stop-color="#00f0ff"/><stop offset="1.000" stop-color="#00e1ff"/></linearGradient>
<linearGradient id="sc228" gradientUnits="userSpaceOnUse" x1="0" y1="351.1" x2="0" y2="467.5"><stop offset="0.008" stop-color="#ff4b00"/><stop offset="0.093" stop-color="#ff5a00"/><stop offset="0.214" stop-color="#ff8c00"/><stop offset="0.446" stop-color="#ffff00"/><stop offset="0.643" stop-color="#00f03c"/><stop offset="0.858" stop-color="#00f0ff"/><stop offset="1.000" stop-color="#00e1ff"/></linearGradient>
<linearGradient id="sc229" gradientUnits="userSpaceOnUse" x1="0" y1="351.1" x2="0" y2="467.5"><stop offset="0.008" stop-color="#ff4b00"/><stop offset="0.091" stop-color="#ff5a00"/><stop offset="0.214" stop-color="#ff8c00"/><stop offset="0.445" stop-color="#ffff00"/><stop offset="0.643" stop-color="#00f03c"/><stop offset="0.858" stop-color="#00f0ff"/><stop offset="1.000" stop-color="#00e1ff"/></linearGradient>
<linearGradient id="sc230" gradientUnits="userSpaceOnUse" x1="0" y1="351.1" x2="0" y2="467.5"><stop offset="0.008" stop-color="#ff4b00"/><stop offset="0.086" stop-color="#ff5a00"/><stop offset="0.213" stop-color="#ff8c00"/><stop offset="0.444" stop-color="#ffff00"/><stop offset="0.642" stop-color="#00f03c"/><stop offset="0.857" stop-color="#00f0ff"/><stop offset="1.000" stop-color="#00e1ff"/></linearGradient>
<linearGradient id="sc231" gradientUnits="userSpaceOnUse" x1="0" y1="351.1" x2="0" y2="467.5"><stop offset="0.008" stop-color="#ff4b00"/><stop offset="0.076" stop-color="#ff5a00"/><stop offset="0.212" stop-color="#ff8c00"/><stop offset="0.441" stop-color="#ffff00"/><stop offset="0.639" stop-color="#00f03c"/><stop offset="0.856" stop-color="#00f0ff"/><stop offset="1.000" stop-color="#00e1ff"/></linearGradient>
<linearGradient id="sc232" gradientUnits="userSpaceOnUse" x1="0" y1="351.1" x2="0" y2="467.5"><stop offset="0.008" stop-color="#ff4b00"/><stop offset="0.062" stop-color="#ff5a00"/><stop offset="0.210" stop-color="#ff8c00"/><stop offset="0.438" stop-color="#ffff00"/><stop offset="0.636" stop-color="#00f03c"/><stop offset="0.853" stop-color="#00f0ff"/><stop offset="1.000" stop-color="#00e1ff"/></linearGradient>
<linearGradient id="sc233" gradientUnits="userSpaceOnUse" x1="0" y1="351.1" x2="0" y2="467.5"><stop offset="0.008" stop-color="#ff4b00"/><stop offset="0.042" stop-color="#ff5a00"/><stop offset="0.208" stop-color="#ff8c00"/><stop offset="0.432" stop-color="#ffff00"/><stop offset="0.631" stop-color="#00f03c"/><stop offset="0.850" stop-color="#00f0ff"/><stop offset="1.000" stop-color="#00e1ff"/></linearGradient>
<linearGradient id="sc234" gradientUnits="userSpaceOnUse" x1="0" y1="351.1" x2="0" y2="467.5"><stop offset="0.008" stop-color="#ff4b00"/><stop offset="0.016" stop-color="#ff5a00"/><stop offset="0.205" stop-color="#ff8c00"/><stop offset="0.426" stop-color="#ffff00"/><stop offset="0.625" stop-color="#00f03c"/><stop offset="0.846" stop-color="#00f0ff"/><stop offset="1.000" stop-color="#00e1ff"/></linearGradient>
<linearGradient id="sc235" gradientUnits="userSpaceOnUse" x1="0" y1="351.1" x2="0" y2="467.5"><stop offset="0.008" stop-color="#ff4b00"/><stop offset="0.011" stop-color="#ff5a00"/><stop offset="0.201" stop-color="#ff8c00"/><stop offset="0.417" stop-color="#ffff00"/><stop offset="0.617" stop-color="#00f03c"/><stop offset="0.841" stop-color="#00f0ff"/><stop offset="1.000" stop-color="#00e1ff"/></linearGradient>
<linearGradient id="sc236" gradientUnits="userSpaceOnUse" x1="0" y1="351.1" x2="0" y2="467.5"><stop offset="0.008" stop-color="#ff4b00"/><stop offset="0.011" stop-color="#ff5a00"/><stop offset="0.196" stop-color="#ff8c00"/><stop offset="0.406" stop-color="#ffff00"/><stop offset="0.608" stop-color="#00f03c"/><stop offset="0.835" stop-color="#00f0ff"/><stop offset="0.993" stop-color="#00e1ff"/></linearGradient>
<linearGradient id="sc237" gradientUnits="userSpaceOnUse" x1="0" y1="351.1" x2="0" y2="467.5"><stop offset="0.008" stop-color="#ff4b00"/><stop offset="0.011" stop-color="#ff5a00"/><stop offset="0.190" stop-color="#ff8c00"/><stop offset="0.394" stop-color="#ffff00"/><stop offset="0.596" stop-color="#00f03c"/><stop offset="0.827" stop-color="#00f0ff"/><stop offset="0.984" stop-color="#00e1ff"/></linearGradient>
<linearGradient id="sc238" gradientUnits="userSpaceOnUse" x1="0" y1="351.1" x2="0" y2="467.5"><stop offset="0.008" stop-color="#ff4b00"/><stop offset="0.011" stop-color="#ff5a00"/><stop offset="0.183" stop-color="#ff8c00"/><stop offset="0.379" stop-color="#ffff00"/><stop offset="0.582" stop-color="#00f03c"/><stop offset="0.818" stop-color="#00f0ff"/><stop offset="0.973" stop-color="#00e1ff"/></linearGradient>
<linearGradient id="sc239" gradientUnits="userSpaceOnUse" x1="0" y1="351.1" x2="0" y2="467.5"><stop offset="0.008" stop-color="#ff4b00"/><stop offset="0.011" stop-color="#ff5a00"/><stop offset="0.175" stop-color="#ff8c00"/><stop offset="0.361" stop-color="#ffff00"/><stop offset="0.567" stop-color="#00f03c"/><stop offset="0.808" stop-color="#00f0ff"/><stop offset="0.961" stop-color="#00e1ff"/></linearGradient>
<linearGradient id="sc240" gradientUnits="userSpaceOnUse" x1="0" y1="351.1" x2="0" y2="467.5"><stop offset="0.008" stop-color="#ff4b00"/><stop offset="0.011" stop-color="#ff5a00"/><stop offset="0.166" stop-color="#ff8c00"/><stop offset="0.341" stop-color="#ffff00"/><stop offset="0.549" stop-color="#00f03c"/><stop offset="0.796" stop-color="#00f0ff"/><stop offset="0.947" stop-color="#00e1ff"/></linearGradient>
<linearGradient id="sc241" gradientUnits="userSpaceOnUse" x1="0" y1="351.1" x2="0" y2="467.5"><stop offset="0.008" stop-color="#ff4b00"/><stop offset="0.011" stop-color="#ff5a00"/><stop offset="0.156" stop-color="#ff8c00"/><stop offset="0.319" stop-color="#ffff00"/><stop offset="0.528" stop-color="#00f03c"/><stop offset="0.783" stop-color="#00f0ff"/><stop offset="0.931" stop-color="#00e1ff"/></linearGradient>
<linearGradient id="sc242" gradientUnits="userSpaceOnUse" x1="0" y1="351.1" x2="0" y2="467.5"><stop offset="0.008" stop-color="#ff4b00"/><stop offset="0.011" stop-color="#ff5a00"/><stop offset="0.144" stop-color="#ff8c00"/><stop offset="0.294" stop-color="#ffff00"/><stop offset="0.505" stop-color="#00f03c"/><stop offset="0.768" stop-color="#00f0ff"/><stop offset="0.912" stop-color="#00e1ff"/></linearGradient>
<linearGradient id="sc243" gradientUnits="userSpaceOnUse" x1="0" y1="351.1" x2="0" y2="467.5"><stop offset="0.008" stop-color="#ff4b00"/><stop offset="0.011" stop-color="#ff5a00"/><stop offset="0.132" stop-color="#ff8c00"/><stop offset="0.266" stop-color="#ffff00"/><stop offset="0.480" stop-color="#00f03c"/><stop offset="0.751" stop-color="#00f0ff"/><stop offset="0.892" stop-color="#00e1ff"/></linearGradient>
<linearGradient id="sc244" gradientUnits="userSpaceOnUse" x1="0" y1="351.1" x2="0" y2="467.5"><stop offset="0.008" stop-color="#ff4b00"/><stop offset="0.011" stop-color="#ff5a00"/><stop offset="0.117" stop-color="#ff8c00"/><stop offset="0.234" stop-color="#ffff00"/><stop offset="0.451" stop-color="#00f03c"/><stop offset="0.732" stop-color="#00f0ff"/><stop offset="0.870" stop-color="#00e1ff"/></linearGradient>
<linearGradient id="sc245" gradientUnits="userSpaceOnUse" x1="0" y1="351.1" x2="0" y2="467.5"><stop offset="0.008" stop-color="#ff4b00"/><stop offset="0.011" stop-color="#ff5a00"/><stop offset="0.102" stop-color="#ff8c00"/><stop offset="0.200" stop-color="#ffff00"/><stop offset="0.420" stop-color="#00f03c"/><stop offset="0.712" stop-color="#00f0ff"/><stop offset="0.845" stop-color="#00e1ff"/></linearGradient>
<linearGradient id="sc246" gradientUnits="userSpaceOnUse" x1="0" y1="351.1" x2="0" y2="467.5"><stop offset="0.008" stop-color="#ff4b00"/><stop offset="0.011" stop-color="#ff5a00"/><stop offset="0.085" stop-color="#ff8c00"/><stop offset="0.163" stop-color="#ffff00"/><stop offset="0.386" stop-color="#00f03c"/><stop offset="0.690" stop-color="#00f0ff"/><stop offset="0.819" stop-color="#00e1ff"/></linearGradient>
<linearGradient id="sc247" gradientUnits="userSpaceOnUse" x1="0" y1="351.1" x2="0" y2="467.5"><stop offset="0.008" stop-color="#ff4b00"/><stop offset="0.011" stop-color="#ff5a00"/><stop offset="0.066" stop-color="#ff8c00"/><stop offset="0.122" stop-color="#ffff00"/><stop offset="0.349" stop-color="#00f03c"/><stop offset="0.665" stop-color="#00f0ff"/><stop offset="0.789" stop-color="#00e1ff"/></linearGradient>
<clipPath id="cc2"><path d="M193.0 420.8C193.4 420.6 194.6 420.0 195.4 419.6C196.1 419.2 196.9 418.8 197.7 418.4C198.4 418.0 199.2 417.6 199.9 417.2C200.6 416.7 201.4 416.3 202.1 415.9C202.8 415.4 203.5 415.0 204.3 414.5C205.0 414.1 205.7 413.6 206.4 413.2C207.1 412.7 207.7 412.2 208.4 411.8C209.1 411.3 209.8 410.8 210.4 410.3C211.1 409.8 211.8 409.3 212.4 408.8C213.1 408.3 213.7 407.7 214.3 407.2C215.0 406.7 215.6 406.1 216.2 405.6C216.8 405.0 217.5 404.5 218.1 403.9C218.7 403.4 219.3 402.8 219.9 402.2C220.5 401.6 221.1 401.0 221.6 400.4C222.2 399.8 222.8 399.2 223.4 398.6C224.0 397.9 224.5 397.3 225.1 396.6C225.6 396.0 226.2 395.3 226.8 394.7C227.3 394.0 227.8 393.3 228.4 392.6C228.9 392.0 229.5 391.3 230.0 390.6C230.6 389.9 231.1 389.2 231.6 388.5C232.2 387.8 232.7 387.1 233.2 386.4C233.7 385.7 234.3 385.0 234.8 384.2C235.3 383.5 235.9 382.8 236.4 382.1C236.9 381.4 237.5 380.7 238.0 380.0C238.5 379.3 239.1 378.6 239.6 377.9C240.1 377.2 240.7 376.5 241.2 375.8C241.8 375.1 242.3 374.4 242.9 373.7C243.4 373.0 244.0 372.4 244.6 371.7C245.1 371.0 245.7 370.4 246.3 369.8C246.8 369.1 247.4 368.5 248.0 367.9C248.6 367.2 249.2 366.6 249.8 366.0C250.4 365.4 251.0 364.8 251.6 364.3C252.3 363.7 252.9 363.2 253.5 362.6C254.2 362.1 254.8 361.6 255.5 361.1C256.2 360.6 256.8 360.1 257.5 359.6C258.2 359.2 258.9 358.7 259.6 358.3C260.3 357.9 261.0 357.5 261.8 357.1C262.5 356.7 263.3 356.3 264.0 356.0C264.8 355.7 265.6 355.4 266.3 355.1C267.1 354.8 267.9 354.6 268.7 354.3C269.5 354.1 270.3 353.9 271.1 353.8C271.9 353.6 272.7 353.5 273.5 353.4C274.3 353.3 275.1 353.2 275.9 353.2C276.7 353.2 277.5 353.2 278.3 353.3C279.1 353.4 279.8 353.5 280.6 353.6C281.4 353.8 282.1 353.9 282.8 354.2C283.6 354.4 284.3 354.7 285.0 355.0C285.7 355.4 286.4 355.7 287.0 356.2C287.7 356.6 288.4 357.0 289.0 357.5C289.6 358.0 290.2 358.6 290.8 359.2C291.4 359.7 292.0 360.3 292.6 361.0C293.2 361.6 293.7 362.3 294.3 363.0C294.8 363.6 295.4 364.4 295.9 365.1C296.4 365.8 296.9 366.6 297.4 367.3C297.9 368.1 298.4 368.9 298.9 369.7C299.4 370.5 299.8 371.3 300.3 372.1C300.8 372.9 301.2 373.7 301.7 374.5C302.1 375.3 302.5 376.1 303.0 376.9C303.4 377.7 303.8 378.5 304.2 379.3C304.7 380.1 305.1 380.9 305.5 381.7C305.9 382.5 306.3 383.3 306.7 384.1C307.1 384.9 307.5 385.7 307.9 386.4C308.2 387.2 308.6 388.0 309.0 388.8C309.4 389.5 309.8 390.3 310.1 391.1C310.5 391.8 310.9 392.6 311.3 393.4C311.6 394.1 312.0 394.9 312.4 395.6C312.7 396.4 313.1 397.1 313.5 397.9C313.9 398.6 314.2 399.4 314.6 400.1C315.0 400.9 315.3 401.6 315.7 402.3C316.1 403.1 316.5 403.8 316.8 404.5C317.2 405.3 317.6 406.0 318.0 406.7C318.3 407.5 318.7 408.2 319.1 408.9C319.5 409.6 319.9 410.4 320.3 411.1C320.7 411.8 321.1 412.5 321.5 413.2C321.9 414.0 322.3 414.7 322.7 415.4C323.1 416.1 323.6 416.8 324.0 417.5C324.4 418.2 324.9 419.0 325.3 419.7C325.8 420.4 326.2 421.1 326.7 421.8C327.1 422.5 327.6 423.2 328.1 423.9C328.6 424.6 329.0 425.3 329.5 426.0C330.0 426.8 330.5 427.5 331.1 428.2C331.6 428.9 332.1 429.6 332.6 430.3C333.2 431.0 334.0 432.0 334.3 432.4C333.9 432.6 332.7 433.1 331.9 433.4C331.1 433.7 330.3 434.0 329.5 434.4C328.6 434.7 327.8 435.0 327.0 435.3C326.2 435.6 325.4 436.0 324.6 436.3C323.8 436.6 323.0 436.9 322.2 437.3C321.4 437.6 320.5 437.9 319.7 438.2C318.9 438.6 318.1 438.9 317.3 439.2C316.5 439.5 315.7 439.9 314.9 440.2C314.0 440.5 313.2 440.8 312.4 441.2C311.6 441.5 310.8 441.8 310.0 442.1C309.2 442.5 308.4 442.8 307.5 443.1C306.7 443.4 305.9 443.8 305.1 444.1C304.3 444.4 303.5 444.7 302.7 445.1C301.9 445.4 301.1 445.7 300.2 446.0C299.4 446.4 298.6 446.7 297.8 447.0C297.0 447.3 296.2 447.7 295.4 448.0C294.6 448.3 293.7 448.7 292.9 449.0C292.1 449.3 291.3 449.6 290.5 450.0C289.7 450.3 288.9 450.6 288.1 451.0C287.3 451.3 286.4 451.6 285.6 452.0C284.8 452.3 284.0 452.6 283.2 453.0C282.4 453.3 281.6 453.6 280.8 454.0C280.0 454.3 279.2 454.6 278.4 455.0C277.5 455.3 276.7 455.7 275.9 456.0C275.1 456.3 274.3 456.7 273.5 457.0C272.7 457.4 271.9 457.7 271.1 458.0C270.3 458.4 269.5 458.7 268.7 459.1C267.9 459.4 267.1 459.8 266.3 460.1C265.5 460.5 264.7 460.8 263.9 461.2C263.1 461.5 262.3 461.9 261.5 462.2C260.7 462.6 259.9 462.9 259.1 463.3C258.3 463.6 257.5 464.0 256.7 464.3C255.9 464.7 255.1 465.1 254.3 465.4C253.5 465.8 252.3 466.3 251.9 466.5C251.5 466.3 250.4 465.6 249.6 465.2C248.8 464.7 248.1 464.2 247.4 463.7C246.6 463.3 245.9 462.8 245.1 462.3C244.4 461.8 243.7 461.2 243.0 460.7C242.3 460.2 241.6 459.7 240.9 459.1C240.2 458.6 239.5 458.0 238.8 457.5C238.1 456.9 237.4 456.4 236.7 455.8C236.0 455.2 235.4 454.6 234.7 454.1C234.0 453.5 233.3 452.9 232.7 452.3C232.0 451.7 231.3 451.1 230.7 450.5C230.0 449.9 229.4 449.3 228.7 448.7C228.0 448.1 227.4 447.5 226.7 446.9C226.1 446.3 225.4 445.7 224.8 445.1C224.1 444.5 223.4 443.9 222.8 443.3C222.1 442.6 221.5 442.0 220.8 441.4C220.2 440.8 219.5 440.2 218.8 439.6C218.2 439.0 217.5 438.4 216.8 437.8C216.2 437.2 215.5 436.6 214.8 436.0C214.2 435.5 213.5 434.9 212.8 434.3C212.1 433.7 211.5 433.2 210.8 432.6C210.1 432.0 209.4 431.5 208.7 430.9C208.0 430.4 207.3 429.8 206.6 429.3C205.9 428.8 205.1 428.2 204.4 427.7C203.7 427.2 203.0 426.7 202.2 426.2C201.5 425.7 200.8 425.2 200.0 424.7C199.3 424.3 198.5 423.8 197.7 423.3C197.0 422.9 196.2 422.5 195.4 422.0C194.6 421.6 193.4 421.0 193.0 420.8Z"/></clipPath>
<linearGradient id="sc30" gradientUnits="userSpaceOnUse" x1="0" y1="350.9" x2="0" y2="467.5"><stop offset="0.001" stop-color="#ff4b00"/><stop offset="0.004" stop-color="#ff5a00"/><stop offset="0.008" stop-color="#ff8c00"/><stop offset="0.011" stop-color="#ffff00"/><stop offset="0.048" stop-color="#00f03c"/><stop offset="0.580" stop-color="#00f0ff"/><stop offset="0.716" stop-color="#00e1ff"/></linearGradient>
<linearGradient id="sc31" gradientUnits="userSpaceOnUse" x1="0" y1="350.9" x2="0" y2="467.5"><stop offset="0.001" stop-color="#ff4b00"/><stop offset="0.004" stop-color="#ff5a00"/><stop offset="0.008" stop-color="#ff8c00"/><stop offset="0.011" stop-color="#ffff00"/><stop offset="0.103" stop-color="#00f03c"/><stop offset="0.605" stop-color="#00f0ff"/><stop offset="0.744" stop-color="#00e1ff"/></linearGradient>
<linearGradient id="sc32" gradientUnits="userSpaceOnUse" x1="0" y1="350.9" x2="0" y2="467.5"><stop offset="0.001" stop-color="#ff4b00"/><stop offset="0.004" stop-color="#ff5a00"/><stop offset="0.008" stop-color="#ff8c00"/><stop offset="0.011" stop-color="#ffff00"/><stop offset="0.154" stop-color="#00f03c"/><stop offset="0.629" stop-color="#00f0ff"/><stop offset="0.770" stop-color="#00e1ff"/></linearGradient>
<linearGradient id="sc33" gradientUnits="userSpaceOnUse" x1="0" y1="350.9" x2="0" y2="467.5"><stop offset="0.001" stop-color="#ff4b00"/><stop offset="0.004" stop-color="#ff5a00"/><stop offset="0.008" stop-color="#ff8c00"/><stop offset="0.011" stop-color="#ffff00"/><stop offset="0.203" stop-color="#00f03c"/><stop offset="0.652" stop-color="#00f0ff"/><stop offset="0.795" stop-color="#00e1ff"/></linearGradient>
<linearGradient id="sc34" gradientUnits="userSpaceOnUse" x1="0" y1="350.9" x2="0" y2="467.5"><stop offset="0.001" stop-color="#ff4b00"/><stop offset="0.004" stop-color="#ff5a00"/><stop offset="0.008" stop-color="#ff8c00"/><stop offset="0.011" stop-color="#ffff00"/><stop offset="0.248" stop-color="#00f03c"/><stop offset="0.673" stop-color="#00f0ff"/><stop offset="0.818" stop-color="#00e1ff"/></linearGradient>
<linearGradient id="sc35" gradientUnits="userSpaceOnUse" x1="0" y1="350.9" x2="0" y2="467.5"><stop offset="0.001" stop-color="#ff4b00"/><stop offset="0.004" stop-color="#ff5a00"/><stop offset="0.008" stop-color="#ff8c00"/><stop offset="0.011" stop-color="#ffff00"/><stop offset="0.290" stop-color="#00f03c"/><stop offset="0.693" stop-color="#00f0ff"/><stop offset="0.840" stop-color="#00e1ff"/></linearGradient>
<linearGradient id="sc36" gradientUnits="userSpaceOnUse" x1="0" y1="350.9" x2="0" y2="467.5"><stop offset="0.001" stop-color="#ff4b00"/><stop offset="0.004" stop-color="#ff5a00"/><stop offset="0.008" stop-color="#ff8c00"/><stop offset="0.011" stop-color="#ffff00"/><stop offset="0.330" stop-color="#00f03c"/><stop offset="0.711" stop-color="#00f0ff"/><stop offset="0.860" stop-color="#00e1ff"/></linearGradient>
<linearGradient id="sc37" gradientUnits="userSpaceOnUse" x1="0" y1="350.9" x2="0" y2="467.5"><stop offset="0.001" stop-color="#ff4b00"/><stop offset="0.004" stop-color="#ff5a00"/><stop offset="0.008" stop-color="#ff8c00"/><stop offset="0.011" stop-color="#ffff00"/><stop offset="0.366" stop-color="#00f03c"/><stop offset="0.729" stop-color="#00f0ff"/><stop offset="0.879" stop-color="#00e1ff"/></linearGradient>
<linearGradient id="sc38" gradientUnits="userSpaceOnUse" x1="0" y1="350.9" x2="0" y2="467.5"><stop offset="0.001" stop-color="#ff4b00"/><stop offset="0.004" stop-color="#ff5a00"/><stop offset="0.008" stop-color="#ff8c00"/><stop offset="0.011" stop-color="#ffff00"/><stop offset="0.400" stop-color="#00f03c"/><stop offset="0.744" stop-color="#00f0ff"/><stop offset="0.896" stop-color="#00e1ff"/></linearGradient>
<linearGradient id="sc39" gradientUnits="userSpaceOnUse" x1="0" y1="350.9" x2="0" y2="467.5"><stop offset="0.001" stop-color="#ff4b00"/><stop offset="0.004" stop-color="#ff5a00"/><stop offset="0.008" stop-color="#ff8c00"/><stop offset="0.011" stop-color="#ffff00"/><stop offset="0.431" stop-color="#00f03c"/><stop offset="0.759" stop-color="#00f0ff"/><stop offset="0.912" stop-color="#00e1ff"/></linearGradient>
<linearGradient id="sc310" gradientUnits="userSpaceOnUse" x1="0" y1="350.9" x2="0" y2="467.5"><stop offset="0.001" stop-color="#ff4b00"/><stop offset="0.004" stop-color="#ff5a00"/><stop offset="0.008" stop-color="#ff8c00"/><stop offset="0.021" stop-color="#ffff00"/><stop offset="0.460" stop-color="#00f03c"/><stop offset="0.772" stop-color="#00f0ff"/><stop offset="0.927" stop-color="#00e1ff"/></linearGradient>
<linearGradient id="sc311" gradientUnits="userSpaceOnUse" x1="0" y1="350.9" x2="0" y2="467.5"><stop offset="0.001" stop-color="#ff4b00"/><stop offset="0.004" stop-color="#ff5a00"/><stop offset="0.008" stop-color="#ff8c00"/><stop offset="0.081" stop-color="#ffff00"/><stop offset="0.486" stop-color="#00f03c"/><stop offset="0.785" stop-color="#00f0ff"/><stop offset="0.940" stop-color="#00e1ff"/></linearGradient>
<linearGradient id="sc312" gradientUnits="userSpaceOnUse" x1="0" y1="350.9" x2="0" y2="467.5"><stop offset="0.001" stop-color="#ff4b00"/><stop offset="0.004" stop-color="#ff5a00"/><stop offset="0.008" stop-color="#ff8c00"/><stop offset="0.136" stop-color="#ffff00"/><stop offset="0.510" stop-color="#00f03c"/><stop offset="0.796" stop-color="#00f0ff"/><stop offset="0.953" stop-color="#00e1ff"/></linearGradient>
<linearGradient id="sc313" gradientUnits="userSpaceOnUse" x1="0" y1="350.9" x2="0" y2="467.5"><stop offset="0.001" stop-color="#ff4b00"/><stop offset="0.004" stop-color="#ff5a00"/><stop offset="0.008" stop-color="#ff8c00"/><stop offset="0.186" stop-color="#ffff00"/><stop offset="0.531" stop-color="#00f03c"/><stop offset="0.806" stop-color="#00f0ff"/><stop offset="0.964" stop-color="#00e1ff"/></linearGradient>
<linearGradient id="sc314" gradientUnits="userSpaceOnUse" x1="0" y1="350.9" x2="0" y2="467.5"><stop offset="0.001" stop-color="#ff4b00"/><stop offset="0.004" stop-color="#ff5a00"/><stop offset="0.036" stop-color="#ff8c00"/><stop offset="0.230" stop-color="#ffff00"/><stop offset="0.550" stop-color="#00f03c"/><stop offset="0.815" stop-color="#00f0ff"/><stop offset="0.973" stop-color="#00e1ff"/></linearGradient>
<linearGradient id="sc315" gradientUnits="userSpaceOnUse" x1="0" y1="350.9" x2="0" y2="467.5"><stop offset="0.001" stop-color="#ff4b00"/><stop offset="0.004" stop-color="#ff5a00"/><stop offset="0.069" stop-color="#ff8c00"/><stop offset="0.269" stop-color="#ffff00"/><stop offset="0.567" stop-color="#00f03c"/><stop offset="0.823" stop-color="#00f0ff"/><stop offset="0.982" stop-color="#00e1ff"/></linearGradient>
<linearGradient id="sc316" gradientUnits="userSpaceOnUse" x1="0" y1="350.9" x2="0" y2="467.5"><stop offset="0.001" stop-color="#ff4b00"/><stop offset="0.004" stop-color="#ff5a00"/><stop offset="0.097" stop-color="#ff8c00"/><stop offset="0.304" stop-color="#ffff00"/><stop offset="0.582" stop-color="#00f03c"/><stop offset="0.830" stop-color="#00f0ff"/><stop offset="0.990" stop-color="#00e1ff"/></linearGradient>
<linearGradient id="sc317" gradientUnits="userSpaceOnUse" x1="0" y1="350.9" x2="0" y2="467.5"><stop offset="0.001" stop-color="#ff4b00"/><stop offset="0.004" stop-color="#ff5a00"/><stop offset="0.122" stop-color="#ff8c00"/><stop offset="0.334" stop-color="#ffff00"/><stop offset="0.595" stop-color="#00f03c"/><stop offset="0.836" stop-color="#00f0ff"/><stop offset="0.996" stop-color="#00e1ff"/></linearGradient>
<linearGradient id="sc318" gradientUnits="userSpaceOnUse" x1="0" y1="350.9" x2="0" y2="467.5"><stop offset="0.001" stop-color="#ff4b00"/><stop offset="0.004" stop-color="#ff5a00"/><stop offset="0.143" stop-color="#ff8c00"/><stop offset="0.360" stop-color="#ffff00"/><stop offset="0.606" stop-color="#00f03c"/><stop offset="0.841" stop-color="#00f0ff"/><stop offset="1.000" stop-color="#00e1ff"/></linearGradient>
<linearGradient id="sc319" gradientUnits="userSpaceOnUse" x1="0" y1="350.9" x2="0" y2="467.5"><stop offset="0.001" stop-color="#ff4b00"/><stop offset="0.004" stop-color="#ff5a00"/><stop offset="0.161" stop-color="#ff8c00"/><stop offset="0.382" stop-color="#ffff00"/><stop offset="0.616" stop-color="#00f03c"/><stop offset="0.845" stop-color="#00f0ff"/><stop offset="1.000" stop-color="#00e1ff"/></linearGradient>
<linearGradient id="sc320" gradientUnits="userSpaceOnUse" x1="0" y1="350.9" x2="0" y2="467.5"><stop offset="0.001" stop-color="#ff4b00"/><stop offset="0.004" stop-color="#ff5a00"/><stop offset="0.176" stop-color="#ff8c00"/><stop offset="0.400" stop-color="#ffff00"/><stop offset="0.624" stop-color="#00f03c"/><stop offset="0.849" stop-color="#00f0ff"/><stop offset="1.000" stop-color="#00e1ff"/></linearGradient>
<linearGradient id="sc321" gradientUnits="userSpaceOnUse" x1="0" y1="350.9" x2="0" y2="467.5"><stop offset="0.001" stop-color="#ff4b00"/><stop offset="0.013" stop-color="#ff5a00"/><stop offset="0.188" stop-color="#ff8c00"/><stop offset="0.414" stop-color="#ffff00"/><stop offset="0.630" stop-color="#00f03c"/><stop offset="0.852" stop-color="#00f0ff"/><stop offset="1.000" stop-color="#00e1ff"/></linearGradient>
<linearGradient id="sc322" gradientUnits="userSpaceOnUse" x1="0" y1="350.9" x2="0" y2="467.5"><stop offset="0.001" stop-color="#ff4b00"/><stop offset="0.039" stop-color="#ff5a00"/><stop offset="0.198" stop-color="#ff8c00"/><stop offset="0.426" stop-color="#ffff00"/><stop offset="0.635" stop-color="#00f03c"/><stop offset="0.854" stop-color="#00f0ff"/><stop offset="1.000" stop-color="#00e1ff"/></linearGradient>
<linearGradient id="sc323" gradientUnits="userSpaceOnUse" x1="0" y1="350.9" x2="0" y2="467.5"><stop offset="0.001" stop-color="#ff4b00"/><stop offset="0.058" stop-color="#ff5a00"/><stop offset="0.205" stop-color="#ff8c00"/><stop offset="0.434" stop-color="#ffff00"/><stop offset="0.639" stop-color="#00f03c"/><stop offset="0.856" stop-color="#00f0ff"/><stop offset="1.000" stop-color="#00e1ff"/></linearGradient>
<linearGradient id="sc324" gradientUnits="userSpaceOnUse" x1="0" y1="350.9" x2="0" y2="467.5"><stop offset="0.001" stop-color="#ff4b00"/><stop offset="0.072" stop-color="#ff5a00"/><stop offset="0.210" stop-color="#ff8c00"/><stop offset="0.440" stop-color="#ffff00"/><stop offset="0.641" stop-color="#00f03c"/><stop offset="0.857" stop-color="#00f0ff"/><stop offset="1.000" stop-color="#00e1ff"/></linearGradient>
<linearGradient id="sc325" gradientUnits="userSpaceOnUse" x1="0" y1="350.9" x2="0" y2="467.5"><stop offset="0.001" stop-color="#ff4b00"/><stop offset="0.080" stop-color="#ff5a00"/><stop offset="0.213" stop-color="#ff8c00"/><stop offset="0.444" stop-color="#ffff00"/><stop offset="0.643" stop-color="#00f03c"/><stop offset="0.858" stop-color="#00f0ff"/><stop offset="1.000" stop-color="#00e1ff"/></linearGradient>
<linearGradient id="sc326" gradientUnits="userSpaceOnUse" x1="0" y1="350.9" x2="0" y2="467.5"><stop offset="0.001" stop-color="#ff4b00"/><stop offset="0.085" stop-color="#ff5a00"/><stop offset="0.215" stop-color="#ff8c00"/><stop offset="0.446" stop-color="#ffff00"/><stop offset="0.644" stop-color="#00f03c"/><stop offset="0.858" stop-color="#00f0ff"/><stop offset="1.000" stop-color="#00e1ff"/></linearGradient>
<linearGradient id="sc327" gradientUnits="userSpaceOnUse" x1="0" y1="350.9" x2="0" y2="467.5"><stop offset="0.001" stop-color="#ff4b00"/><stop offset="0.087" stop-color="#ff5a00"/><stop offset="0.215" stop-color="#ff8c00"/><stop offset="0.447" stop-color="#ffff00"/><stop offset="0.644" stop-color="#00f03c"/><stop offset="0.858" stop-color="#00f0ff"/><stop offset="1.000" stop-color="#00e1ff"/></linearGradient>
<linearGradient id="sc328" gradientUnits="userSpaceOnUse" x1="0" y1="350.9" x2="0" y2="467.5"><stop offset="0.001" stop-color="#ff4b00"/><stop offset="0.087" stop-color="#ff5a00"/><stop offset="0.215" stop-color="#ff8c00"/><stop offset="0.447" stop-color="#ffff00"/><stop offset="0.644" stop-color="#00f03c"/><stop offset="0.858" stop-color="#00f0ff"/><stop offset="1.000" stop-color="#00e1ff"/></linearGradient>
<linearGradient id="sc329" gradientUnits="userSpaceOnUse" x1="0" y1="350.9" x2="0" y2="467.5"><stop offset="0.001" stop-color="#ff4b00"/><stop offset="0.085" stop-color="#ff5a00"/><stop offset="0.215" stop-color="#ff8c00"/><stop offset="0.446" stop-color="#ffff00"/><stop offset="0.644" stop-color="#00f03c"/><stop offset="0.858" stop-color="#00f0ff"/><stop offset="1.000" stop-color="#00e1ff"/></linearGradient>
<linearGradient id="sc330" gradientUnits="userSpaceOnUse" x1="0" y1="350.9" x2="0" y2="467.5"><stop offset="0.001" stop-color="#ff4b00"/><stop offset="0.081" stop-color="#ff5a00"/><stop offset="0.215" stop-color="#ff8c00"/><stop offset="0.445" stop-color="#ffff00"/><stop offset="0.643" stop-color="#00f03c"/><stop offset="0.858" stop-color="#00f0ff"/><stop offset="1.000" stop-color="#00e1ff"/></linearGradient>
<linearGradient id="sc331" gradientUnits="userSpaceOnUse" x1="0" y1="350.9" x2="0" y2="467.5"><stop offset="0.001" stop-color="#ff4b00"/><stop offset="0.073" stop-color="#ff5a00"/><stop offset="0.214" stop-color="#ff8c00"/><stop offset="0.443" stop-color="#ffff00"/><stop offset="0.641" stop-color="#00f03c"/><stop offset="0.856" stop-color="#00f0ff"/><stop offset="1.000" stop-color="#00e1ff"/></linearGradient>
<linearGradient id="sc332" gradientUnits="userSpaceOnUse" x1="0" y1="350.9" x2="0" y2="467.5"><stop offset="0.001" stop-color="#ff4b00"/><stop offset="0.061" stop-color="#ff5a00"/><stop offset="0.212" stop-color="#ff8c00"/><stop offset="0.440" stop-color="#ffff00"/><stop offset="0.638" stop-color="#00f03c"/><stop offset="0.855" stop-color="#00f0ff"/><stop offset="1.000" stop-color="#00e1ff"/></linearGradient>
<linearGradient id="sc333" gradientUnits="userSpaceOnUse" x1="0" y1="350.9" x2="0" y2="467.5"><stop offset="0.001" stop-color="#ff4b00"/><stop offset="0.043" stop-color="#ff5a00"/><stop offset="0.210" stop-color="#ff8c00"/><stop offset="0.435" stop-color="#ffff00"/><stop offset="0.634" stop-color="#00f03c"/><stop offset="0.852" stop-color="#00f0ff"/><stop offset="1.000" stop-color="#00e1ff"/></linearGradient>
<linearGradient id="sc334" gradientUnits="userSpaceOnUse" x1="0" y1="350.9" x2="0" y2="467.5"><stop offset="0.001" stop-color="#ff4b00"/><stop offset="0.019" stop-color="#ff5a00"/><stop offset="0.207" stop-color="#ff8c00"/><stop offset="0.429" stop-color="#ffff00"/><stop offset="0.628" stop-color="#00f03c"/><stop offset="0.848" stop-color="#00f0ff"/><stop offset="1.000" stop-color="#00e1ff"/></linearGradient>
<linearGradient id="sc335" gradientUnits="userSpaceOnUse" x1="0" y1="350.9" x2="0" y2="467.5"><stop offset="0.001" stop-color="#ff4b00"/><stop offset="0.004" stop-color="#ff5a00"/><stop offset="0.203" stop-color="#ff8c00"/><stop offset="0.420" stop-color="#ffff00"/><stop offset="0.621" stop-color="#00f03c"/><stop offset="0.844" stop-color="#00f0ff"/><stop offset="1.000" stop-color="#00e1ff"/></linearGradient>
<linearGradient id="sc336" gradientUnits="userSpaceOnUse" x1="0" y1="350.9" x2="0" y2="467.5"><stop offset="0.001" stop-color="#ff4b00"/><stop offset="0.004" stop-color="#ff5a00"/><stop offset="0.199" stop-color="#ff8c00"/><stop offset="0.410" stop-color="#ffff00"/><stop offset="0.612" stop-color="#00f03c"/><stop offset="0.838" stop-color="#00f0ff"/><stop offset="0.996" stop-color="#00e1ff"/></linearGradient>
<linearGradient id="sc337" gradientUnits="userSpaceOnUse" x1="0" y1="350.9" x2="0" y2="467.5"><stop offset="0.001" stop-color="#ff4b00"/><stop offset="0.004" stop-color="#ff5a00"/><stop offset="0.193" stop-color="#ff8c00"/><stop offset="0.398" stop-color="#ffff00"/><stop offset="0.601" stop-color="#00f03c"/><stop offset="0.831" stop-color="#00f0ff"/><stop offset="0.987" stop-color="#00e1ff"/></linearGradient>
<linearGradient id="sc338" gradientUnits="userSpaceOnUse" x1="0" y1="350.9" x2="0" y2="467.5"><stop offset="0.001" stop-color="#ff4b00"/><stop offset="0.004" stop-color="#ff5a00"/><stop offset="0.187" stop-color="#ff8c00"/><stop offset="0.384" stop-color="#ffff00"/><stop offset="0.589" stop-color="#00f03c"/><stop offset="0.823" stop-color="#00f0ff"/><stop offset="0.977" stop-color="#00e1ff"/></linearGradient>
<linearGradient id="sc339" gradientUnits="userSpaceOnUse" x1="0" y1="350.9" x2="0" y2="467.5"><stop offset="0.001" stop-color="#ff4b00"/><stop offset="0.004" stop-color="#ff5a00"/><stop offset="0.179" stop-color="#ff8c00"/><stop offset="0.367" stop-color="#ffff00"/><stop offset="0.574" stop-color="#00f03c"/><stop offset="0.814" stop-color="#00f0ff"/><stop offset="0.965" stop-color="#00e1ff"/></linearGradient>
<linearGradient id="sc340" gradientUnits="userSpaceOnUse" x1="0" y1="350.9" x2="0" y2="467.5"><stop offset="0.001" stop-color="#ff4b00"/><stop offset="0.004" stop-color="#ff5a00"/><stop offset="0.171" stop-color="#ff8c00"/><stop offset="0.347" stop-color="#ffff00"/><stop offset="0.557" stop-color="#00f03c"/><stop offset="0.803" stop-color="#00f0ff"/><stop offset="0.952" stop-color="#00e1ff"/></linearGradient>
<linearGradient id="sc341" gradientUnits="userSpaceOnUse" x1="0" y1="350.9" x2="0" y2="467.5"><stop offset="0.001" stop-color="#ff4b00"/><stop offset="0.004" stop-color="#ff5a00"/><stop offset="0.161" stop-color="#ff8c00"/><stop offset="0.325" stop-color="#ffff00"/><stop offset="0.537" stop-color="#00f03c"/><stop offset="0.791" stop-color="#00f0ff"/><stop offset="0.936" stop-color="#00e1ff"/></linearGradient>
<linearGradient id="sc342" gradientUnits="userSpaceOnUse" x1="0" y1="350.9" x2="0" y2="467.5"><stop offset="0.001" stop-color="#ff4b00"/><stop offset="0.004" stop-color="#ff5a00"/><stop offset="0.150" stop-color="#ff8c00"/><stop offset="0.300" stop-color="#ffff00"/><stop offset="0.515" stop-color="#00f03c"/><stop offset="0.777" stop-color="#00f0ff"/><stop offset="0.919" stop-color="#00e1ff"/></linearGradient>
<linearGradient id="sc343" gradientUnits="userSpaceOnUse" x1="0" y1="350.9" x2="0" y2="467.5"><stop offset="0.001" stop-color="#ff4b00"/><stop offset="0.004" stop-color="#ff5a00"/><stop offset="0.138" stop-color="#ff8c00"/><stop offset="0.273" stop-color="#ffff00"/><stop offset="0.491" stop-color="#00f03c"/><stop offset="0.762" stop-color="#00f0ff"/><stop offset="0.899" stop-color="#00e1ff"/></linearGradient>
<linearGradient id="sc344" gradientUnits="userSpaceOnUse" x1="0" y1="350.9" x2="0" y2="467.5"><stop offset="0.001" stop-color="#ff4b00"/><stop offset="0.004" stop-color="#ff5a00"/><stop offset="0.124" stop-color="#ff8c00"/><stop offset="0.242" stop-color="#ffff00"/><stop offset="0.464" stop-color="#00f03c"/><stop offset="0.745" stop-color="#00f0ff"/><stop offset="0.878" stop-color="#00e1ff"/></linearGradient>
<linearGradient id="sc345" gradientUnits="userSpaceOnUse" x1="0" y1="350.9" x2="0" y2="467.5"><stop offset="0.001" stop-color="#ff4b00"/><stop offset="0.004" stop-color="#ff5a00"/><stop offset="0.109" stop-color="#ff8c00"/><stop offset="0.208" stop-color="#ffff00"/><stop offset="0.434" stop-color="#00f03c"/><stop offset="0.726" stop-color="#00f0ff"/><stop offset="0.854" stop-color="#00e1ff"/></linearGradient>
<linearGradient id="sc346" gradientUnits="userSpaceOnUse" x1="0" y1="350.9" x2="0" y2="467.5"><stop offset="0.001" stop-color="#ff4b00"/><stop offset="0.004" stop-color="#ff5a00"/><stop offset="0.092" stop-color="#ff8c00"/><stop offset="0.171" stop-color="#ffff00"/><stop offset="0.402" stop-color="#00f03c"/><stop offset="0.706" stop-color="#00f0ff"/><stop offset="0.828" stop-color="#00e1ff"/></linearGradient>
<linearGradient id="sc347" gradientUnits="userSpaceOnUse" x1="0" y1="350.9" x2="0" y2="467.5"><stop offset="0.001" stop-color="#ff4b00"/><stop offset="0.004" stop-color="#ff5a00"/><stop offset="0.074" stop-color="#ff8c00"/><stop offset="0.130" stop-color="#ffff00"/><stop offset="0.366" stop-color="#00f03c"/><stop offset="0.683" stop-color="#00f0ff"/><stop offset="0.800" stop-color="#00e1ff"/></linearGradient>
<linearGradient id="sc348" gradientUnits="userSpaceOnUse" x1="0" y1="350.9" x2="0" y2="467.5"><stop offset="0.001" stop-color="#ff4b00"/><stop offset="0.004" stop-color="#ff5a00"/><stop offset="0.054" stop-color="#ff8c00"/><stop offset="0.086" stop-color="#ffff00"/><stop offset="0.328" stop-color="#00f03c"/><stop offset="0.659" stop-color="#00f0ff"/><stop offset="0.769" stop-color="#00e1ff"/></linearGradient>
<clipPath id="cc3"><path d="M368.4 419.3C368.8 419.1 370.1 418.5 370.9 418.1C371.8 417.8 372.6 417.4 373.4 417.0C374.2 416.6 374.9 416.2 375.7 415.7C376.5 415.3 377.2 414.9 378.0 414.5C378.7 414.1 379.4 413.6 380.2 413.2C380.9 412.8 381.6 412.3 382.3 411.9C383.0 411.4 383.7 411.0 384.3 410.5C385.0 410.1 385.7 409.6 386.3 409.1C387.0 408.6 387.6 408.2 388.2 407.7C388.9 407.2 389.5 406.7 390.1 406.2C390.7 405.7 391.4 405.2 392.0 404.6C392.6 404.1 393.2 403.6 393.8 403.1C394.3 402.5 394.9 402.0 395.5 401.4C396.1 400.9 396.7 400.3 397.2 399.7C397.8 399.2 398.4 398.6 398.9 398.0C399.5 397.4 400.1 396.8 400.6 396.2C401.2 395.6 401.7 395.0 402.3 394.3C402.8 393.7 403.4 393.1 403.9 392.4C404.5 391.8 405.0 391.1 405.6 390.4C406.1 389.7 406.7 389.1 407.2 388.4C407.8 387.7 408.3 387.0 408.9 386.3C409.4 385.6 410.0 384.9 410.5 384.1C411.1 383.4 411.6 382.7 412.2 382.0C412.7 381.3 413.3 380.5 413.8 379.8C414.4 379.1 414.9 378.4 415.5 377.6C416.1 376.9 416.6 376.2 417.2 375.5C417.8 374.8 418.3 374.0 418.9 373.3C419.5 372.6 420.1 371.9 420.6 371.2C421.2 370.6 421.8 369.9 422.4 369.2C423.0 368.5 423.6 367.9 424.2 367.2C424.8 366.6 425.4 365.9 426.0 365.3C426.6 364.7 427.2 364.1 427.8 363.5C428.5 362.9 429.1 362.3 429.7 361.8C430.3 361.2 431.0 360.7 431.6 360.2C432.3 359.7 432.9 359.2 433.6 358.7C434.2 358.2 434.9 357.8 435.6 357.4C436.3 357.0 436.9 356.6 437.6 356.2C438.3 355.8 439.0 355.5 439.7 355.2C440.4 354.9 441.1 354.6 441.9 354.4C442.6 354.1 443.3 353.9 444.1 353.7C444.8 353.5 445.6 353.4 446.3 353.3C447.1 353.2 447.9 353.1 448.6 353.1C449.4 353.0 450.2 353.0 451.0 353.1C451.8 353.1 452.6 353.2 453.4 353.3C454.2 353.5 455.0 353.6 455.8 353.9C456.5 354.1 457.3 354.4 458.1 354.7C458.8 355.0 459.5 355.4 460.2 355.8C460.9 356.2 461.6 356.7 462.3 357.2C463.0 357.7 463.6 358.3 464.2 358.9C464.9 359.5 465.5 360.1 466.1 360.7C466.7 361.4 467.2 362.0 467.8 362.7C468.4 363.3 468.9 364.0 469.5 364.7C470.0 365.4 470.6 366.0 471.1 366.7C471.6 367.4 472.1 368.1 472.6 368.8C473.2 369.5 473.7 370.2 474.1 370.9C474.6 371.7 475.1 372.4 475.6 373.1C476.1 373.8 476.6 374.5 477.0 375.3C477.5 376.0 478.0 376.7 478.4 377.4C478.9 378.2 479.3 378.9 479.8 379.6C480.2 380.4 480.7 381.1 481.1 381.8C481.6 382.6 482.0 383.3 482.4 384.0C482.9 384.8 483.3 385.5 483.8 386.2C484.2 387.0 484.6 387.7 485.1 388.4C485.5 389.1 486.0 389.9 486.4 390.6C486.8 391.3 487.3 392.1 487.7 392.8C488.1 393.5 488.6 394.2 489.0 394.9C489.4 395.7 489.9 396.4 490.3 397.1C490.8 397.8 491.2 398.6 491.6 399.3C492.1 400.0 492.5 400.7 492.9 401.5C493.3 402.2 493.8 402.9 494.2 403.6C494.6 404.3 495.1 405.1 495.5 405.8C495.9 406.5 496.3 407.2 496.8 408.0C497.2 408.7 497.6 409.4 498.0 410.1C498.5 410.9 498.9 411.6 499.3 412.3C499.7 413.0 500.2 413.8 500.6 414.5C501.0 415.2 501.4 416.0 501.8 416.7C502.3 417.4 502.7 418.2 503.1 418.9C503.5 419.6 503.9 420.4 504.3 421.1C504.7 421.9 505.1 422.6 505.6 423.3C506.0 424.1 506.4 424.8 506.8 425.6C507.2 426.3 507.6 427.1 508.0 427.8C508.4 428.6 508.8 429.4 509.2 430.1C509.6 430.9 510.2 432.0 510.4 432.4C510.0 432.6 508.8 433.0 508.0 433.4C507.2 433.7 506.4 434.0 505.6 434.3C504.8 434.6 504.0 435.0 503.2 435.3C502.4 435.6 501.6 435.9 500.8 436.2C500.0 436.5 499.2 436.9 498.4 437.2C497.6 437.5 496.8 437.8 496.0 438.1C495.2 438.4 494.4 438.7 493.6 439.0C492.8 439.4 492.0 439.7 491.2 440.0C490.4 440.3 489.6 440.6 488.8 440.9C488.0 441.2 487.2 441.5 486.4 441.8C485.6 442.2 484.8 442.5 484.0 442.8C483.2 443.1 482.4 443.4 481.6 443.7C480.8 444.0 480.0 444.3 479.2 444.6C478.4 445.0 477.6 445.3 476.8 445.6C476.0 445.9 475.2 446.2 474.4 446.5C473.6 446.8 472.8 447.1 472.0 447.5C471.2 447.8 470.4 448.1 469.6 448.4C468.8 448.7 468.0 449.0 467.2 449.3C466.4 449.7 465.6 450.0 464.8 450.3C464.0 450.6 463.2 450.9 462.4 451.3C461.6 451.6 460.8 451.9 460.0 452.2C459.2 452.5 458.4 452.9 457.6 453.2C456.8 453.5 456.0 453.8 455.2 454.1C454.4 454.5 453.6 454.8 452.8 455.1C452.1 455.5 451.3 455.8 450.5 456.1C449.7 456.4 448.9 456.8 448.1 457.1C447.3 457.4 446.5 457.8 445.7 458.1C444.9 458.4 444.1 458.8 443.3 459.1C442.6 459.5 441.8 459.8 441.0 460.1C440.2 460.5 439.4 460.8 438.6 461.2C437.8 461.5 437.0 461.9 436.3 462.2C435.5 462.6 434.7 462.9 433.9 463.3C433.1 463.6 432.4 464.0 431.6 464.3C430.8 464.7 430.0 465.0 429.2 465.4C428.5 465.8 427.3 466.3 426.9 466.5C426.6 466.2 425.5 465.5 424.8 465.0C424.1 464.4 423.4 463.9 422.8 463.4C422.1 462.9 421.4 462.3 420.7 461.8C420.1 461.3 419.4 460.7 418.7 460.2C418.0 459.6 417.4 459.1 416.7 458.5C416.0 458.0 415.4 457.4 414.7 456.9C414.1 456.3 413.4 455.8 412.7 455.2C412.1 454.7 411.4 454.1 410.8 453.5C410.1 453.0 409.5 452.4 408.8 451.8C408.2 451.3 407.5 450.7 406.9 450.1C406.2 449.6 405.6 449.0 404.9 448.4C404.3 447.8 403.6 447.3 403.0 446.7C402.3 446.1 401.7 445.6 401.0 445.0C400.4 444.4 399.7 443.8 399.1 443.3C398.4 442.7 397.8 442.1 397.1 441.6C396.5 441.0 395.8 440.4 395.2 439.9C394.5 439.3 393.8 438.7 393.2 438.2C392.5 437.6 391.9 437.0 391.2 436.5C390.6 435.9 389.9 435.4 389.2 434.8C388.6 434.2 387.9 433.7 387.2 433.1C386.6 432.6 385.9 432.0 385.2 431.5C384.6 431.0 383.9 430.4 383.2 429.9C382.5 429.3 381.8 428.8 381.2 428.3C380.5 427.8 379.8 427.2 379.1 426.7C378.4 426.2 377.7 425.7 377.0 425.2C376.3 424.7 375.6 424.1 374.9 423.6C374.2 423.1 373.5 422.7 372.8 422.2C372.0 421.7 371.3 421.2 370.6 420.7C369.9 420.2 368.8 419.5 368.4 419.3Z"/></clipPath></defs>
<line x1="36.1" y1="101.1" x2="33.1" y2="15.4" class="g"/>
<line x1="87.3" y1="85.9" x2="87.8" y2="11.0" class="g"/>
<line x1="113.6" y1="121.7" x2="36.2" y2="101.0" class="g"/>
<line x1="78.2" y1="125.9" x2="121.0" y2="92.6" class="g"/>
<line x1="49.2" y1="94.3" x2="47.3" y2="13.4" class="g"/>
<line x1="104.0" y1="89.2" x2="105.6" y2="12.1" class="g"/>
<line x1="123.8" y1="112.0" x2="49.5" y2="94.2" class="g"/>
<line x1="57.2" y1="119.6" x2="103.2" y2="89.1" class="g"/>
<line x1="61.0" y1="88.2" x2="59.9" y2="11.5" class="g"/>
<line x1="121.6" y1="92.7" x2="124.5" y2="13.4" class="g"/>
<line x1="132.7" y1="103.7" x2="61.2" y2="88.2" class="g"/>
<line x1="38.3" y1="113.9" x2="86.8" y2="85.8" class="g"/>
<line x1="18.0" y1="38.7" x2="71.2" y2="26.5" class="g"/>
<line x1="71.2" y1="26.6" x2="143.7" y2="33.5" class="g"/>
<line x1="18.8" y1="56.9" x2="71.3" y2="41.0" class="g"/>
<line x1="71.3" y1="41.1" x2="142.8" y2="49.9" class="g"/>
<line x1="19.6" y1="74.6" x2="71.4" y2="55.2" class="g"/>
<line x1="71.4" y1="55.3" x2="142.0" y2="65.8" class="g"/>
<line x1="20.4" y1="91.9" x2="71.5" y2="69.2" class="g"/>
<line x1="71.5" y1="69.2" x2="141.2" y2="81.3" class="g"/>
<line x1="21.2" y1="108.7" x2="17.0" y2="17.8" class="e"/>
<line x1="17.0" y1="17.8" x2="71.1" y2="9.9" class="e"/>
<line x1="71.1" y1="9.9" x2="144.7" y2="14.7" class="e"/>
<line x1="71.6" y1="82.8" x2="71.1" y2="9.9" class="e"/>
<line x1="21.2" y1="108.7" x2="71.6" y2="82.8" class="e"/>
<line x1="71.6" y1="82.8" x2="140.4" y2="96.4" class="e"/>
<line x1="21.2" y1="108.7" x2="101.6" y2="133.0" class="k"/>
<line x1="101.6" y1="133.0" x2="140.4" y2="96.4" class="k"/>
<line x1="140.4" y1="96.4" x2="144.7" y2="14.7" class="k"/>
<line x1="143.7" y1="33.5" x2="146.7" y2="33.5" class="k"/>
<line x1="142.8" y1="49.9" x2="144.8" y2="49.9" class="k"/>
<line x1="142.0" y1="65.8" x2="145.0" y2="65.8" class="k"/>
<line x1="141.2" y1="81.3" x2="143.2" y2="81.3" class="k"/>
<line x1="140.4" y1="96.4" x2="143.4" y2="96.4" class="k"/>
<line x1="101.6" y1="133.0" x2="104.0" y2="134.8" class="k"/>
<line x1="113.6" y1="121.7" x2="115.2" y2="122.9" class="k"/>
<line x1="123.8" y1="112.0" x2="126.2" y2="113.8" class="k"/>
<line x1="132.7" y1="103.7" x2="134.3" y2="104.9" class="k"/>
<line x1="140.4" y1="96.4" x2="142.8" y2="98.2" class="k"/>
<line x1="101.6" y1="133.0" x2="100.2" y2="135.7" class="k"/>
<line x1="78.2" y1="125.9" x2="77.3" y2="127.7" class="k"/>
<line x1="57.2" y1="119.6" x2="55.8" y2="122.3" class="k"/>
<line x1="38.3" y1="113.9" x2="37.4" y2="115.7" class="k"/>
<line x1="21.2" y1="108.7" x2="19.8" y2="111.4" class="k"/>
<path d="M20.5 84.5C20.8 84.2 21.5 83.1 22.1 82.4C22.6 81.7 23.1 81.0 23.6 80.3C24.1 79.6 24.6 78.9 25.1 78.2C25.6 77.5 26.1 76.8 26.6 76.1C27.1 75.4 27.5 74.8 28.0 74.1C28.5 73.4 29.0 72.7 29.5 72.0C30.0 71.3 30.4 70.6 30.9 69.9C31.4 69.3 31.9 68.6 32.4 67.9C32.9 67.2 33.3 66.5 33.8 65.8C34.3 65.2 34.8 64.5 35.3 63.8C35.7 63.1 36.2 62.5 36.7 61.8C37.2 61.1 37.7 60.4 38.2 59.8C38.7 59.1 39.2 58.4 39.7 57.8C40.2 57.1 40.7 56.4 41.2 55.8C41.7 55.1 42.2 54.4 42.7 53.8C43.2 53.1 43.7 52.4 44.2 51.8C44.8 51.1 45.3 50.5 45.8 49.8C46.4 49.2 46.9 48.5 47.4 47.9C48.0 47.2 48.5 46.6 49.1 45.9C49.7 45.3 50.2 44.6 50.8 44.0C51.4 43.3 52.0 42.7 52.6 42.0C53.1 41.4 53.8 40.8 54.4 40.1C55.0 39.5 55.6 38.9 56.2 38.2C56.8 37.6 57.5 37.0 58.1 36.4C58.8 35.7 59.4 35.1 60.1 34.5C60.8 33.9 61.4 33.3 62.1 32.7C62.8 32.1 63.5 31.5 64.2 31.0C64.8 30.4 65.5 29.8 66.2 29.3C67.0 28.8 67.7 28.2 68.4 27.7C69.1 27.2 69.8 26.7 70.5 26.2C71.3 25.7 72.0 25.3 72.7 24.8C73.5 24.4 74.2 23.9 75.0 23.5C75.7 23.1 76.5 22.7 77.2 22.4C78.0 22.0 78.7 21.7 79.5 21.4C80.2 21.0 81.0 20.8 81.8 20.5C82.5 20.2 83.3 20.0 84.1 19.8C84.8 19.6 85.6 19.4 86.4 19.2C87.2 19.1 87.9 19.0 88.7 18.9C89.5 18.8 90.3 18.7 91.0 18.7C91.8 18.7 92.6 18.7 93.4 18.7C94.1 18.8 94.9 18.9 95.7 19.0C96.5 19.1 97.2 19.2 98.0 19.4C98.8 19.6 99.5 19.8 100.3 20.0C101.1 20.3 101.8 20.5 102.6 20.8C103.3 21.1 104.1 21.5 104.8 21.8C105.5 22.2 106.3 22.6 107.0 23.0C107.7 23.4 108.4 23.8 109.1 24.3C109.8 24.7 110.5 25.2 111.2 25.7C111.8 26.2 112.5 26.8 113.2 27.3C113.8 27.9 114.5 28.4 115.1 29.0C115.7 29.6 116.3 30.2 116.9 30.9C117.6 31.5 118.2 32.1 118.7 32.8C119.3 33.4 119.9 34.1 120.5 34.8C121.0 35.5 121.6 36.2 122.2 36.9C122.7 37.6 123.2 38.3 123.8 39.0C124.3 39.7 124.8 40.5 125.3 41.2C125.8 41.9 126.3 42.7 126.8 43.4C127.2 44.2 127.7 44.9 128.2 45.7C128.6 46.4 129.1 47.2 129.5 47.9C129.9 48.7 130.3 49.4 130.7 50.2C131.2 51.0 131.6 51.7 131.9 52.5C132.3 53.3 132.7 54.0 133.1 54.8C133.4 55.6 133.8 56.4 134.1 57.2C134.4 58.0 134.8 58.7 135.1 59.5C135.4 60.3 135.7 61.1 136.0 61.9C136.3 62.7 136.5 63.5 136.8 64.3C137.1 65.1 137.3 65.9 137.5 66.7C137.8 67.6 138.0 68.4 138.2 69.2C138.4 70.0 138.6 70.8 138.8 71.6C139.0 72.5 139.1 73.3 139.3 74.1C139.5 74.9 139.6 75.7 139.7 76.6C139.8 77.4 140.0 78.2 140.1 79.1C140.2 79.9 140.3 80.7 140.3 81.6C140.4 82.4 140.5 83.2 140.5 84.1C140.5 84.9 140.6 85.7 140.6 86.6C140.6 87.4 140.6 88.7 140.6 89.1C140.4 88.6 140.0 87.2 139.6 86.3C139.3 85.3 138.9 84.4 138.5 83.5C138.1 82.6 137.7 81.7 137.2 80.8C136.8 80.0 136.3 79.1 135.8 78.2C135.4 77.3 134.9 76.5 134.4 75.6C133.9 74.8 133.4 73.9 132.9 73.1C132.3 72.2 131.8 71.4 131.3 70.5C130.8 69.7 130.2 68.9 129.7 68.0C129.1 67.2 128.6 66.3 128.1 65.5C127.6 64.7 126.8 63.4 126.5 63.0C126.3 63.4 125.6 64.6 125.2 65.4C124.7 66.2 124.3 67.0 123.9 67.8C123.4 68.6 123.0 69.4 122.6 70.2C122.1 71.0 121.7 71.8 121.3 72.6C120.9 73.4 120.5 74.3 120.1 75.1C119.6 75.9 119.2 76.7 118.8 77.5C118.4 78.3 118.0 79.1 117.6 80.0C117.2 80.8 116.8 81.6 116.4 82.4C116.0 83.2 115.6 84.0 115.1 84.9C114.7 85.7 114.3 86.5 113.9 87.3C113.5 88.1 113.1 89.0 112.7 89.8C112.3 90.6 111.9 91.4 111.5 92.2C111.1 93.0 110.7 93.9 110.3 94.7C109.9 95.5 109.4 96.3 109.0 97.1C108.6 97.9 108.2 98.7 107.8 99.6C107.4 100.4 106.9 101.2 106.5 102.0C106.1 102.8 105.7 103.6 105.2 104.4C104.8 105.2 104.4 106.0 103.9 106.8C103.5 107.6 102.8 108.8 102.6 109.2C102.4 108.8 101.8 107.7 101.4 107.0C101.0 106.3 100.6 105.6 100.1 104.9C99.7 104.2 99.2 103.5 98.7 102.8C98.3 102.1 97.8 101.4 97.2 100.7C96.7 100.0 96.2 99.3 95.7 98.6C95.1 97.9 94.6 97.3 94.0 96.6C93.4 95.9 92.8 95.3 92.2 94.6C91.6 94.0 91.0 93.4 90.4 92.7C89.7 92.1 89.1 91.5 88.4 90.9C87.8 90.3 87.1 89.7 86.4 89.1C85.7 88.5 85.1 87.9 84.4 87.4C83.7 86.8 82.9 86.2 82.2 85.7C81.5 85.2 80.8 84.6 80.0 84.1C79.3 83.6 78.5 83.1 77.8 82.6C77.0 82.1 76.3 81.7 75.5 81.2C74.7 80.8 74.0 80.3 73.2 79.9C72.4 79.5 71.6 79.1 70.8 78.7C70.0 78.3 69.2 77.9 68.4 77.6C67.6 77.2 66.8 76.9 65.9 76.6C65.1 76.3 64.3 76.0 63.5 75.7C62.7 75.4 61.8 75.1 61.0 74.9C60.2 74.7 59.3 74.4 58.5 74.2C57.7 74.1 56.8 73.9 56.0 73.7C55.2 73.6 54.3 73.4 53.5 73.3C52.7 73.2 51.8 73.1 51.0 73.1C50.1 73.0 49.3 73.0 48.5 73.0C47.6 72.9 46.8 73.0 46.0 73.0C45.1 73.0 44.3 73.1 43.5 73.2C42.7 73.3 41.8 73.4 41.0 73.5C40.2 73.7 39.4 73.8 38.6 74.0C37.8 74.2 37.0 74.4 36.2 74.7C35.4 74.9 34.6 75.2 33.8 75.5C33.0 75.8 32.2 76.2 31.5 76.6C30.7 76.9 29.9 77.3 29.2 77.8C28.4 78.2 27.7 78.7 26.9 79.2C26.2 79.6 25.4 80.2 24.7 80.7C24.0 81.3 23.3 81.9 22.6 82.5C21.9 83.1 20.8 84.2 20.5 84.5Z" fill="#0000ff"/>
<text x="148.6" y="36.4" class="al" text-anchor="start">0.12</text>
<text x="147.6" y="69.0" class="al" text-anchor="start">0.00</text>
<text x="144.0" y="100.5" class="al" text-anchor="start">-0.12</text>
<text x="176.5" y="61.0" class="al ai" text-anchor="middle" transform="translate(176.5 61.0) rotate(-90.0) scale(1 1.00) translate(-176.5 -61.0)">P</text>
<text x="118.6" y="139.0" class="al ax" text-anchor="middle" transform="translate(118.6 139.0) rotate(15.0) scale(1 0.80) translate(-118.6 -139.0)">0.0</text>
<text x="142.2" y="118.4" class="al ax" text-anchor="middle" transform="translate(142.2 118.4) rotate(25.0) scale(1 0.80) translate(-142.2 -118.4)">0.5 X</text>
<text x="95.0" y="141.6" class="al" text-anchor="middle" transform="translate(95.0 141.6) rotate(-45.0) scale(1 0.75) translate(-95.0 -141.6)">0.0</text>
<text x="13.6" y="115.5" class="al" text-anchor="middle" transform="translate(13.6 115.5) rotate(-40.0) scale(1 0.75) translate(-13.6 -115.5)">1.0</text>
<text x="48.3" y="129.9" class="al" text-anchor="middle" transform="translate(48.3 129.9) rotate(-33.0) scale(1 0.75) translate(-48.3 -129.9)">Y 0.5</text>
<line x1="209.7" y1="101.1" x2="206.7" y2="15.4" class="g"/>
<line x1="260.9" y1="85.9" x2="261.4" y2="11.0" class="g"/>
<line x1="287.2" y1="121.7" x2="209.8" y2="101.0" class="g"/>
<line x1="251.8" y1="125.9" x2="294.6" y2="92.6" class="g"/>
<line x1="222.8" y1="94.3" x2="220.9" y2="13.4" class="g"/>
<line x1="277.6" y1="89.2" x2="279.2" y2="12.1" class="g"/>
<line x1="297.4" y1="112.0" x2="223.1" y2="94.2" class="g"/>
<line x1="230.8" y1="119.6" x2="276.8" y2="89.1" class="g"/>
<line x1="234.6" y1="88.2" x2="233.5" y2="11.5" class="g"/>
<line x1="295.2" y1="92.7" x2="298.1" y2="13.4" class="g"/>
<line x1="306.3" y1="103.7" x2="234.8" y2="88.2" class="g"/>
<line x1="211.9" y1="113.9" x2="260.4" y2="85.8" class="g"/>
<line x1="191.6" y1="38.7" x2="244.8" y2="26.5" class="g"/>
<line x1="244.8" y1="26.6" x2="317.3" y2="33.5" class="g"/>
<line x1="192.4" y1="56.9" x2="244.9" y2="41.0" class="g"/>
<line x1="244.9" y1="41.1" x2="316.4" y2="49.9" class="g"/>
<line x1="193.2" y1="74.6" x2="245.0" y2="55.2" class="g"/>
<line x1="245.0" y1="55.3" x2="315.6" y2="65.8" class="g"/>
<line x1="194.0" y1="91.9" x2="245.1" y2="69.2" class="g"/>
<line x1="245.1" y1="69.2" x2="314.8" y2="81.3" class="g"/>
<line x1="194.8" y1="108.7" x2="190.6" y2="17.8" class="e"/>
<line x1="190.6" y1="17.8" x2="244.7" y2="9.9" class="e"/>
<line x1="244.7" y1="9.9" x2="318.3" y2="14.7" class="e"/>
<line x1="245.2" y1="82.8" x2="244.7" y2="9.9" class="e"/>
<line x1="194.8" y1="108.7" x2="245.2" y2="82.8" class="e"/>
<line x1="245.2" y1="82.8" x2="314.0" y2="96.4" class="e"/>
<line x1="194.8" y1="108.7" x2="275.2" y2="133.0" class="k"/>
<line x1="275.2" y1="133.0" x2="314.0" y2="96.4" class="k"/>
<line x1="314.0" y1="96.4" x2="318.3" y2="14.7" class="k"/>
<line x1="317.3" y1="33.5" x2="320.3" y2="33.5" class="k"/>
<line x1="316.4" y1="49.9" x2="318.4" y2="49.9" class="k"/>
<line x1="315.6" y1="65.8" x2="318.6" y2="65.8" class="k"/>
<line x1="314.8" y1="81.3" x2="316.8" y2="81.3" class="k"/>
<line x1="314.0" y1="96.4" x2="317.0" y2="96.4" class="k"/>
<line x1="275.2" y1="133.0" x2="277.6" y2="134.8" class="k"/>
<line x1="287.2" y1="121.7" x2="288.8" y2="122.9" class="k"/>
<line x1="297.4" y1="112.0" x2="299.8" y2="113.8" class="k"/>
<line x1="306.3" y1="103.7" x2="307.9" y2="104.9" class="k"/>
<line x1="314.0" y1="96.4" x2="316.4" y2="98.2" class="k"/>
<line x1="275.2" y1="133.0" x2="273.9" y2="135.7" class="k"/>
<line x1="251.8" y1="125.9" x2="250.9" y2="127.7" class="k"/>
<line x1="230.8" y1="119.6" x2="229.4" y2="122.3" class="k"/>
<line x1="211.9" y1="113.9" x2="211.0" y2="115.7" class="k"/>
<line x1="194.8" y1="108.7" x2="193.4" y2="111.4" class="k"/>
<path d="M193.6 75.4C194.0 75.2 195.1 74.6 195.9 74.1C196.6 73.7 197.3 73.3 198.1 72.8C198.8 72.4 199.5 71.9 200.2 71.4C200.9 70.9 201.6 70.5 202.3 70.0C203.0 69.5 203.6 69.0 204.3 68.5C205.0 67.9 205.6 67.4 206.3 66.9C207.0 66.4 207.6 65.8 208.3 65.3C208.9 64.7 209.5 64.2 210.2 63.6C210.8 63.1 211.4 62.5 212.1 61.9C212.7 61.4 213.3 60.8 213.9 60.2C214.6 59.6 215.2 59.0 215.8 58.5C216.4 57.9 217.0 57.3 217.6 56.7C218.3 56.1 218.9 55.5 219.5 54.9C220.1 54.3 220.7 53.7 221.3 53.0C221.9 52.4 222.6 51.8 223.2 51.2C223.8 50.6 224.4 50.0 225.0 49.3C225.7 48.7 226.3 48.1 226.9 47.5C227.5 46.9 228.2 46.3 228.8 45.6C229.4 45.0 230.1 44.4 230.7 43.8C231.4 43.2 232.0 42.5 232.7 41.9C233.3 41.3 234.0 40.7 234.6 40.1C235.3 39.5 236.0 38.9 236.7 38.3C237.3 37.8 238.0 37.2 238.7 36.6C239.4 36.1 240.1 35.5 240.8 35.0C241.4 34.4 242.1 33.9 242.8 33.4C243.5 32.9 244.3 32.4 245.0 31.9C245.7 31.4 246.4 30.9 247.1 30.5C247.9 30.0 248.6 29.6 249.3 29.2C250.1 28.8 250.8 28.4 251.5 28.1C252.3 27.7 253.0 27.4 253.8 27.0C254.5 26.7 255.3 26.4 256.1 26.2C256.8 25.9 257.6 25.7 258.4 25.5C259.2 25.3 260.0 25.1 260.8 25.0C261.5 24.8 262.3 24.7 263.1 24.6C263.9 24.5 264.7 24.4 265.5 24.4C266.3 24.4 267.1 24.4 267.9 24.4C268.7 24.4 269.5 24.5 270.3 24.5C271.1 24.6 271.9 24.7 272.7 24.9C273.5 25.0 274.3 25.2 275.1 25.4C275.8 25.6 276.6 25.8 277.4 26.0C278.2 26.3 278.9 26.6 279.7 26.9C280.5 27.2 281.2 27.5 282.0 27.9C282.7 28.3 283.4 28.6 284.2 29.1C284.9 29.5 285.6 29.9 286.3 30.4C287.0 30.9 287.7 31.4 288.4 31.9C289.1 32.4 289.8 32.9 290.5 33.5C291.2 34.1 291.8 34.6 292.5 35.2C293.1 35.8 293.8 36.4 294.4 37.1C295.1 37.7 295.7 38.4 296.3 39.0C296.9 39.7 297.5 40.4 298.1 41.1C298.7 41.8 299.3 42.5 299.9 43.2C300.4 43.9 301.0 44.6 301.5 45.4C302.1 46.1 302.6 46.8 303.1 47.6C303.7 48.3 304.2 49.1 304.7 49.9C305.2 50.6 305.7 51.4 306.1 52.2C306.6 53.0 307.1 53.7 307.5 54.5C307.9 55.3 308.4 56.1 308.8 56.8C309.2 57.6 309.6 58.4 310.0 59.2C310.4 60.0 310.8 60.7 311.2 61.5C311.5 62.3 311.9 63.0 312.2 63.8C312.5 64.5 312.9 65.3 313.2 66.0C313.5 66.8 313.8 67.5 314.0 68.3C314.3 69.0 314.7 70.0 314.8 70.4C314.4 70.2 313.3 69.3 312.6 68.9C311.8 68.6 311.1 68.3 310.3 68.2C309.6 68.0 308.8 68.0 308.1 68.0C307.3 68.0 306.6 68.2 305.8 68.4C305.1 68.6 304.3 68.8 303.6 69.2C302.8 69.5 302.1 69.9 301.4 70.3C300.6 70.7 299.9 71.2 299.2 71.7C298.5 72.2 297.8 72.8 297.0 73.3C296.3 73.9 295.6 74.5 294.9 75.1C294.3 75.7 293.6 76.3 292.9 77.0C292.2 77.6 291.6 78.3 290.9 78.9C290.2 79.6 289.6 80.3 288.9 81.0C288.3 81.7 287.6 82.4 287.0 83.1C286.4 83.7 285.8 84.4 285.1 85.1C284.5 85.8 283.9 86.5 283.3 87.2C282.7 87.9 282.1 88.5 281.5 89.2C280.9 89.8 280.3 90.5 279.8 91.1C279.2 91.7 278.6 92.3 278.1 92.9C277.5 93.4 276.7 94.2 276.4 94.5C276.0 94.3 274.9 93.7 274.1 93.3C273.4 92.9 272.6 92.5 271.8 92.1C271.0 91.7 270.3 91.3 269.5 91.0C268.7 90.6 267.9 90.3 267.1 89.9C266.3 89.6 265.6 89.2 264.8 88.9C264.0 88.6 263.2 88.2 262.4 87.9C261.6 87.6 260.8 87.3 260.0 87.0C259.1 86.7 258.3 86.4 257.5 86.1C256.7 85.8 255.9 85.6 255.1 85.3C254.2 85.0 253.4 84.7 252.6 84.5C251.8 84.2 250.9 84.0 250.1 83.7C249.3 83.5 248.5 83.3 247.6 83.0C246.8 82.8 245.9 82.6 245.1 82.4C244.3 82.2 243.4 82.0 242.6 81.7C241.7 81.5 240.9 81.3 240.0 81.2C239.2 81.0 238.4 80.8 237.5 80.6C236.7 80.4 235.8 80.3 234.9 80.1C234.1 79.9 233.2 79.8 232.4 79.6C231.5 79.4 230.7 79.3 229.8 79.1C229.0 79.0 228.1 78.9 227.2 78.7C226.4 78.6 225.5 78.5 224.6 78.3C223.8 78.2 222.9 78.1 222.1 78.0C221.2 77.8 220.3 77.7 219.5 77.6C218.6 77.5 217.7 77.4 216.9 77.3C216.0 77.2 215.1 77.1 214.3 77.0C213.4 76.9 212.6 76.8 211.7 76.7C210.8 76.7 210.0 76.6 209.1 76.5C208.2 76.4 207.4 76.3 206.5 76.3C205.6 76.2 204.8 76.1 203.9 76.1C203.0 76.0 202.2 75.9 201.3 75.9C200.5 75.8 199.6 75.8 198.7 75.7C197.9 75.6 197.0 75.6 196.2 75.5C195.3 75.5 194.0 75.4 193.6 75.4Z" fill="#0000ff"/>
<text x="322.2" y="36.4" class="al" text-anchor="start">0.12</text>
<text x="321.2" y="69.0" class="al" text-anchor="start">0.00</text>
<text x="317.6" y="100.5" class="al" text-anchor="start">-0.12</text>
<text x="350.1" y="61.0" class="al ai" text-anchor="middle" transform="translate(350.1 61.0) rotate(-90.0) scale(1 1.00) translate(-350.1 -61.0)">P</text>
<text x="292.2" y="139.0" class="al ax" text-anchor="middle" transform="translate(292.2 139.0) rotate(15.0) scale(1 0.80) translate(-292.2 -139.0)">0.0</text>
<text x="315.8" y="118.4" class="al ax" text-anchor="middle" transform="translate(315.8 118.4) rotate(25.0) scale(1 0.80) translate(-315.8 -118.4)">0.5 X</text>
<text x="268.6" y="141.6" class="al" text-anchor="middle" transform="translate(268.6 141.6) rotate(-45.0) scale(1 0.75) translate(-268.6 -141.6)">0.0</text>
<text x="187.2" y="115.5" class="al" text-anchor="middle" transform="translate(187.2 115.5) rotate(-40.0) scale(1 0.75) translate(-187.2 -115.5)">1.0</text>
<text x="221.9" y="129.9" class="al" text-anchor="middle" transform="translate(221.9 129.9) rotate(-33.0) scale(1 0.75) translate(-221.9 -129.9)">Y 0.5</text>
<line x1="383.0" y1="101.1" x2="380.0" y2="15.4" class="g"/>
<line x1="434.2" y1="85.9" x2="434.7" y2="11.0" class="g"/>
<line x1="460.5" y1="121.7" x2="383.1" y2="101.0" class="g"/>
<line x1="425.1" y1="125.9" x2="467.9" y2="92.6" class="g"/>
<line x1="396.1" y1="94.3" x2="394.2" y2="13.4" class="g"/>
<line x1="450.9" y1="89.2" x2="452.5" y2="12.1" class="g"/>
<line x1="470.7" y1="112.0" x2="396.4" y2="94.2" class="g"/>
<line x1="404.1" y1="119.6" x2="450.1" y2="89.1" class="g"/>
<line x1="407.9" y1="88.2" x2="406.8" y2="11.5" class="g"/>
<line x1="468.5" y1="92.7" x2="471.4" y2="13.4" class="g"/>
<line x1="479.6" y1="103.7" x2="408.1" y2="88.2" class="g"/>
<line x1="385.2" y1="113.9" x2="433.7" y2="85.8" class="g"/>
<line x1="364.9" y1="38.7" x2="418.1" y2="26.5" class="g"/>
<line x1="418.1" y1="26.6" x2="490.6" y2="33.5" class="g"/>
<line x1="365.7" y1="56.9" x2="418.2" y2="41.0" class="g"/>
<line x1="418.2" y1="41.1" x2="489.7" y2="49.9" class="g"/>
<line x1="366.5" y1="74.6" x2="418.3" y2="55.2" class="g"/>
<line x1="418.3" y1="55.3" x2="488.9" y2="65.8" class="g"/>
<line x1="367.3" y1="91.9" x2="418.4" y2="69.2" class="g"/>
<line x1="418.4" y1="69.2" x2="488.1" y2="81.3" class="g"/>
<line x1="368.1" y1="108.7" x2="363.9" y2="17.8" class="e"/>
<line x1="363.9" y1="17.8" x2="418.0" y2="9.9" class="e"/>
<line x1="418.0" y1="9.9" x2="491.6" y2="14.7" class="e"/>
<line x1="418.5" y1="82.8" x2="418.0" y2="9.9" class="e"/>
<line x1="368.1" y1="108.7" x2="418.5" y2="82.8" class="e"/>
<line x1="418.5" y1="82.8" x2="487.3" y2="96.4" class="e"/>
<line x1="368.1" y1="108.7" x2="448.5" y2="133.0" class="k"/>
<line x1="448.5" y1="133.0" x2="487.3" y2="96.4" class="k"/>
<line x1="487.3" y1="96.4" x2="491.6" y2="14.7" class="k"/>
<line x1="490.6" y1="33.5" x2="493.6" y2="33.5" class="k"/>
<line x1="489.7" y1="49.9" x2="491.7" y2="49.9" class="k"/>
<line x1="488.9" y1="65.8" x2="491.9" y2="65.8" class="k"/>
<line x1="488.1" y1="81.3" x2="490.1" y2="81.3" class="k"/>
<line x1="487.3" y1="96.4" x2="490.3" y2="96.4" class="k"/>
<line x1="448.5" y1="133.0" x2="450.9" y2="134.8" class="k"/>
<line x1="460.5" y1="121.7" x2="462.1" y2="122.9" class="k"/>
<line x1="470.7" y1="112.0" x2="473.1" y2="113.8" class="k"/>
<line x1="479.6" y1="103.7" x2="481.2" y2="104.9" class="k"/>
<line x1="487.3" y1="96.4" x2="489.7" y2="98.2" class="k"/>
<line x1="448.5" y1="133.0" x2="447.2" y2="135.7" class="k"/>
<line x1="425.1" y1="125.9" x2="424.2" y2="127.7" class="k"/>
<line x1="404.1" y1="119.6" x2="402.7" y2="122.3" class="k"/>
<line x1="385.2" y1="113.9" x2="384.3" y2="115.7" class="k"/>
<line x1="368.1" y1="108.7" x2="366.8" y2="111.4" class="k"/>
<path d="M367.6 74.5C368.0 74.3 369.2 73.7 369.9 73.3C370.7 73.0 371.4 72.5 372.2 72.1C372.9 71.7 373.6 71.3 374.3 70.8C375.1 70.4 375.8 69.9 376.5 69.4C377.2 69.0 377.8 68.5 378.5 68.0C379.2 67.5 379.9 67.0 380.5 66.5C381.2 66.0 381.8 65.4 382.5 64.9C383.1 64.4 383.8 63.8 384.4 63.3C385.1 62.7 385.7 62.2 386.3 61.6C387.0 61.0 387.6 60.5 388.2 59.9C388.8 59.3 389.5 58.7 390.1 58.1C390.7 57.5 391.3 56.9 391.9 56.3C392.5 55.7 393.2 55.1 393.8 54.5C394.4 53.9 395.0 53.2 395.6 52.6C396.2 52.0 396.8 51.3 397.5 50.7C398.1 50.1 398.7 49.4 399.3 48.8C399.9 48.1 400.6 47.5 401.2 46.9C401.8 46.2 402.5 45.6 403.1 44.9C403.7 44.3 404.4 43.7 405.0 43.0C405.6 42.4 406.3 41.8 406.9 41.2C407.6 40.5 408.2 39.9 408.9 39.3C409.6 38.7 410.2 38.1 410.9 37.6C411.5 37.0 412.2 36.4 412.9 35.9C413.6 35.3 414.2 34.8 414.9 34.3C415.6 33.8 416.3 33.3 417.0 32.8C417.7 32.3 418.4 31.8 419.1 31.4C419.8 31.0 420.5 30.5 421.3 30.1C422.0 29.7 422.7 29.4 423.4 29.0C424.2 28.7 424.9 28.4 425.7 28.1C426.4 27.8 427.2 27.5 427.9 27.3C428.7 27.0 429.5 26.8 430.3 26.6C431.0 26.5 431.8 26.3 432.6 26.2C433.4 26.1 434.2 26.0 435.0 25.9C435.8 25.8 436.6 25.8 437.4 25.8C438.2 25.8 439.0 25.8 439.8 25.8C440.6 25.9 441.4 25.9 442.2 26.0C443.0 26.1 443.8 26.2 444.6 26.4C445.4 26.5 446.2 26.7 447.0 26.8C447.8 27.0 448.6 27.3 449.4 27.5C450.2 27.7 451.0 28.0 451.8 28.3C452.6 28.6 453.3 28.9 454.1 29.2C454.9 29.5 455.6 29.9 456.4 30.3C457.2 30.6 457.9 31.0 458.7 31.5C459.4 31.9 460.1 32.3 460.9 32.8C461.6 33.2 462.3 33.7 463.0 34.2C463.7 34.7 464.4 35.3 465.1 35.8C465.8 36.4 466.5 36.9 467.1 37.5C467.8 38.1 468.5 38.7 469.1 39.3C469.7 39.9 470.4 40.6 471.0 41.2C471.6 41.9 472.2 42.6 472.8 43.2C473.4 43.9 474.0 44.6 474.5 45.3C475.1 46.0 475.7 46.7 476.2 47.4C476.8 48.1 477.3 48.9 477.8 49.6C478.4 50.3 478.9 51.0 479.4 51.8C479.9 52.5 480.4 53.2 480.9 54.0C481.4 54.7 481.9 55.5 482.4 56.2C482.8 56.9 483.3 57.7 483.8 58.4C484.2 59.1 484.7 59.8 485.1 60.6C485.6 61.3 486.0 62.0 486.4 62.7C486.9 63.4 487.3 64.1 487.7 64.8C488.1 65.5 488.7 66.5 488.9 66.8C488.4 66.8 487.0 66.9 486.1 67.0C485.2 67.1 484.4 67.3 483.5 67.5C482.6 67.7 481.8 68.0 481.0 68.3C480.1 68.6 479.3 69.0 478.5 69.4C477.7 69.8 477.0 70.2 476.2 70.7C475.4 71.1 474.7 71.6 473.9 72.1C473.2 72.6 472.4 73.2 471.7 73.8C471.0 74.3 470.3 74.9 469.6 75.5C468.9 76.1 468.2 76.8 467.5 77.4C466.8 78.1 466.1 78.7 465.4 79.4C464.8 80.0 464.1 80.7 463.4 81.4C462.7 82.0 462.1 82.7 461.4 83.4C460.7 84.1 460.1 84.7 459.4 85.4C458.8 86.1 458.1 86.7 457.4 87.4C456.8 88.0 456.1 88.6 455.4 89.3C454.8 89.9 454.1 90.5 453.4 91.0C452.8 91.6 451.7 92.4 451.4 92.7C451.0 92.5 449.8 92.0 449.0 91.7C448.1 91.4 447.3 91.0 446.5 90.7C445.7 90.4 444.9 90.1 444.1 89.7C443.2 89.4 442.4 89.1 441.6 88.8C440.8 88.5 440.0 88.2 439.1 87.9C438.3 87.6 437.5 87.4 436.7 87.1C435.8 86.8 435.0 86.5 434.2 86.2C433.4 86.0 432.5 85.7 431.7 85.4C430.9 85.2 430.0 84.9 429.2 84.7C428.4 84.4 427.6 84.2 426.7 83.9C425.9 83.7 425.1 83.4 424.2 83.2C423.4 83.0 422.6 82.7 421.7 82.5C420.9 82.3 420.0 82.1 419.2 81.9C418.4 81.6 417.5 81.4 416.7 81.2C415.9 81.0 415.0 80.8 414.2 80.6C413.3 80.4 412.5 80.2 411.6 80.1C410.8 79.9 409.9 79.7 409.1 79.5C408.3 79.3 407.4 79.2 406.6 79.0C405.7 78.8 404.9 78.7 404.0 78.5C403.2 78.4 402.3 78.2 401.5 78.0C400.6 77.9 399.7 77.8 398.9 77.6C398.0 77.5 397.2 77.3 396.3 77.2C395.5 77.1 394.6 77.0 393.7 76.8C392.9 76.7 392.0 76.6 391.2 76.5C390.3 76.4 389.4 76.3 388.6 76.2C387.7 76.1 386.8 76.0 386.0 75.9C385.1 75.8 384.2 75.7 383.4 75.6C382.5 75.5 381.6 75.4 380.8 75.3C379.9 75.3 379.0 75.2 378.1 75.1C377.3 75.1 376.4 75.0 375.5 74.9C374.6 74.9 373.8 74.8 372.9 74.8C372.0 74.7 371.1 74.7 370.2 74.6C369.4 74.6 368.0 74.5 367.6 74.5Z" fill="#0000ff"/>
<text x="495.5" y="36.4" class="al" text-anchor="start">0.12</text>
<text x="494.5" y="69.0" class="al" text-anchor="start">0.00</text>
<text x="490.9" y="100.5" class="al" text-anchor="start">-0.12</text>
<text x="523.4" y="61.0" class="al ai" text-anchor="middle" transform="translate(523.4 61.0) rotate(-90.0) scale(1 1.00) translate(-523.4 -61.0)">P</text>
<text x="465.5" y="139.0" class="al ax" text-anchor="middle" transform="translate(465.5 139.0) rotate(15.0) scale(1 0.80) translate(-465.5 -139.0)">0.0</text>
<text x="489.1" y="118.4" class="al ax" text-anchor="middle" transform="translate(489.1 118.4) rotate(25.0) scale(1 0.80) translate(-489.1 -118.4)">0.5 X</text>
<text x="441.9" y="141.6" class="al" text-anchor="middle" transform="translate(441.9 141.6) rotate(-45.0) scale(1 0.75) translate(-441.9 -141.6)">0.0</text>
<text x="360.5" y="115.5" class="al" text-anchor="middle" transform="translate(360.5 115.5) rotate(-40.0) scale(1 0.75) translate(-360.5 -115.5)">1.0</text>
<text x="395.2" y="129.9" class="al" text-anchor="middle" transform="translate(395.2 129.9) rotate(-33.0) scale(1 0.75) translate(-395.2 -129.9)">Y 0.5</text>
<line x1="16.4" y1="250.0" x2="77.0" y2="301.8" class="f"/>
<line x1="77.0" y1="301.8" x2="164.5" y2="262.5" class="f"/>
<line x1="164.5" y1="262.5" x2="103.9" y2="210.7" class="f"/>
<line x1="16.4" y1="250.0" x2="103.9" y2="210.7" class="f"/>
<g clip-path="url(#cb1)"><g filter="url(#hb)"><rect x="15.0" y="177.0" width="3.6" height="128.2" fill="url(#sb10)"/><rect x="18.0" y="177.0" width="3.6" height="128.2" fill="url(#sb11)"/><rect x="21.0" y="177.0" width="3.6" height="128.2" fill="url(#sb12)"/><rect x="24.0" y="177.0" width="3.6" height="128.2" fill="url(#sb13)"/><rect x="27.0" y="177.0" width="3.6" height="128.2" fill="url(#sb14)"/><rect x="30.0" y="177.0" width="3.6" height="128.2" fill="url(#sb15)"/><rect x="33.0" y="177.0" width="3.6" height="128.2" fill="url(#sb16)"/><rect x="36.0" y="177.0" width="3.6" height="128.2" fill="url(#sb17)"/><rect x="39.0" y="177.0" width="3.6" height="128.2" fill="url(#sb18)"/><rect x="42.0" y="177.0" width="3.6" height="128.2" fill="url(#sb19)"/><rect x="45.0" y="177.0" width="3.6" height="128.2" fill="url(#sb110)"/><rect x="48.0" y="177.0" width="3.6" height="128.2" fill="url(#sb111)"/><rect x="51.0" y="177.0" width="3.6" height="128.2" fill="url(#sb112)"/><rect x="54.0" y="177.0" width="3.6" height="128.2" fill="url(#sb113)"/><rect x="57.0" y="177.0" width="3.6" height="128.2" fill="url(#sb114)"/><rect x="60.0" y="177.0" width="3.6" height="128.2" fill="url(#sb115)"/><rect x="63.0" y="177.0" width="3.6" height="128.2" fill="url(#sb116)"/><rect x="66.0" y="177.0" width="3.6" height="128.2" fill="url(#sb117)"/><rect x="69.0" y="177.0" width="3.6" height="128.2" fill="url(#sb118)"/><rect x="72.0" y="177.0" width="3.6" height="128.2" fill="url(#sb119)"/><rect x="75.0" y="177.0" width="3.6" height="128.2" fill="url(#sb120)"/><rect x="78.0" y="177.0" width="3.6" height="128.2" fill="url(#sb121)"/><rect x="81.0" y="177.0" width="3.6" height="128.2" fill="url(#sb122)"/><rect x="84.0" y="177.0" width="3.6" height="128.2" fill="url(#sb123)"/><rect x="87.0" y="177.0" width="3.6" height="128.2" fill="url(#sb124)"/><rect x="90.0" y="177.0" width="3.6" height="128.2" fill="url(#sb125)"/><rect x="93.0" y="177.0" width="3.6" height="128.2" fill="url(#sb126)"/><rect x="96.0" y="177.0" width="3.6" height="128.2" fill="url(#sb127)"/><rect x="99.0" y="177.0" width="3.6" height="128.2" fill="url(#sb128)"/><rect x="102.0" y="177.0" width="3.6" height="128.2" fill="url(#sb129)"/><rect x="105.0" y="177.0" width="3.6" height="128.2" fill="url(#sb130)"/><rect x="108.0" y="177.0" width="3.6" height="128.2" fill="url(#sb131)"/><rect x="111.0" y="177.0" width="3.6" height="128.2" fill="url(#sb132)"/><rect x="114.0" y="177.0" width="3.6" height="128.2" fill="url(#sb133)"/><rect x="117.0" y="177.0" width="3.6" height="128.2" fill="url(#sb134)"/><rect x="120.0" y="177.0" width="3.6" height="128.2" fill="url(#sb135)"/><rect x="123.0" y="177.0" width="3.6" height="128.2" fill="url(#sb136)"/><rect x="126.0" y="177.0" width="3.6" height="128.2" fill="url(#sb137)"/><rect x="129.0" y="177.0" width="3.6" height="128.2" fill="url(#sb138)"/><rect x="132.0" y="177.0" width="3.6" height="128.2" fill="url(#sb139)"/><rect x="135.0" y="177.0" width="3.6" height="128.2" fill="url(#sb140)"/><rect x="138.0" y="177.0" width="3.6" height="128.2" fill="url(#sb141)"/><rect x="141.0" y="177.0" width="3.6" height="128.2" fill="url(#sb142)"/><rect x="144.0" y="177.0" width="3.6" height="128.2" fill="url(#sb143)"/><rect x="147.0" y="177.0" width="3.6" height="128.2" fill="url(#sb144)"/><rect x="150.0" y="177.0" width="3.6" height="128.2" fill="url(#sb145)"/><rect x="153.0" y="177.0" width="3.6" height="128.2" fill="url(#sb146)"/><rect x="156.0" y="177.0" width="3.6" height="128.2" fill="url(#sb147)"/><rect x="159.0" y="177.0" width="3.6" height="128.2" fill="url(#sb148)"/></g></g>
<line x1="77.0" y1="301.8" x2="73.4" y2="304.0" class="t"/>
<line x1="77.0" y1="301.8" x2="80.6" y2="304.4" class="t"/>
<line x1="46.7" y1="275.9" x2="43.1" y2="278.1" class="t"/>
<line x1="120.8" y1="282.1" x2="124.3" y2="284.8" class="t"/>
<line x1="16.4" y1="250.0" x2="12.8" y2="252.2" class="t"/>
<line x1="164.5" y1="262.5" x2="168.1" y2="265.1" class="t"/>
<text x="10.5" y="267.9" class="sl">1</text>
<text x="42.7" y="292.1" class="sl">0.5</text>
<text x="38.5" y="306.1" class="sl si">Y</text>
<text x="78.2" y="317.0" class="sl">0</text>
<text x="128.0" y="297.8" class="sl">0.5</text>
<text x="127.5" y="313.0" class="sl si">X</text>
<text x="169.4" y="279.0" class="sl">1</text>
<text x="135.7" y="203.1" class="pm">0.1490</text>
<text x="135.9" y="188.6" class="pm pi">P</text>
<text x="142.9" y="191.8" class="ps">m ax</text>
<text x="159.5" y="188.7" class="pm">:</text>
<line x1="182.5" y1="252.0" x2="244.0" y2="300.5" class="f"/>
<line x1="244.0" y1="300.5" x2="331.0" y2="264.5" class="f"/>
<line x1="331.0" y1="264.5" x2="269.5" y2="216.0" class="f"/>
<line x1="182.5" y1="252.0" x2="269.5" y2="216.0" class="f"/>
<g clip-path="url(#cb2)"><g filter="url(#hb)"><rect x="182.0" y="181.8" width="3.6" height="118.1" fill="url(#sb20)"/><rect x="185.0" y="181.8" width="3.6" height="118.1" fill="url(#sb21)"/><rect x="188.0" y="181.8" width="3.6" height="118.1" fill="url(#sb22)"/><rect x="191.0" y="181.8" width="3.6" height="118.1" fill="url(#sb23)"/><rect x="194.0" y="181.8" width="3.6" height="118.1" fill="url(#sb24)"/><rect x="197.0" y="181.8" width="3.6" height="118.1" fill="url(#sb25)"/><rect x="200.0" y="181.8" width="3.6" height="118.1" fill="url(#sb26)"/><rect x="203.0" y="181.8" width="3.6" height="118.1" fill="url(#sb27)"/><rect x="206.0" y="181.8" width="3.6" height="118.1" fill="url(#sb28)"/><rect x="209.0" y="181.8" width="3.6" height="118.1" fill="url(#sb29)"/><rect x="212.0" y="181.8" width="3.6" height="118.1" fill="url(#sb210)"/><rect x="215.0" y="181.8" width="3.6" height="118.1" fill="url(#sb211)"/><rect x="218.0" y="181.8" width="3.6" height="118.1" fill="url(#sb212)"/><rect x="221.0" y="181.8" width="3.6" height="118.1" fill="url(#sb213)"/><rect x="224.0" y="181.8" width="3.6" height="118.1" fill="url(#sb214)"/><rect x="227.0" y="181.8" width="3.6" height="118.1" fill="url(#sb215)"/><rect x="230.0" y="181.8" width="3.6" height="118.1" fill="url(#sb216)"/><rect x="233.0" y="181.8" width="3.6" height="118.1" fill="url(#sb217)"/><rect x="236.0" y="181.8" width="3.6" height="118.1" fill="url(#sb218)"/><rect x="239.0" y="181.8" width="3.6" height="118.1" fill="url(#sb219)"/><rect x="242.0" y="181.8" width="3.6" height="118.1" fill="url(#sb220)"/><rect x="245.0" y="181.8" width="3.6" height="118.1" fill="url(#sb221)"/><rect x="248.0" y="181.8" width="3.6" height="118.1" fill="url(#sb222)"/><rect x="251.0" y="181.8" width="3.6" height="118.1" fill="url(#sb223)"/><rect x="254.0" y="181.8" width="3.6" height="118.1" fill="url(#sb224)"/><rect x="257.0" y="181.8" width="3.6" height="118.1" fill="url(#sb225)"/><rect x="260.0" y="181.8" width="3.6" height="118.1" fill="url(#sb226)"/><rect x="263.0" y="181.8" width="3.6" height="118.1" fill="url(#sb227)"/><rect x="266.0" y="181.8" width="3.6" height="118.1" fill="url(#sb228)"/><rect x="269.0" y="181.8" width="3.6" height="118.1" fill="url(#sb229)"/><rect x="272.0" y="181.8" width="3.6" height="118.1" fill="url(#sb230)"/><rect x="275.0" y="181.8" width="3.6" height="118.1" fill="url(#sb231)"/><rect x="278.0" y="181.8" width="3.6" height="118.1" fill="url(#sb232)"/><rect x="281.0" y="181.8" width="3.6" height="118.1" fill="url(#sb233)"/><rect x="284.0" y="181.8" width="3.6" height="118.1" fill="url(#sb234)"/><rect x="287.0" y="181.8" width="3.6" height="118.1" fill="url(#sb235)"/><rect x="290.0" y="181.8" width="3.6" height="118.1" fill="url(#sb236)"/><rect x="293.0" y="181.8" width="3.6" height="118.1" fill="url(#sb237)"/><rect x="296.0" y="181.8" width="3.6" height="118.1" fill="url(#sb238)"/><rect x="299.0" y="181.8" width="3.6" height="118.1" fill="url(#sb239)"/><rect x="302.0" y="181.8" width="3.6" height="118.1" fill="url(#sb240)"/><rect x="305.0" y="181.8" width="3.6" height="118.1" fill="url(#sb241)"/><rect x="308.0" y="181.8" width="3.6" height="118.1" fill="url(#sb242)"/><rect x="311.0" y="181.8" width="3.6" height="118.1" fill="url(#sb243)"/><rect x="314.0" y="181.8" width="3.6" height="118.1" fill="url(#sb244)"/><rect x="317.0" y="181.8" width="3.6" height="118.1" fill="url(#sb245)"/><rect x="320.0" y="181.8" width="3.6" height="118.1" fill="url(#sb246)"/><rect x="323.0" y="181.8" width="3.6" height="118.1" fill="url(#sb247)"/><rect x="326.0" y="181.8" width="3.6" height="118.1" fill="url(#sb248)"/></g></g>
<line x1="244.0" y1="300.5" x2="240.4" y2="302.7" class="t"/>
<line x1="244.0" y1="300.5" x2="247.6" y2="303.1" class="t"/>
<line x1="213.2" y1="276.2" x2="209.7" y2="278.4" class="t"/>
<line x1="287.5" y1="282.5" x2="291.1" y2="285.1" class="t"/>
<line x1="182.5" y1="252.0" x2="178.9" y2="254.2" class="t"/>
<line x1="331.0" y1="264.5" x2="334.6" y2="267.1" class="t"/>
<text x="176.9" y="268.0" class="sl">1</text>
<text x="209.6" y="291.8" class="sl">0.5</text>
<text x="205.6" y="306.6" class="sl si">Y</text>
<text x="245.0" y="315.8" class="sl">0</text>
<text x="295.3" y="297.2" class="sl">0.5</text>
<text x="293.2" y="313.0" class="sl si">X</text>
<text x="331.8" y="279.0" class="sl">1</text>
<text x="295.2" y="203.1" class="pm">0.1446</text>
<text x="295.4" y="188.6" class="pm pi">P</text>
<text x="302.4" y="191.8" class="ps">m ax</text>
<text x="319.0" y="188.7" class="pm">:</text>
<line x1="349.0" y1="251.5" x2="410.8" y2="300.2" class="f"/>
<line x1="410.8" y1="300.2" x2="498.0" y2="263.5" class="f"/>
<line x1="498.0" y1="263.5" x2="436.2" y2="214.8" class="f"/>
<line x1="349.0" y1="251.5" x2="436.2" y2="214.8" class="f"/>
<g clip-path="url(#cb3)"><g filter="url(#hb)"><rect x="348.0" y="180.3" width="3.6" height="120.9" fill="url(#sb30)"/><rect x="351.0" y="180.3" width="3.6" height="120.9" fill="url(#sb31)"/><rect x="354.0" y="180.3" width="3.6" height="120.9" fill="url(#sb32)"/><rect x="357.0" y="180.3" width="3.6" height="120.9" fill="url(#sb33)"/><rect x="360.0" y="180.3" width="3.6" height="120.9" fill="url(#sb34)"/><rect x="363.0" y="180.3" width="3.6" height="120.9" fill="url(#sb35)"/><rect x="366.0" y="180.3" width="3.6" height="120.9" fill="url(#sb36)"/><rect x="369.0" y="180.3" width="3.6" height="120.9" fill="url(#sb37)"/><rect x="372.0" y="180.3" width="3.6" height="120.9" fill="url(#sb38)"/><rect x="375.0" y="180.3" width="3.6" height="120.9" fill="url(#sb39)"/><rect x="378.0" y="180.3" width="3.6" height="120.9" fill="url(#sb310)"/><rect x="381.0" y="180.3" width="3.6" height="120.9" fill="url(#sb311)"/><rect x="384.0" y="180.3" width="3.6" height="120.9" fill="url(#sb312)"/><rect x="387.0" y="180.3" width="3.6" height="120.9" fill="url(#sb313)"/><rect x="390.0" y="180.3" width="3.6" height="120.9" fill="url(#sb314)"/><rect x="393.0" y="180.3" width="3.6" height="120.9" fill="url(#sb315)"/><rect x="396.0" y="180.3" width="3.6" height="120.9" fill="url(#sb316)"/><rect x="399.0" y="180.3" width="3.6" height="120.9" fill="url(#sb317)"/><rect x="402.0" y="180.3" width="3.6" height="120.9" fill="url(#sb318)"/><rect x="405.0" y="180.3" width="3.6" height="120.9" fill="url(#sb319)"/><rect x="408.0" y="180.3" width="3.6" height="120.9" fill="url(#sb320)"/><rect x="411.0" y="180.3" width="3.6" height="120.9" fill="url(#sb321)"/><rect x="414.0" y="180.3" width="3.6" height="120.9" fill="url(#sb322)"/><rect x="417.0" y="180.3" width="3.6" height="120.9" fill="url(#sb323)"/><rect x="420.0" y="180.3" width="3.6" height="120.9" fill="url(#sb324)"/><rect x="423.0" y="180.3" width="3.6" height="120.9" fill="url(#sb325)"/><rect x="426.0" y="180.3" width="3.6" height="120.9" fill="url(#sb326)"/><rect x="429.0" y="180.3" width="3.6" height="120.9" fill="url(#sb327)"/><rect x="432.0" y="180.3" width="3.6" height="120.9" fill="url(#sb328)"/><rect x="435.0" y="180.3" width="3.6" height="120.9" fill="url(#sb329)"/><rect x="438.0" y="180.3" width="3.6" height="120.9" fill="url(#sb330)"/><rect x="441.0" y="180.3" width="3.6" height="120.9" fill="url(#sb331)"/><rect x="444.0" y="180.3" width="3.6" height="120.9" fill="url(#sb332)"/><rect x="447.0" y="180.3" width="3.6" height="120.9" fill="url(#sb333)"/><rect x="450.0" y="180.3" width="3.6" height="120.9" fill="url(#sb334)"/><rect x="453.0" y="180.3" width="3.6" height="120.9" fill="url(#sb335)"/><rect x="456.0" y="180.3" width="3.6" height="120.9" fill="url(#sb336)"/><rect x="459.0" y="180.3" width="3.6" height="120.9" fill="url(#sb337)"/><rect x="462.0" y="180.3" width="3.6" height="120.9" fill="url(#sb338)"/><rect x="465.0" y="180.3" width="3.6" height="120.9" fill="url(#sb339)"/><rect x="468.0" y="180.3" width="3.6" height="120.9" fill="url(#sb340)"/><rect x="471.0" y="180.3" width="3.6" height="120.9" fill="url(#sb341)"/><rect x="474.0" y="180.3" width="3.6" height="120.9" fill="url(#sb342)"/><rect x="477.0" y="180.3" width="3.6" height="120.9" fill="url(#sb343)"/><rect x="480.0" y="180.3" width="3.6" height="120.9" fill="url(#sb344)"/><rect x="483.0" y="180.3" width="3.6" height="120.9" fill="url(#sb345)"/><rect x="486.0" y="180.3" width="3.6" height="120.9" fill="url(#sb346)"/><rect x="489.0" y="180.3" width="3.6" height="120.9" fill="url(#sb347)"/><rect x="492.0" y="180.3" width="3.6" height="120.9" fill="url(#sb348)"/><rect x="495.0" y="180.3" width="3.6" height="120.9" fill="url(#sb349)"/><rect x="498.0" y="180.3" width="3.6" height="120.9" fill="url(#sb350)"/></g></g>
<line x1="410.8" y1="300.2" x2="407.2" y2="302.4" class="t"/>
<line x1="410.8" y1="300.2" x2="414.4" y2="302.8" class="t"/>
<line x1="379.9" y1="275.9" x2="376.3" y2="278.1" class="t"/>
<line x1="454.4" y1="281.9" x2="458.0" y2="284.5" class="t"/>
<line x1="349.0" y1="251.5" x2="345.4" y2="253.7" class="t"/>
<line x1="498.0" y1="263.5" x2="501.6" y2="266.1" class="t"/>
<text x="344.1" y="267.2" class="sl">1</text>
<text x="376.4" y="292.2" class="sl">0.5</text>
<text x="371.1" y="306.5" class="sl si">Y</text>
<text x="411.2" y="316.3" class="sl">0</text>
<text x="461.4" y="298.7" class="sl">0.5</text>
<text x="460.9" y="313.9" class="sl si">X</text>
<text x="501.8" y="279.5" class="sl">1</text>
<text x="465.3" y="203.6" class="pm">0.1440</text>
<text x="465.5" y="189.1" class="pm pi">P</text>
<text x="472.5" y="192.3" class="ps">m ax</text>
<text x="489.1" y="189.2" class="pm">:</text>
<line x1="15.2" y1="418.8" x2="74.5" y2="466.5" class="f"/>
<line x1="74.5" y1="466.5" x2="159.7" y2="430.5" class="f"/>
<line x1="159.7" y1="430.5" x2="100.4" y2="382.8" class="f"/>
<line x1="15.2" y1="418.8" x2="100.4" y2="382.8" class="f"/>
<g clip-path="url(#cc1)"><g filter="url(#hb)"><rect x="15.0" y="346.1" width="3.6" height="137.7" fill="url(#sc10)"/><rect x="18.0" y="346.1" width="3.6" height="137.7" fill="url(#sc11)"/><rect x="21.0" y="346.1" width="3.6" height="137.7" fill="url(#sc12)"/><rect x="24.0" y="346.1" width="3.6" height="137.7" fill="url(#sc13)"/><rect x="27.0" y="346.1" width="3.6" height="137.7" fill="url(#sc14)"/><rect x="30.0" y="346.1" width="3.6" height="137.7" fill="url(#sc15)"/><rect x="33.0" y="346.1" width="3.6" height="137.7" fill="url(#sc16)"/><rect x="36.0" y="346.1" width="3.6" height="137.7" fill="url(#sc17)"/><rect x="39.0" y="346.1" width="3.6" height="137.7" fill="url(#sc18)"/><rect x="42.0" y="346.1" width="3.6" height="137.7" fill="url(#sc19)"/><rect x="45.0" y="346.1" width="3.6" height="137.7" fill="url(#sc110)"/><rect x="48.0" y="346.1" width="3.6" height="137.7" fill="url(#sc111)"/><rect x="51.0" y="346.1" width="3.6" height="137.7" fill="url(#sc112)"/><rect x="54.0" y="346.1" width="3.6" height="137.7" fill="url(#sc113)"/><rect x="57.0" y="346.1" width="3.6" height="137.7" fill="url(#sc114)"/><rect x="60.0" y="346.1" width="3.6" height="137.7" fill="url(#sc115)"/><rect x="63.0" y="346.1" width="3.6" height="137.7" fill="url(#sc116)"/><rect x="66.0" y="346.1" width="3.6" height="137.7" fill="url(#sc117)"/><rect x="69.0" y="346.1" width="3.6" height="137.7" fill="url(#sc118)"/><rect x="72.0" y="346.1" width="3.6" height="137.7" fill="url(#sc119)"/><rect x="75.0" y="346.1" width="3.6" height="137.7" fill="url(#sc120)"/><rect x="78.0" y="346.1" width="3.6" height="137.7" fill="url(#sc121)"/><rect x="81.0" y="346.1" width="3.6" height="137.7" fill="url(#sc122)"/><rect x="84.0" y="346.1" width="3.6" height="137.7" fill="url(#sc123)"/><rect x="87.0" y="346.1" width="3.6" height="137.7" fill="url(#sc124)"/><rect x="90.0" y="346.1" width="3.6" height="137.7" fill="url(#sc125)"/><rect x="93.0" y="346.1" width="3.6" height="137.7" fill="url(#sc126)"/><rect x="96.0" y="346.1" width="3.6" height="137.7" fill="url(#sc127)"/><rect x="99.0" y="346.1" width="3.6" height="137.7" fill="url(#sc128)"/><rect x="102.0" y="346.1" width="3.6" height="137.7" fill="url(#sc129)"/><rect x="105.0" y="346.1" width="3.6" height="137.7" fill="url(#sc130)"/><rect x="108.0" y="346.1" width="3.6" height="137.7" fill="url(#sc131)"/><rect x="111.0" y="346.1" width="3.6" height="137.7" fill="url(#sc132)"/><rect x="114.0" y="346.1" width="3.6" height="137.7" fill="url(#sc133)"/><rect x="117.0" y="346.1" width="3.6" height="137.7" fill="url(#sc134)"/><rect x="120.0" y="346.1" width="3.6" height="137.7" fill="url(#sc135)"/><rect x="123.0" y="346.1" width="3.6" height="137.7" fill="url(#sc136)"/><rect x="126.0" y="346.1" width="3.6" height="137.7" fill="url(#sc137)"/><rect x="129.0" y="346.1" width="3.6" height="137.7" fill="url(#sc138)"/><rect x="132.0" y="346.1" width="3.6" height="137.7" fill="url(#sc139)"/><rect x="135.0" y="346.1" width="3.6" height="137.7" fill="url(#sc140)"/><rect x="138.0" y="346.1" width="3.6" height="137.7" fill="url(#sc141)"/><rect x="141.0" y="346.1" width="3.6" height="137.7" fill="url(#sc142)"/><rect x="144.0" y="346.1" width="3.6" height="137.7" fill="url(#sc143)"/><rect x="147.0" y="346.1" width="3.6" height="137.7" fill="url(#sc144)"/><rect x="150.0" y="346.1" width="3.6" height="137.7" fill="url(#sc145)"/><rect x="153.0" y="346.1" width="3.6" height="137.7" fill="url(#sc146)"/><rect x="156.0" y="346.1" width="3.6" height="137.7" fill="url(#sc147)"/></g></g>
<line x1="74.5" y1="466.5" x2="70.9" y2="468.7" class="t"/>
<line x1="74.5" y1="466.5" x2="78.1" y2="469.1" class="t"/>
<line x1="44.9" y1="442.6" x2="41.2" y2="444.8" class="t"/>
<line x1="117.1" y1="448.5" x2="120.7" y2="451.1" class="t"/>
<line x1="15.2" y1="418.8" x2="11.6" y2="421.0" class="t"/>
<line x1="159.7" y1="430.5" x2="163.3" y2="433.1" class="t"/>
<text x="8.9" y="434.7" class="sl">1</text>
<text x="41.0" y="457.9" class="sl">0.5</text>
<text x="36.6" y="473.0" class="sl si">Y</text>
<text x="75.0" y="482.0" class="sl">0</text>
<text x="123.5" y="464.4" class="sl">0.5</text>
<text x="122.5" y="478.8" class="sl si">X</text>
<text x="162.2" y="445.3" class="sl">1</text>
<text x="128.7" y="370.5" class="pm">0.1536</text>
<text x="128.9" y="356.0" class="pm pi">P</text>
<text x="135.9" y="359.2" class="ps">m ax</text>
<text x="152.5" y="356.1" class="pm">:</text>
<line x1="192.0" y1="420.5" x2="252.0" y2="467.2" class="f"/>
<line x1="252.0" y1="467.2" x2="335.0" y2="431.5" class="f"/>
<line x1="335.0" y1="431.5" x2="275.0" y2="384.8" class="f"/>
<line x1="192.0" y1="420.5" x2="275.0" y2="384.8" class="f"/>
<g clip-path="url(#cc2)"><g filter="url(#hb)"><rect x="192.0" y="351.1" width="3.6" height="116.4" fill="url(#sc20)"/><rect x="195.0" y="351.1" width="3.6" height="116.4" fill="url(#sc21)"/><rect x="198.0" y="351.1" width="3.6" height="116.4" fill="url(#sc22)"/><rect x="201.0" y="351.1" width="3.6" height="116.4" fill="url(#sc23)"/><rect x="204.0" y="351.1" width="3.6" height="116.4" fill="url(#sc24)"/><rect x="207.0" y="351.1" width="3.6" height="116.4" fill="url(#sc25)"/><rect x="210.0" y="351.1" width="3.6" height="116.4" fill="url(#sc26)"/><rect x="213.0" y="351.1" width="3.6" height="116.4" fill="url(#sc27)"/><rect x="216.0" y="351.1" width="3.6" height="116.4" fill="url(#sc28)"/><rect x="219.0" y="351.1" width="3.6" height="116.4" fill="url(#sc29)"/><rect x="222.0" y="351.1" width="3.6" height="116.4" fill="url(#sc210)"/><rect x="225.0" y="351.1" width="3.6" height="116.4" fill="url(#sc211)"/><rect x="228.0" y="351.1" width="3.6" height="116.4" fill="url(#sc212)"/><rect x="231.0" y="351.1" width="3.6" height="116.4" fill="url(#sc213)"/><rect x="234.0" y="351.1" width="3.6" height="116.4" fill="url(#sc214)"/><rect x="237.0" y="351.1" width="3.6" height="116.4" fill="url(#sc215)"/><rect x="240.0" y="351.1" width="3.6" height="116.4" fill="url(#sc216)"/><rect x="243.0" y="351.1" width="3.6" height="116.4" fill="url(#sc217)"/><rect x="246.0" y="351.1" width="3.6" height="116.4" fill="url(#sc218)"/><rect x="249.0" y="351.1" width="3.6" height="116.4" fill="url(#sc219)"/><rect x="252.0" y="351.1" width="3.6" height="116.4" fill="url(#sc220)"/><rect x="255.0" y="351.1" width="3.6" height="116.4" fill="url(#sc221)"/><rect x="258.0" y="351.1" width="3.6" height="116.4" fill="url(#sc222)"/><rect x="261.0" y="351.1" width="3.6" height="116.4" fill="url(#sc223)"/><rect x="264.0" y="351.1" width="3.6" height="116.4" fill="url(#sc224)"/><rect x="267.0" y="351.1" width="3.6" height="116.4" fill="url(#sc225)"/><rect x="270.0" y="351.1" width="3.6" height="116.4" fill="url(#sc226)"/><rect x="273.0" y="351.1" width="3.6" height="116.4" fill="url(#sc227)"/><rect x="276.0" y="351.1" width="3.6" height="116.4" fill="url(#sc228)"/><rect x="279.0" y="351.1" width="3.6" height="116.4" fill="url(#sc229)"/><rect x="282.0" y="351.1" width="3.6" height="116.4" fill="url(#sc230)"/><rect x="285.0" y="351.1" width="3.6" height="116.4" fill="url(#sc231)"/><rect x="288.0" y="351.1" width="3.6" height="116.4" fill="url(#sc232)"/><rect x="291.0" y="351.1" width="3.6" height="116.4" fill="url(#sc233)"/><rect x="294.0" y="351.1" width="3.6" height="116.4" fill="url(#sc234)"/><rect x="297.0" y="351.1" width="3.6" height="116.4" fill="url(#sc235)"/><rect x="300.0" y="351.1" width="3.6" height="116.4" fill="url(#sc236)"/><rect x="303.0" y="351.1" width="3.6" height="116.4" fill="url(#sc237)"/><rect x="306.0" y="351.1" width="3.6" height="116.4" fill="url(#sc238)"/><rect x="309.0" y="351.1" width="3.6" height="116.4" fill="url(#sc239)"/><rect x="312.0" y="351.1" width="3.6" height="116.4" fill="url(#sc240)"/><rect x="315.0" y="351.1" width="3.6" height="116.4" fill="url(#sc241)"/><rect x="318.0" y="351.1" width="3.6" height="116.4" fill="url(#sc242)"/><rect x="321.0" y="351.1" width="3.6" height="116.4" fill="url(#sc243)"/><rect x="324.0" y="351.1" width="3.6" height="116.4" fill="url(#sc244)"/><rect x="327.0" y="351.1" width="3.6" height="116.4" fill="url(#sc245)"/><rect x="330.0" y="351.1" width="3.6" height="116.4" fill="url(#sc246)"/><rect x="333.0" y="351.1" width="3.6" height="116.4" fill="url(#sc247)"/></g></g>
<line x1="252.0" y1="467.2" x2="248.4" y2="469.4" class="t"/>
<line x1="252.0" y1="467.2" x2="255.6" y2="469.8" class="t"/>
<line x1="222.0" y1="443.9" x2="218.4" y2="446.1" class="t"/>
<line x1="293.5" y1="449.4" x2="297.1" y2="452.0" class="t"/>
<line x1="192.0" y1="420.5" x2="188.4" y2="422.7" class="t"/>
<line x1="335.0" y1="431.5" x2="338.6" y2="434.1" class="t"/>
<text x="186.8" y="435.5" class="sl">1</text>
<text x="219.0" y="459.2" class="sl">0.5</text>
<text x="214.5" y="473.0" class="sl si">Y</text>
<text x="252.0" y="482.9" class="sl">0</text>
<text x="301.0" y="465.4" class="sl">0.5</text>
<text x="299.6" y="481.1" class="sl si">X</text>
<text x="339.8" y="447.2" class="sl">1</text>
<text x="299.7" y="370.2" class="pm">0.1446</text>
<text x="299.9" y="355.7" class="pm pi">P</text>
<text x="306.9" y="358.9" class="ps">m ax</text>
<text x="323.5" y="355.8" class="pm">:</text>
<line x1="367.5" y1="419.5" x2="427.0" y2="467.0" class="f"/>
<line x1="427.0" y1="467.0" x2="510.5" y2="432.2" class="f"/>
<line x1="510.5" y1="432.2" x2="451.0" y2="384.7" class="f"/>
<line x1="367.5" y1="419.5" x2="451.0" y2="384.7" class="f"/>
<g clip-path="url(#cc3)"><g filter="url(#hb)"><rect x="367.0" y="350.9" width="3.6" height="116.6" fill="url(#sc30)"/><rect x="370.0" y="350.9" width="3.6" height="116.6" fill="url(#sc31)"/><rect x="373.0" y="350.9" width="3.6" height="116.6" fill="url(#sc32)"/><rect x="376.0" y="350.9" width="3.6" height="116.6" fill="url(#sc33)"/><rect x="379.0" y="350.9" width="3.6" height="116.6" fill="url(#sc34)"/><rect x="382.0" y="350.9" width="3.6" height="116.6" fill="url(#sc35)"/><rect x="385.0" y="350.9" width="3.6" height="116.6" fill="url(#sc36)"/><rect x="388.0" y="350.9" width="3.6" height="116.6" fill="url(#sc37)"/><rect x="391.0" y="350.9" width="3.6" height="116.6" fill="url(#sc38)"/><rect x="394.0" y="350.9" width="3.6" height="116.6" fill="url(#sc39)"/><rect x="397.0" y="350.9" width="3.6" height="116.6" fill="url(#sc310)"/><rect x="400.0" y="350.9" width="3.6" height="116.6" fill="url(#sc311)"/><rect x="403.0" y="350.9" width="3.6" height="116.6" fill="url(#sc312)"/><rect x="406.0" y="350.9" width="3.6" height="116.6" fill="url(#sc313)"/><rect x="409.0" y="350.9" width="3.6" height="116.6" fill="url(#sc314)"/><rect x="412.0" y="350.9" width="3.6" height="116.6" fill="url(#sc315)"/><rect x="415.0" y="350.9" width="3.6" height="116.6" fill="url(#sc316)"/><rect x="418.0" y="350.9" width="3.6" height="116.6" fill="url(#sc317)"/><rect x="421.0" y="350.9" width="3.6" height="116.6" fill="url(#sc318)"/><rect x="424.0" y="350.9" width="3.6" height="116.6" fill="url(#sc319)"/><rect x="427.0" y="350.9" width="3.6" height="116.6" fill="url(#sc320)"/><rect x="430.0" y="350.9" width="3.6" height="116.6" fill="url(#sc321)"/><rect x="433.0" y="350.9" width="3.6" height="116.6" fill="url(#sc322)"/><rect x="436.0" y="350.9" width="3.6" height="116.6" fill="url(#sc323)"/><rect x="439.0" y="350.9" width="3.6" height="116.6" fill="url(#sc324)"/><rect x="442.0" y="350.9" width="3.6" height="116.6" fill="url(#sc325)"/><rect x="445.0" y="350.9" width="3.6" height="116.6" fill="url(#sc326)"/><rect x="448.0" y="350.9" width="3.6" height="116.6" fill="url(#sc327)"/><rect x="451.0" y="350.9" width="3.6" height="116.6" fill="url(#sc328)"/><rect x="454.0" y="350.9" width="3.6" height="116.6" fill="url(#sc329)"/><rect x="457.0" y="350.9" width="3.6" height="116.6" fill="url(#sc330)"/><rect x="460.0" y="350.9" width="3.6" height="116.6" fill="url(#sc331)"/><rect x="463.0" y="350.9" width="3.6" height="116.6" fill="url(#sc332)"/><rect x="466.0" y="350.9" width="3.6" height="116.6" fill="url(#sc333)"/><rect x="469.0" y="350.9" width="3.6" height="116.6" fill="url(#sc334)"/><rect x="472.0" y="350.9" width="3.6" height="116.6" fill="url(#sc335)"/><rect x="475.0" y="350.9" width="3.6" height="116.6" fill="url(#sc336)"/><rect x="478.0" y="350.9" width="3.6" height="116.6" fill="url(#sc337)"/><rect x="481.0" y="350.9" width="3.6" height="116.6" fill="url(#sc338)"/><rect x="484.0" y="350.9" width="3.6" height="116.6" fill="url(#sc339)"/><rect x="487.0" y="350.9" width="3.6" height="116.6" fill="url(#sc340)"/><rect x="490.0" y="350.9" width="3.6" height="116.6" fill="url(#sc341)"/><rect x="493.0" y="350.9" width="3.6" height="116.6" fill="url(#sc342)"/><rect x="496.0" y="350.9" width="3.6" height="116.6" fill="url(#sc343)"/><rect x="499.0" y="350.9" width="3.6" height="116.6" fill="url(#sc344)"/><rect x="502.0" y="350.9" width="3.6" height="116.6" fill="url(#sc345)"/><rect x="505.0" y="350.9" width="3.6" height="116.6" fill="url(#sc346)"/><rect x="508.0" y="350.9" width="3.6" height="116.6" fill="url(#sc347)"/><rect x="511.0" y="350.9" width="3.6" height="116.6" fill="url(#sc348)"/></g></g>
<line x1="427.0" y1="467.0" x2="423.4" y2="469.2" class="t"/>
<line x1="427.0" y1="467.0" x2="430.6" y2="469.6" class="t"/>
<line x1="397.2" y1="443.2" x2="393.6" y2="445.4" class="t"/>
<line x1="468.8" y1="449.6" x2="472.4" y2="452.2" class="t"/>
<line x1="367.5" y1="419.5" x2="363.9" y2="421.7" class="t"/>
<line x1="510.5" y1="432.2" x2="514.1" y2="434.8" class="t"/>
<text x="362.1" y="435.5" class="sl">1</text>
<text x="395.6" y="459.2" class="sl">0.5</text>
<text x="389.8" y="473.0" class="sl si">Y</text>
<text x="427.3" y="482.9" class="sl">0</text>
<text x="476.0" y="465.4" class="sl">0.5</text>
<text x="475.5" y="481.1" class="sl si">X</text>
<text x="515.4" y="447.2" class="sl">1</text>
<text x="478.3" y="370.6" class="pm">0.1442</text>
<text x="478.5" y="356.1" class="pm pi">P</text>
<text x="485.5" y="359.3" class="ps">m ax</text>
<text x="502.1" y="356.2" class="pm">:</text>
<line x1="61.5" y1="456.0" x2="74.5" y2="466.5" class="f2"/>
<line x1="74.5" y1="466.5" x2="112.8" y2="450.3" class="f2"/>
<line x1="78.3" y1="300.6" x2="113" y2="286.4" stroke="#00007a" stroke-width="0.8" opacity="0.55"/>
<text x="277.0" y="166.3" class="pl">(a)</text>
<text x="277.2" y="332.4" class="pl">(b)</text>
<text x="276.9" y="496.8" class="pl">(c)</text>
<text x="514" y="150" class="en">Entrainment</text>
<text x="514" y="164.1" class="en">direction</text>
<path d="M517.9 109.6L536.9 107.6L538.7 126.5L533.6 121.6L521.7 136.3L511.9 128L523.6 115.2Z" fill="#c8307a"/>
</svg></body></html>
